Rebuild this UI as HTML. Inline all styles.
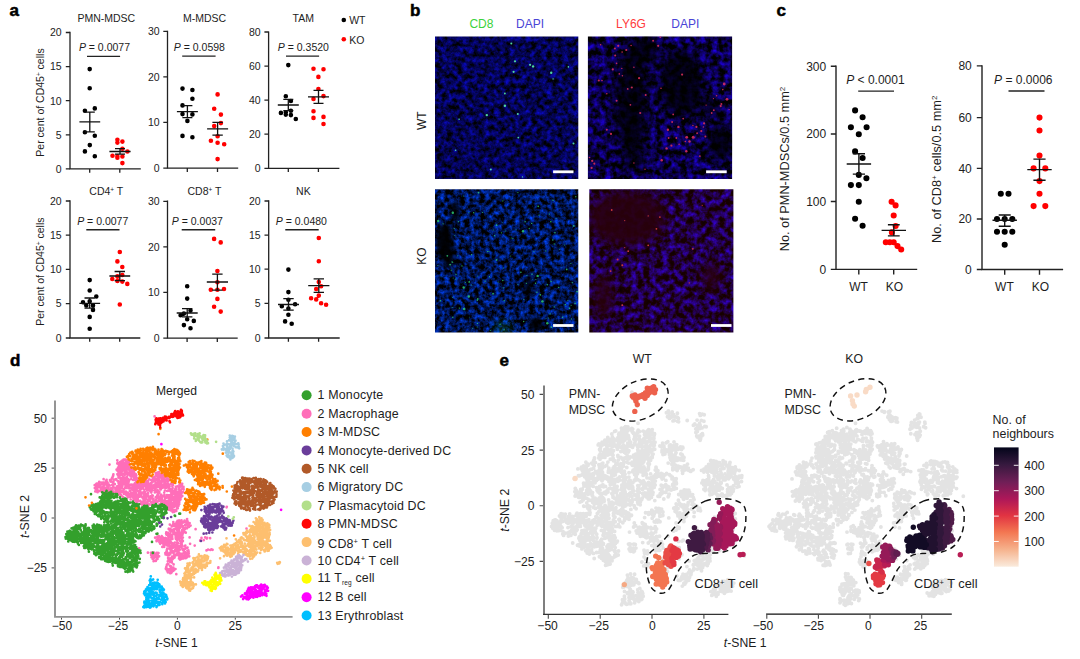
<!DOCTYPE html>
<html><head><meta charset="utf-8"><title>Figure</title>
<style>
html,body{margin:0;padding:0;background:#fff}
svg{display:block}
svg{fill:#1d1d1d}
svg text{font-family:"Liberation Sans",sans-serif}
</style></head><body>
<svg width="1080" height="659" viewBox="0 0 1080 659">
<rect width="1080" height="659" fill="#fff"/>
<text x="9.6" y="15.8" font-size="17" font-weight="bold" fill="#000" stroke="#000" stroke-width="0.5">a</text>
<path d="M70 31.8V168.9H140.8" stroke="#222" stroke-width="1.3" fill="none"/>
<path d="M65.8 168.9H70M65.8 134.8H70M65.8 100.7H70M65.8 66.6H70M65.8 32.5H70M89.7 168.9V172.7M119.8 168.9V172.7" stroke="#222" stroke-width="1.3" fill="none"/>
<text x="61.6" y="172.7" font-size="10.50" text-anchor="end">0</text>
<text x="61.6" y="138.6" font-size="10.50" text-anchor="end">5</text>
<text x="61.6" y="104.5" font-size="10.50" text-anchor="end">10</text>
<text x="61.6" y="70.4" font-size="10.50" text-anchor="end">15</text>
<text x="61.6" y="36.3" font-size="10.50" text-anchor="end">20</text>
<text x="106.3" y="21.7" font-size="10.50" text-anchor="middle">PMN-MDSC</text>
<text x="78.9" y="50.6" font-size="10.50"><tspan font-style="italic">P</tspan> = 0.0077</text>
<path d="M87 56.3L120.1 56.3" stroke="#222" stroke-width="1.35" fill="none"/>
<path d="M89.7 69.1h0M89.7 88.3h0M84.9 110.8h0M94.8 108.4h0M84.9 132.2h0M94.8 135.8h0M89.8 145.1h0M84.9 151.4h0M94.8 156.3h0" stroke="#000" stroke-width="4.6" stroke-linecap="round" fill="none"/>
<path d="M117.4 139.8h0M117.4 142.6h0M122.4 141.6h0M122.4 148.7h0M127.4 151.5h0M112.5 155.8h0M117.4 156.3h0M117.4 157.8h0M122.4 156.5h0M122.4 163.1h0" stroke="#ff0000" stroke-width="4.6" stroke-linecap="round" fill="none"/>
<path d="M79.4 121.8H100.2M89.8 112.2V131.9M84.8 112.2H94.8M84.8 131.9H94.8" stroke="#111" stroke-width="1.3" fill="none"/>
<path d="M109.4 151.5H130.6M120 148.7V154.1M115 148.7H125M115 154.1H125" stroke="#111" stroke-width="1.3" fill="none"/>
<path d="M167.5 30.7V168.1H238.2" stroke="#222" stroke-width="1.3" fill="none"/>
<path d="M163.3 168.1H167.5M163.3 122.4H167.5M163.3 76.9H167.5M163.3 31.3H167.5M187.3 168.1V171.9M217.5 168.1V171.9" stroke="#222" stroke-width="1.3" fill="none"/>
<text x="159.6" y="171.9" font-size="10.50" text-anchor="end">0</text>
<text x="159.6" y="126.2" font-size="10.50" text-anchor="end">10</text>
<text x="159.6" y="80.7" font-size="10.50" text-anchor="end">20</text>
<text x="159.6" y="35.1" font-size="10.50" text-anchor="end">30</text>
<text x="204.6" y="21.7" font-size="10.50" text-anchor="middle">M-MDSC</text>
<text x="173.8" y="50.6" font-size="10.50"><tspan font-style="italic">P</tspan> = 0.0598</text>
<path d="M182.2 56.1L215.6 56.1" stroke="#222" stroke-width="1.35" fill="none"/>
<path d="M182.5 88.6h0M192.4 90h0M192.4 98.7h0M182.5 105.4h0M182.5 114.1h0M192.4 114.4h0M187.4 120.9h0M182.5 135.9h0M192.4 137.3h0" stroke="#000" stroke-width="4.6" stroke-linecap="round" fill="none"/>
<path d="M217.6 94.4h0M214.2 108.8h0M220.9 114.6h0M220.9 123.1h0M214.2 126.1h0M217.6 136.2h0M210.9 140.8h0M217.6 142.7h0M224.2 144.2h0M217.6 159.1h0" stroke="#ff0000" stroke-width="4.6" stroke-linecap="round" fill="none"/>
<path d="M176.9 111.6H197.9M187.4 105.7V117.7M182.4 105.7H192.4M182.4 117.7H192.4" stroke="#111" stroke-width="1.3" fill="none"/>
<path d="M207.1 128.9H228.1M217.6 122.4V135.2M212.4 122.4H222.8M212.4 135.2H222.8" stroke="#111" stroke-width="1.3" fill="none"/>
<path d="M268.6 31.4V168.3H339.4" stroke="#222" stroke-width="1.3" fill="none"/>
<path d="M264.4 168.3H268.6M264.4 134.1H268.6M264.4 100.1H268.6M264.4 66.1H268.6M264.4 32H268.6M288.3 168.3V172.1M318.4 168.3V172.1" stroke="#222" stroke-width="1.3" fill="none"/>
<text x="260.7" y="172.1" font-size="10.50" text-anchor="end">0</text>
<text x="260.7" y="137.9" font-size="10.50" text-anchor="end">20</text>
<text x="260.7" y="103.9" font-size="10.50" text-anchor="end">40</text>
<text x="260.7" y="69.9" font-size="10.50" text-anchor="end">60</text>
<text x="260.7" y="35.8" font-size="10.50" text-anchor="end">80</text>
<text x="303.3" y="21.7" font-size="10.50" text-anchor="middle">TAM</text>
<text x="277.8" y="50.6" font-size="10.50"><tspan font-style="italic">P</tspan> = 0.3520</text>
<path d="M286 56.1L319.1 56.1" stroke="#222" stroke-width="1.35" fill="none"/>
<path d="M288.3 65.1h0M285.8 96.3h0M290.9 101h0M290.9 110.8h0M285.8 112.3h0M280.9 112.9h0M285.8 114.6h0M290.9 115.1h0M295.8 119h0" stroke="#000" stroke-width="4.6" stroke-linecap="round" fill="none"/>
<path d="M313.5 68.7h0M323.5 69.2h0M318.4 76.9h0M318.4 89h0M323.5 96.1h0M313.5 98.9h0M313.5 111.3h0M313.5 117.9h0M323.5 116.9h0M323.5 124h0" stroke="#ff0000" stroke-width="4.6" stroke-linecap="round" fill="none"/>
<path d="M277.8 105H298.8M288.3 99.4V110.6M283.3 99.4H293.3M283.3 110.6H293.3" stroke="#111" stroke-width="1.3" fill="none"/>
<path d="M308 96.8H329M318.5 90.4V103.3M313.5 90.4H323.5M313.5 103.3H323.5" stroke="#111" stroke-width="1.3" fill="none"/>
<path d="M70 200.3V338H140.3" stroke="#222" stroke-width="1.3" fill="none"/>
<path d="M65.8 338H70M65.8 303.6H70M65.8 269.4H70M65.8 235.2H70M65.8 201H70M89.7 338V341.8M119.7 338V341.8" stroke="#222" stroke-width="1.3" fill="none"/>
<text x="61.6" y="341.8" font-size="10.50" text-anchor="end">0</text>
<text x="61.6" y="307.4" font-size="10.50" text-anchor="end">5</text>
<text x="61.6" y="273.2" font-size="10.50" text-anchor="end">10</text>
<text x="61.6" y="239" font-size="10.50" text-anchor="end">15</text>
<text x="61.6" y="204.8" font-size="10.50" text-anchor="end">20</text>
<text x="106.3" y="195" font-size="10.50" text-anchor="middle">CD4<tspan dy="-3.2" font-size="6.5">+</tspan><tspan dy="3.2">&#8203;</tspan> T</text>
<text x="77.2" y="224.7" font-size="10.50"><tspan font-style="italic">P</tspan> = 0.0077</text>
<path d="M86.3 229.7L119.5 229.7" stroke="#222" stroke-width="1.35" fill="none"/>
<path d="M89.7 280.1h0M89.7 290.5h0M96.3 296.5h0M83 302.2h0M89.7 301.2h0M86.3 305.4h0M93 305.4h0M93 309.9h0M89.7 316.9h0M89.7 328.7h0" stroke="#000" stroke-width="4.6" stroke-linecap="round" fill="none"/>
<path d="M119.8 252h0M117.4 261.4h0M122.3 267h0M122.3 275h0M117.4 276.4h0M112.3 279h0M117.4 280.9h0M122.3 281.6h0M127.3 283.9h0M119.8 304.5h0" stroke="#ff0000" stroke-width="4.6" stroke-linecap="round" fill="none"/>
<path d="M79.3 303.3H100.1M89.7 298V308.1M84.5 298H94.9M84.5 308.1H94.9" stroke="#111" stroke-width="1.3" fill="none"/>
<path d="M109.4 276H130.2M119.8 271.5V280.6M114.6 271.5H125M114.6 280.6H125" stroke="#111" stroke-width="1.3" fill="none"/>
<path d="M167.5 200.5V338.1H237.7" stroke="#222" stroke-width="1.3" fill="none"/>
<path d="M163.3 338.1H167.5M163.3 292.4H167.5M163.3 246.9H167.5M163.3 201.3H167.5M187.1 338.1V341.9M217.3 338.1V341.9" stroke="#222" stroke-width="1.3" fill="none"/>
<text x="159.6" y="341.9" font-size="10.50" text-anchor="end">0</text>
<text x="159.6" y="296.2" font-size="10.50" text-anchor="end">10</text>
<text x="159.6" y="250.7" font-size="10.50" text-anchor="end">20</text>
<text x="159.6" y="205.1" font-size="10.50" text-anchor="end">30</text>
<text x="204.5" y="195" font-size="10.50" text-anchor="middle">CD8<tspan dy="-3.2" font-size="6.5">+</tspan><tspan dy="3.2">&#8203;</tspan> T</text>
<text x="171.8" y="224.7" font-size="10.50"><tspan font-style="italic">P</tspan> = 0.0037</text>
<path d="M181.7 229.7L215.2 229.7" stroke="#222" stroke-width="1.35" fill="none"/>
<path d="M187.2 286.3h0M187.2 298.6h0M190.5 310.6h0M183.9 313.6h0M180.6 315.3h0M187.2 319.3h0M193.8 320.9h0M183.9 325.1h0M190.5 328.2h0" stroke="#000" stroke-width="4.6" stroke-linecap="round" fill="none"/>
<path d="M214.1 238.9h0M220.7 242.4h0M217.4 271h0M217.4 282.3h0M210.8 289.8h0M217.4 289.8h0M224 289h0M217.4 298.9h0M214.1 306.7h0M220.7 311.6h0" stroke="#ff0000" stroke-width="4.6" stroke-linecap="round" fill="none"/>
<path d="M176.7 313H197.7M187.2 308.7V316.9M182 308.7H192.4M182 316.9H192.4" stroke="#111" stroke-width="1.3" fill="none"/>
<path d="M206.8 282H228M217.4 274.1V290.2M212.2 274.1H222.6M212.2 290.2H222.6" stroke="#111" stroke-width="1.3" fill="none"/>
<path d="M268.7 200.3V338H339.7" stroke="#222" stroke-width="1.3" fill="none"/>
<path d="M264.5 338H268.7M264.5 303.4H268.7M264.5 269.2H268.7M264.5 235.1H268.7M264.5 201H268.7M288.4 338V341.8M318.6 338V341.8" stroke="#222" stroke-width="1.3" fill="none"/>
<text x="260.7" y="341.8" font-size="10.50" text-anchor="end">0</text>
<text x="260.7" y="307.2" font-size="10.50" text-anchor="end">5</text>
<text x="260.7" y="273" font-size="10.50" text-anchor="end">10</text>
<text x="260.7" y="238.9" font-size="10.50" text-anchor="end">15</text>
<text x="260.7" y="204.8" font-size="10.50" text-anchor="end">20</text>
<text x="303.4" y="195" font-size="10.50" text-anchor="middle">NK</text>
<text x="275.8" y="224.7" font-size="10.50"><tspan font-style="italic">P</tspan> = 0.0480</text>
<path d="M285.3 229.7L318.7 229.7" stroke="#222" stroke-width="1.35" fill="none"/>
<path d="M288.4 269.6h0M288.4 292.1h0M288.4 299.8h0M281.8 306.2h0M295.1 304.3h0M288.4 308.5h0M288.4 314.8h0M285.1 321.4h0M291.7 323.8h0" stroke="#000" stroke-width="4.6" stroke-linecap="round" fill="none"/>
<path d="M318.8 238h0M318.8 261.2h0M318.8 282h0M321.1 286.3h0M316.2 289h0M318.8 295.6h0M311.1 298.2h0M316.2 299.4h0M321.1 303.3h0M326.1 304.7h0" stroke="#ff0000" stroke-width="4.6" stroke-linecap="round" fill="none"/>
<path d="M278 304.5H299M288.5 298.6V310.1M283.3 298.6H293.7M283.3 310.1H293.7" stroke="#111" stroke-width="1.3" fill="none"/>
<path d="M308.2 285.6H329.4M318.8 278.8V292.3M313.6 278.8H324M313.6 292.3H324" stroke="#111" stroke-width="1.3" fill="none"/>
<text font-size="10.50" text-anchor="middle" transform="translate(44 102.5) rotate(-90)">Per cent of CD45<tspan dy="-3.2" font-size="6.5">+</tspan><tspan dy="3.2">&#8203;</tspan> cells</text>
<text font-size="10.50" text-anchor="middle" transform="translate(44 271.6) rotate(-90)">Per cent of CD45<tspan dy="-3.2" font-size="6.5">+</tspan><tspan dy="3.2">&#8203;</tspan> cells</text>
<circle cx="343.8" cy="20" r="2.3" fill="#000"/><circle cx="343.8" cy="39.2" r="2.3" fill="#f00"/>
<text x="349.2" y="24.3" font-size="10.50">WT</text>
<text x="349.2" y="43.5" font-size="10.50">KO</text>
<text x="776.5" y="15.9" font-size="17" font-weight="bold" fill="#000" stroke="#000" stroke-width="0.5">c</text>
<path d="M836 65.5V269.4H917.2" stroke="#222" stroke-width="1.4" fill="none"/>
<path d="M830.8 269.4H836M830.8 201.5H836M830.8 134H836M830.8 66.2H836M858.8 269.4V274.6M893.7 269.4V274.6" stroke="#222" stroke-width="1.4" fill="none"/>
<text x="826.2" y="273.7" font-size="12" text-anchor="end">0</text>
<text x="826.2" y="205.8" font-size="12" text-anchor="end">100</text>
<text x="826.2" y="138.3" font-size="12" text-anchor="end">200</text>
<text x="826.2" y="70.5" font-size="12" text-anchor="end">300</text>
<text x="846.2" y="84.2" font-size="12"><tspan font-style="italic">P</tspan> &lt; 0.0001</text>
<path d="M858.2 91.1L894 91.1" stroke="#222" stroke-width="1.35" fill="none"/>
<path d="M855.1 110.4h0M862.6 117.2h0M850.9 127.3h0M866.6 127.3h0M858.8 134.3h0M855.1 151.4h0M862.6 158h0M858.8 174.9h0M866.4 178.3h0M850.9 185.1h0M858.8 185.1h0M858.8 201.8h0M855.1 218.7h0M862.6 225.8h0" stroke="#000" stroke-width="6.1" stroke-linecap="round" fill="none"/>
<path d="M891.6 201.7h0M895.6 205.4h0M893.7 215.5h0M895.6 226h0M891.9 232.4h0M885.8 242.2h0M889.8 242.2h0M893.7 242.2h0M897.5 246.1h0M901.2 249.5h0" stroke="#ff0000" stroke-width="6.1" stroke-linecap="round" fill="none"/>
<path d="M846.7 164H871.1M858.9 153.7V174.1M852.8 153.7H865M852.8 174.1H865" stroke="#111" stroke-width="1.4" fill="none"/>
<path d="M881.6 230.4H906M893.8 224.8V235.9M887.9 224.8H899.7M887.9 235.9H899.7" stroke="#111" stroke-width="1.4" fill="none"/>
<text x="858.5" y="290.9" font-size="12" text-anchor="middle">WT</text>
<text x="894.3" y="290.9" font-size="12" text-anchor="middle">KO</text>
<path d="M982 65.2V269.5H1063.1" stroke="#222" stroke-width="1.4" fill="none"/>
<path d="M976.8 269.5H982M976.8 219H982M976.8 168.4H982M976.8 117.6H982M976.8 65.9H982M1004.7 269.5V274.7M1039.5 269.5V274.7" stroke="#222" stroke-width="1.4" fill="none"/>
<text x="971.8" y="273.8" font-size="12" text-anchor="end">0</text>
<text x="971.8" y="223.3" font-size="12" text-anchor="end">20</text>
<text x="971.8" y="172.7" font-size="12" text-anchor="end">40</text>
<text x="971.8" y="121.9" font-size="12" text-anchor="end">60</text>
<text x="971.8" y="70.2" font-size="12" text-anchor="end">80</text>
<text x="994.1" y="84.2" font-size="12"><tspan font-style="italic">P</tspan> = 0.0006</text>
<path d="M1008.5 91L1044.5 91" stroke="#222" stroke-width="1.35" fill="none"/>
<path d="M1000.8 193.7h0M1008.5 193.7h0M997 219h0M1004.7 219h0M1012.3 219h0M997 231.7h0M1004.7 231.7h0M1012.3 231.7h0M1004.7 244.7h0" stroke="#000" stroke-width="6.1" stroke-linecap="round" fill="none"/>
<path d="M1039.5 117.6h0M1039.5 130.5h0M1039.5 155.6h0M1033.6 168.4h0M1045.3 168.4h0M1039.5 181.1h0M1039.5 193.8h0M1033.6 206.1h0M1045.3 206.1h0" stroke="#ff0000" stroke-width="6.1" stroke-linecap="round" fill="none"/>
<path d="M992.5 220.2H1016.9M1004.7 215V226.2M998.7 215H1010.7M998.7 226.2H1010.7" stroke="#111" stroke-width="1.4" fill="none"/>
<path d="M1027.3 169.6H1051.7M1039.5 159.1V180.2M1033.4 159.1H1045.6M1033.4 180.2H1045.6" stroke="#111" stroke-width="1.4" fill="none"/>
<text x="1004.4" y="290.9" font-size="12" text-anchor="middle">WT</text>
<text x="1040.4" y="290.9" font-size="12" text-anchor="middle">KO</text>
<text font-size="12.75" text-anchor="middle" transform="translate(788.6 169) rotate(-90)">No. of PMN-MDSCs/0.5 mm<tspan dy="-4" font-size="8">2</tspan><tspan dy="4">&#8203;</tspan></text>
<text font-size="12.75" text-anchor="middle" transform="translate(940.6 169.3) rotate(-90)">No. of CD8<tspan dy="-4" font-size="8">+</tspan><tspan dy="4">&#8203;</tspan> cells/0.5 mm<tspan dy="-4" font-size="8">2</tspan><tspan dy="4">&#8203;</tspan></text>
<text x="410" y="15.7" font-size="17" font-weight="bold" fill="#000" stroke="#000" stroke-width="0.5">b</text>
<text x="469.4" y="28" font-size="12" fill="#3bd23b">CD8</text>
<text x="516.1" y="28" font-size="12" fill="#4a45d6">DAPI</text>
<text x="616.1" y="28.4" font-size="12" fill="#ff3b3b">LY6G</text>
<text x="671.3" y="28.4" font-size="12" fill="#4a45d6">DAPI</text>
<text font-size="12" text-anchor="middle" transform="translate(426.2 120.7) rotate(-90)">WT</text>
<text font-size="12" text-anchor="middle" transform="translate(426.2 256) rotate(-90)">KO</text>
<defs>
<filter id="n1" x="0" y="0" width="1" height="1" color-interpolation-filters="sRGB">
<feTurbulence type="fractalNoise" baseFrequency="0.19" numOctaves="4" seed="7" result="t"/>
<feColorMatrix in="t" type="matrix" values="0.06 0 0 0 -0.015  0.06 0 0 0 -0.015  1.3 0 0 0 -0.335  0 0 0 0 1"/>
</filter>
<filter id="n2" x="0" y="0" width="1" height="1" color-interpolation-filters="sRGB">
<feTurbulence type="fractalNoise" baseFrequency="0.16" numOctaves="3" seed="23" result="t"/>
<feColorMatrix in="t" type="matrix" values="0.2 0 0 0 -0.06  0 0 0 0 0  1.6 0 0 0 -0.52  0 0 0 0 1"/>
</filter>
<filter id="n3" x="0" y="0" width="1" height="1" color-interpolation-filters="sRGB">
<feTurbulence type="fractalNoise" baseFrequency="0.2" numOctaves="4" seed="41" result="t"/>
<feColorMatrix in="t" type="matrix" values="0 0 0 0 0  0.5 0 0 0 -0.17  1.8 0 0 0 -0.58  0 0 0 0 1"/>
</filter>
<filter id="n4" x="0" y="0" width="1" height="1" color-interpolation-filters="sRGB">
<feTurbulence type="fractalNoise" baseFrequency="0.16" numOctaves="3" seed="59" result="t"/>
<feColorMatrix in="t" type="matrix" values="0.2 0 0 0 0.03  0 0 0 0 0  1.7 0 0 0 -0.6  0 0 0 0 1"/>
</filter>
<filter id="bl1"><feGaussianBlur stdDeviation="0.6"/></filter>
<filter id="bl8" x="-0.5" y="-0.5" width="2" height="2"><feGaussianBlur stdDeviation="6"/></filter>
<filter id="bl3" x="-0.5" y="-0.5" width="2" height="2"><feGaussianBlur stdDeviation="2.5"/></filter>
<clipPath id="c1"><rect x="435" y="36.4" width="143.3" height="142.7"/></clipPath>
<clipPath id="c2"><rect x="587.9" y="36.4" width="144.2" height="142.7"/></clipPath>
<clipPath id="c3"><rect x="435" y="189.3" width="143.3" height="143.2"/></clipPath>
<clipPath id="c4"><rect x="589.3" y="189.3" width="144.1" height="143.2"/></clipPath>
</defs>
<g clip-path="url(#c1)">
<rect x="435" y="36.4" width="143.3" height="142.7" filter="url(#n1)"/>
<g filter="url(#bl1)" fill="#50d8a0"><circle cx="511.3" cy="43.4" r="1"/><circle cx="515" cy="61.3" r="1.1"/><circle cx="530.1" cy="64.8" r="1.1"/><circle cx="533.1" cy="66.4" r="1.2"/><circle cx="513.6" cy="71.8" r="1.1"/><circle cx="551.2" cy="72.8" r="1.2"/><circle cx="553.1" cy="78.9" r="0.7"/><circle cx="504.9" cy="93.5" r="0.9"/><circle cx="504.9" cy="105.7" r="1.2"/><circle cx="517.8" cy="113.9" r="1"/><circle cx="486.8" cy="115.1" r="1.2"/><circle cx="459.1" cy="119.3" r="0.8"/><circle cx="518.3" cy="137.6" r="0.9"/><circle cx="455.6" cy="150.3" r="0.8"/><circle cx="573.5" cy="143.5" r="1"/><circle cx="490.8" cy="169.4" r="1"/><circle cx="522.5" cy="176.9" r="0.7"/><circle cx="568.4" cy="66.9" r="0.8"/></g>
</g>
<rect x="553.1" y="170.4" width="20.4" height="2.8" fill="#fff"/>
<g clip-path="url(#c2)">
<rect x="587.9" y="36.4" width="144.2" height="142.7" filter="url(#n2)"/>
<g filter="url(#bl8)" fill="#000" opacity="0.8"><ellipse cx="631.7" cy="100.5" rx="16.5" ry="58.8"/><ellipse cx="681.1" cy="84.1" rx="22.3" ry="35.3"/><ellipse cx="721" cy="142.8" rx="14.1" ry="18.8"/><ellipse cx="645.8" cy="48.8" rx="14.1" ry="14.1"/><ellipse cx="711.6" cy="107.6" rx="9.4" ry="9.4"/><ellipse cx="634.1" cy="161.6" rx="11.8" ry="9.4"/></g>
<g opacity="0.85"><g filter="url(#bl1)" fill="#e0305c"><circle cx="600.6" cy="44.8" r="0.8"/><circle cx="618.2" cy="45.8" r="1.1"/><circle cx="614.9" cy="48.6" r="1"/><circle cx="631.1" cy="45.5" r="0.8"/><circle cx="626.3" cy="50" r="1.1"/><circle cx="622.1" cy="52.1" r="0.8"/><circle cx="615.2" cy="55.5" r="1"/><circle cx="616.6" cy="63.4" r="0.8"/><circle cx="621.8" cy="68.4" r="0.7"/><circle cx="612.8" cy="69.4" r="1.1"/><circle cx="619.3" cy="73.9" r="0.8"/><circle cx="622.4" cy="75.7" r="0.8"/><circle cx="639.1" cy="78.2" r="1.1"/><circle cx="598.8" cy="80.5" r="1.1"/><circle cx="602" cy="80.5" r="0.8"/><circle cx="631.8" cy="87.5" r="1.1"/><circle cx="627.7" cy="88.9" r="0.9"/><circle cx="645.7" cy="95.1" r="1"/><circle cx="661" cy="88.2" r="0.8"/><circle cx="682.1" cy="74.6" r="1.1"/><circle cx="653.1" cy="40.7" r="1"/><circle cx="658.2" cy="45.8" r="1.1"/><circle cx="660.3" cy="36.8" r="1.1"/><circle cx="633.9" cy="67.3" r="0.8"/><circle cx="724.2" cy="84" r="0.9"/><circle cx="722.8" cy="89.6" r="0.8"/><circle cx="716.6" cy="95.8" r="0.8"/><circle cx="713.5" cy="98.6" r="0.7"/><circle cx="727" cy="99.3" r="0.8"/><circle cx="721.4" cy="104.1" r="1"/><circle cx="706.1" cy="105.1" r="0.7"/><circle cx="616.6" cy="100.7" r="1"/><circle cx="630.4" cy="104.8" r="0.9"/><circle cx="606.8" cy="93.7" r="0.8"/><circle cx="640.2" cy="113" r="1.1"/><circle cx="673.2" cy="114.4" r="0.9"/><circle cx="713.8" cy="110.2" r="0.9"/><circle cx="711.7" cy="113" r="0.9"/><circle cx="720.7" cy="106.1" r="1.1"/><circle cx="729.1" cy="109.6" r="0.7"/><circle cx="678.4" cy="126.9" r="1.2"/><circle cx="692.9" cy="125.5" r="0.7"/><circle cx="696.4" cy="126.9" r="1.1"/><circle cx="704.1" cy="123.4" r="1.1"/><circle cx="703.4" cy="126.9" r="0.7"/><circle cx="701.3" cy="131.1" r="1.1"/><circle cx="697.1" cy="133.2" r="0.9"/><circle cx="705.4" cy="136.6" r="1"/><circle cx="686.7" cy="137.3" r="0.7"/><circle cx="693.2" cy="137.3" r="0.7"/><circle cx="685.3" cy="141.5" r="0.8"/><circle cx="689.5" cy="141.5" r="1.2"/><circle cx="679.1" cy="144.3" r="0.8"/><circle cx="671.4" cy="145.7" r="1.1"/><circle cx="666.6" cy="148.4" r="1.2"/><circle cx="686.3" cy="151.2" r="1.2"/><circle cx="676.3" cy="138" r="0.9"/><circle cx="668.6" cy="138" r="0.9"/><circle cx="606.8" cy="129.7" r="1"/><circle cx="611" cy="133.9" r="1.1"/><circle cx="589.5" cy="157.5" r="0.8"/><circle cx="592.2" cy="160.9" r="1.1"/><circle cx="594.3" cy="163.7" r="1.1"/><circle cx="591.6" cy="167.9" r="1.1"/><circle cx="633.9" cy="163" r="0.7"/><circle cx="661.7" cy="160.2" r="1.2"/><circle cx="645" cy="169.3" r="0.7"/><circle cx="699.9" cy="156.1" r="0.9"/><circle cx="672.1" cy="122.1" r="1"/><circle cx="667.9" cy="129.7" r="1.2"/><circle cx="683.2" cy="118.6" r="0.9"/><circle cx="693.2" cy="137.3" r="1.5"/><circle cx="686.7" cy="137.3" r="1.4"/><circle cx="724.2" cy="84" r="1.4"/><circle cx="727" cy="99.3" r="1.4"/></g></g>
</g>
<rect x="706.1" y="170.4" width="20.6" height="2.8" fill="#fff"/>
<g clip-path="url(#c3)">
<rect x="435" y="189.3" width="143.3" height="143.2" filter="url(#n3)"/>
<g filter="url(#bl3)" fill="#000" opacity="0.95"><ellipse cx="444.3" cy="241.8" rx="8.5" ry="18.8"/><ellipse cx="448.5" cy="255.9" rx="6.1" ry="11.8"/><ellipse cx="454.4" cy="211.2" rx="4.2" ry="10.6"/><ellipse cx="528.4" cy="286.4" rx="3.8" ry="11.8"/><ellipse cx="535.5" cy="324" rx="7.1" ry="7.1"/></g>
<g opacity="0.8"><g filter="url(#bl1)" fill="#30d070"><circle cx="452.8" cy="212.7" r="0.9"/><circle cx="438.2" cy="221" r="0.7"/><circle cx="443.1" cy="223.8" r="0.6"/><circle cx="458.4" cy="221.7" r="0.6"/><circle cx="454.2" cy="228.7" r="0.6"/><circle cx="468.8" cy="212.7" r="0.5"/><circle cx="502.8" cy="200.9" r="0.6"/><circle cx="538.2" cy="206.4" r="0.8"/><circle cx="496.6" cy="225.2" r="0.9"/><circle cx="501.4" cy="232.8" r="0.6"/><circle cx="516" cy="229.8" r="0.5"/><circle cx="523" cy="231.2" r="0.9"/><circle cx="525.1" cy="221.7" r="0.7"/><circle cx="531.7" cy="223.4" r="0.7"/><circle cx="529.2" cy="228.4" r="0.6"/><circle cx="550.8" cy="221.7" r="0.8"/><circle cx="573.7" cy="225.9" r="0.9"/><circle cx="575.8" cy="196.7" r="0.7"/><circle cx="554.2" cy="243.9" r="0.7"/><circle cx="559.8" cy="249.5" r="0.5"/><circle cx="447.3" cy="255.8" r="0.9"/><circle cx="457.7" cy="255.8" r="0.5"/><circle cx="487.6" cy="251.6" r="0.7"/><circle cx="478.5" cy="192.6" r="0.9"/><circle cx="549.4" cy="214.1" r="0.6"/><circle cx="554.9" cy="232.8" r="0.8"/><circle cx="496.6" cy="259.9" r="0.9"/><circle cx="452.1" cy="262" r="0.8"/><circle cx="450.1" cy="264.6" r="0.9"/><circle cx="452.8" cy="262.5" r="0.5"/><circle cx="461.9" cy="265.9" r="0.7"/><circle cx="465.3" cy="282.3" r="0.6"/><circle cx="469.2" cy="281.9" r="0.9"/><circle cx="463.7" cy="287.5" r="0.6"/><circle cx="468.8" cy="296.5" r="0.7"/><circle cx="477.8" cy="299" r="0.9"/><circle cx="464.2" cy="309" r="0.9"/><circle cx="493.1" cy="293.7" r="0.9"/><circle cx="502.8" cy="280.5" r="0.7"/><circle cx="504.2" cy="300.7" r="0.7"/><circle cx="520.9" cy="272.2" r="0.8"/><circle cx="532" cy="274.3" r="0.7"/><circle cx="537.6" cy="275.9" r="0.6"/><circle cx="535.5" cy="283.3" r="0.7"/><circle cx="526.4" cy="283.3" r="0.6"/><circle cx="536.9" cy="292.3" r="0.7"/><circle cx="540.3" cy="294.8" r="0.9"/><circle cx="542.4" cy="301.4" r="0.9"/><circle cx="547.3" cy="284.7" r="0.8"/><circle cx="554.2" cy="306.9" r="0.7"/><circle cx="550.1" cy="313.9" r="0.7"/><circle cx="548.7" cy="318" r="0.5"/><circle cx="547.3" cy="323.2" r="0.6"/><circle cx="551.4" cy="327.1" r="0.9"/><circle cx="566.7" cy="269.4" r="0.9"/><circle cx="572.3" cy="282.6" r="0.7"/><circle cx="577.1" cy="291.6" r="0.9"/><circle cx="575.1" cy="303.4" r="0.8"/><circle cx="569.5" cy="308.3" r="0.8"/><circle cx="565.3" cy="304.8" r="0.8"/><circle cx="562.6" cy="317.3" r="0.8"/><circle cx="504.2" cy="329.8" r="0.7"/><circle cx="500.1" cy="324.3" r="0.8"/><circle cx="490.3" cy="330.5" r="0.6"/><circle cx="523.7" cy="321.5" r="0.7"/><circle cx="452.8" cy="317.3" r="0.8"/><circle cx="440.3" cy="300.7" r="0.8"/><circle cx="463.7" cy="287.5" r="1.2"/><circle cx="468.8" cy="296.5" r="1.2"/><circle cx="464.2" cy="309" r="1.2"/><circle cx="537.6" cy="275.9" r="1.2"/><circle cx="542.4" cy="301.4" r="1.2"/><circle cx="547.3" cy="323.2" r="1.2"/><circle cx="438.2" cy="221" r="1.2"/><circle cx="523" cy="231.2" r="1.2"/><circle cx="452.8" cy="212.7" r="1.2"/><circle cx="477.4" cy="323.4" r="0.6"/><circle cx="517.9" cy="192.6" r="0.6"/><circle cx="471.3" cy="285" r="0.5"/><circle cx="551.2" cy="281.6" r="0.6"/><circle cx="485.1" cy="281.2" r="0.6"/><circle cx="552.8" cy="240" r="0.7"/><circle cx="558.7" cy="287.4" r="0.7"/><circle cx="570.9" cy="263.5" r="0.6"/><circle cx="459.4" cy="308.1" r="0.7"/><circle cx="503.3" cy="287.8" r="0.6"/><circle cx="539" cy="215.1" r="0.6"/><circle cx="517.9" cy="284.2" r="0.5"/><circle cx="523.9" cy="299.5" r="0.6"/><circle cx="537.6" cy="194.9" r="0.4"/><circle cx="498.2" cy="282" r="0.5"/><circle cx="532.7" cy="279.3" r="0.4"/><circle cx="502.5" cy="222.7" r="0.4"/><circle cx="454.8" cy="235.4" r="0.5"/><circle cx="463.3" cy="196" r="0.5"/><circle cx="489.6" cy="276.7" r="0.6"/><circle cx="469.5" cy="317.4" r="0.4"/><circle cx="493.2" cy="230" r="0.5"/><circle cx="452.2" cy="307.4" r="0.5"/><circle cx="441.1" cy="276.9" r="0.4"/><circle cx="512.9" cy="238.5" r="0.6"/><circle cx="571.1" cy="305.6" r="0.5"/><circle cx="550.6" cy="280.9" r="0.5"/><circle cx="456" cy="274.4" r="0.6"/><circle cx="571" cy="326.5" r="0.6"/><circle cx="485.5" cy="316.1" r="0.4"/><circle cx="451.2" cy="270.2" r="0.6"/><circle cx="455.8" cy="279.1" r="0.7"/><circle cx="489" cy="251.4" r="0.5"/><circle cx="477.1" cy="327.1" r="0.5"/><circle cx="571.5" cy="318.9" r="0.6"/><circle cx="472.6" cy="328.3" r="0.5"/><circle cx="494.6" cy="235.7" r="0.7"/><circle cx="505.3" cy="231.1" r="0.5"/><circle cx="453.2" cy="278" r="0.5"/><circle cx="477.3" cy="300.4" r="0.6"/><circle cx="437.9" cy="265.6" r="0.5"/><circle cx="567.9" cy="300.5" r="0.5"/><circle cx="473.7" cy="212.7" r="0.7"/><circle cx="477.3" cy="276.1" r="0.5"/><circle cx="526.9" cy="275.5" r="0.6"/><circle cx="452.7" cy="297.5" r="0.5"/><circle cx="511.2" cy="238.1" r="0.5"/><circle cx="510.7" cy="256" r="0.5"/><circle cx="541" cy="273.7" r="0.4"/><circle cx="471.6" cy="254.8" r="0.7"/><circle cx="561.2" cy="267.4" r="0.4"/><circle cx="545.8" cy="250.9" r="0.6"/><circle cx="535.9" cy="279.5" r="0.5"/><circle cx="564.6" cy="245" r="0.5"/><circle cx="556.1" cy="218.5" r="0.5"/><circle cx="553" cy="200.2" r="0.7"/><circle cx="533.9" cy="251.6" r="0.5"/><circle cx="546.1" cy="318.5" r="0.4"/><circle cx="503.5" cy="267.9" r="0.5"/><circle cx="482.6" cy="212.5" r="0.6"/></g></g>
<g filter="url(#bl8)" opacity="0.5"><ellipse cx="502.8" cy="329.1" rx="7" ry="6" fill="#0a8a30"/></g>
</g>
<rect x="553.1" y="324.1" width="20.4" height="2.8" fill="#fff"/>
<g clip-path="url(#c4)">
<rect x="589.3" y="189.3" width="144.1" height="143.2" filter="url(#n4)"/>
<g filter="url(#bl8)" fill="#2a000c" opacity="0.9"><ellipse cx="627" cy="218.3" rx="40" ry="28.2"/><ellipse cx="603.5" cy="295.8" rx="9.4" ry="23.5"/><ellipse cx="711.6" cy="277" rx="9.4" ry="14.1"/></g>
<g filter="url(#bl1)" fill="#c83838"><circle cx="611.7" cy="210" r="0.9"/><circle cx="624.7" cy="220.6" r="0.6"/><circle cx="648.2" cy="215.9" r="0.7"/><circle cx="659.9" cy="217.1" r="0.9"/><circle cx="656.4" cy="228.8" r="0.9"/><circle cx="648.2" cy="245.3" r="0.9"/><circle cx="624.7" cy="247.6" r="0.6"/><circle cx="628.2" cy="251.2" r="0.9"/><circle cx="617.6" cy="259.4" r="1"/><circle cx="622.3" cy="265.3" r="1"/><circle cx="610.6" cy="271.1" r="0.9"/><circle cx="702.2" cy="205.3" r="0.6"/><circle cx="692.8" cy="248.8" r="0.9"/><circle cx="689.3" cy="282.9" r="0.7"/><circle cx="622.3" cy="305.2" r="0.9"/></g>
</g>
<rect x="711" y="324.1" width="20.5" height="2.8" fill="#fff"/>
<text x="10" y="365.9" font-size="17" font-weight="bold" fill="#000" stroke="#000" stroke-width="0.5">d</text>
<path d="M55 400.5V616.9H292.6" stroke="#909090" stroke-width="1.9" fill="none" stroke-linejoin="miter"/>
<path d="M51.6 418.2H54.1M51.6 468.1H54.1M51.6 518H54.1M51.6 567.9H54.1M61.5 617.8V619.6M119.5 617.8V619.6M177.4 617.8V619.6M235.3 617.8V619.6" stroke="#444" stroke-width="0.95" fill="none"/>
<text x="47" y="422.5" font-size="12" text-anchor="end">50</text>
<text x="47" y="472.4" font-size="12" text-anchor="end">25</text>
<text x="47" y="522.3" font-size="12" text-anchor="end">0</text>
<text x="47" y="572.2" font-size="12" text-anchor="end">−25</text>
<text x="61.9" y="630.4" font-size="12" text-anchor="middle">−50</text>
<text x="118" y="630.4" font-size="12" text-anchor="middle">−25</text>
<text x="177.4" y="630.4" font-size="12" text-anchor="middle">0</text>
<text x="235.3" y="630.4" font-size="12" text-anchor="middle">25</text>
<text x="176.5" y="646.7" font-size="12.10" text-anchor="middle"><tspan font-style="italic">t</tspan>-SNE 1</text>
<text font-size="12.30" text-anchor="middle" transform="translate(28.8 516.4) rotate(-90)"><tspan font-style="italic">t</tspan>-SNE 2</text>
<text x="176.5" y="394.7" font-size="12.10" text-anchor="middle">Merged</text>
<path d="M124.1 493.9h0M112.4 482h0M122.4 480h0M136.2 475.3h0M123 465.7h0M135.8 501h0M158.7 487h0M136.2 502.7h0M122.1 483.3h0M143 488.3h0M105 490.9h0M133.8 490.8h0M115.4 489.8h0M133.8 497.6h0M132.8 486.6h0M164.5 496.5h0M129.1 484.7h0M179.7 499h0M162.8 485.7h0M168.4 481h0M137.8 497.8h0M134.2 484.8h0M125.3 468.8h0M102.6 486.5h0M160.2 487.2h0M118.4 486.1h0M126.4 468h0M134.5 475.3h0M101.1 482.5h0M182.2 489h0M119.3 471.9h0M176.3 510.9h0M164.4 479.4h0M97.6 492.2h0M177.4 494.5h0M145.6 494h0M120.5 466.9h0M110.7 480.7h0M170.8 504.9h0M121.1 463.9h0M171.8 507.1h0M124.7 459.6h0M139.2 496h0M111.5 489.9h0M180.1 494.3h0M122.3 486.1h0M181.4 483.8h0M130.8 468.1h0M115.7 479.6h0M161.3 482.8h0M160.4 475.4h0M137.2 480.6h0M106.8 492.1h0M172.7 491.1h0M127.7 474.9h0M139.6 496.7h0M117.6 480.9h0M118.9 465.9h0M98.9 485h0M124.3 484.3h0M130 471.8h0M151 501.9h0M121.3 470.2h0M166.4 504.6h0M155.4 484.9h0M120.3 483.3h0M157.7 476.5h0M136.3 475.6h0M158.5 486h0M146.3 506h0M102.7 491.1h0M155.6 480.4h0M165.6 500.8h0M144.7 495.8h0M142.4 497.6h0M120.5 490.8h0M137.8 484.5h0M130.6 470h0M112.5 489.8h0M119.7 469.1h0M117.5 470.8h0M127.9 469.3h0M135.3 477.9h0M145.8 482.3h0M175.8 500.9h0M180 484.6h0M164.7 502.9h0M168.3 480.8h0M125.6 467.6h0M124 469.8h0M179.7 487h0M161.2 496h0M161.9 481.8h0M159.4 500.9h0M114.8 484.2h0M132.8 470.6h0M170.1 502.3h0M135.9 474.5h0M134.1 479.5h0M149.9 485.3h0M176.2 504.2h0M97.8 490.6h0M96.5 486.7h0M139.5 483.1h0M173 503.6h0M103.6 490.6h0M137.8 501.4h0M137.5 495.3h0M163 485.5h0M125.2 468.8h0M129.6 470.2h0M171.8 509h0M140.7 495.5h0M126 479.5h0M127.6 466.3h0M132.4 467.5h0M123.5 479.4h0M164.9 482.9h0M153 503.6h0M123.5 468.6h0M101.2 491h0M130.5 467.6h0M158.9 499.2h0M121.5 469.4h0M94.7 485.2h0M125.6 467.4h0M138.5 480.3h0M145.4 483.7h0M141.4 492.9h0M168.1 497.1h0M129.7 468.1h0M117.9 475.3h0M126.7 462.6h0M145.3 503.1h0M136.6 485.7h0M109.3 490.1h0M128 497.2h0M145 485.6h0M137.7 495.8h0M180.7 485.1h0M155.1 484.3h0M152.1 495.4h0M172.5 507.3h0M144.3 482.5h0M175.3 510.4h0M133.8 484.7h0M178.9 498.7h0M140.7 484.6h0M126.7 481.9h0M117.6 470.9h0M102.3 492.3h0M128.4 488.2h0M177.9 503.9h0M157.9 494h0M136.2 477.4h0M108.8 493.9h0M176.2 491.4h0M124.4 459.9h0M145.3 492.1h0M169.4 488h0M148.3 495.9h0M112 478.2h0M130.3 468.2h0M132.8 497.2h0M166.1 486.7h0M181.5 486.6h0M162.1 477.4h0M176.2 501.9h0M171.5 499.8h0M153.4 498.9h0M131.1 470.2h0M103.4 484.3h0M176.1 505.6h0M169.1 501.1h0M121.4 468.6h0M145.9 497.6h0M164.7 480.9h0M102.5 490.5h0M156.3 486.1h0M148 506.9h0M169 499.4h0M173.5 504.3h0M158 477h0M140.1 503.8h0M140.8 496.5h0M177.1 504.2h0M131.9 489.5h0M133.3 476.3h0M119.2 476.6h0M119.8 468.7h0M109.9 485.5h0M107.4 493.6h0M124.9 492.9h0M137.7 501.2h0M131.3 492.7h0M113.1 486.3h0M95.3 491.4h0M134.2 477.9h0M144.4 482.9h0M154.3 480.7h0M163.6 475.3h0M129.3 487.6h0M136.2 493h0M147.9 482.2h0M145.3 497.2h0M160.3 488.9h0M102.5 490.7h0M160.9 477h0M173.5 505.4h0M118.9 481.6h0M183.6 489.4h0M118 486.4h0M130.4 473.4h0M178 497.8h0M168.9 487.7h0M158.9 486.8h0M97.7 486.8h0M168 483.5h0M123.5 470.1h0M160.9 494.8h0M147.5 489.8h0M177.8 500.3h0M124.8 493h0M146.8 505.2h0M158.1 482.4h0M130.7 499.5h0M102.8 482.7h0M135.2 474.8h0M176.9 503.6h0M120.5 478.9h0M182.3 495.9h0M178.7 500.4h0M127.8 461.4h0M157.7 478.5h0M174.3 496.9h0M167 495.2h0M179.3 501.9h0M121.5 461.3h0M133.3 493.1h0M178.6 498.7h0M117.9 468.9h0M148.1 481h0M119.8 491h0M149.1 489.1h0M135.5 489.4h0M154.9 492.4h0M142.3 482.9h0M157 502.1h0M140.9 494.7h0M136.1 496.3h0M161.2 486h0M136.1 484.4h0M96.2 490.4h0M146.3 487.4h0M121.1 487.9h0M165.4 487.9h0M152.6 479.7h0M169.6 486.2h0M128.8 462.2h0M162.2 497.3h0M164.4 483.5h0M138.7 496.2h0M179.5 484.5h0M126.7 462.6h0M174.6 499.5h0M166.6 477.6h0M120.3 464.1h0M175 500.5h0M167.1 490.9h0M120.5 473.1h0M133.4 497.8h0M127.9 472.9h0M161.8 486.6h0M165.9 503.8h0M161 482.8h0M178 502h0M121.2 487.8h0M122.2 474.7h0M152.3 490.5h0M166.6 502.8h0M110.1 492.2h0M168.8 498h0M118.1 468.5h0M128.4 488.2h0M122.4 474.2h0M143.5 499.7h0M156.9 478.7h0M172.5 492.5h0M168.8 495.3h0M113.6 484.1h0M126 477.5h0M160.9 498.2h0M100.3 485.2h0M96.7 483.5h0M127.6 486h0M144.6 485.7h0M103.6 482.6h0M155.8 497h0M145.1 502.5h0M159.6 476.8h0M128.3 483.8h0M121.6 472.4h0M158.6 474.7h0M169.6 486h0M152.3 488.8h0M156 503.3h0M166.2 480h0M126.3 477.3h0M146.3 487.1h0M178.3 493.6h0M118.2 492.9h0M122.9 478.9h0M157.1 474h0M135.2 486.3h0M156.3 475.6h0M159.9 481.9h0M164.6 482.9h0M168 490.5h0M172 502.6h0M170.8 491.6h0M151.6 504.9h0M121.5 486.1h0M123.5 476.7h0M120.1 465.4h0M126.2 482.4h0M120 485.2h0M126 488.1h0M176.3 506.1h0M127.8 472.8h0M168.2 485.8h0M144.6 504.5h0M106.3 481.1h0M130.6 470.8h0M153.3 500.9h0M121.1 484.9h0M125.3 470.2h0M123.6 459.7h0M105 484.2h0M145.5 486h0M150.4 497.7h0M101.3 490.8h0M129.6 485.4h0M168.3 487.6h0M120.7 474.6h0M119.9 487.8h0M172.8 511h0M158 477.5h0M149.3 486.5h0M160.7 496.7h0M146.2 499.5h0M156 479.1h0M175.8 486.9h0M139.4 485.1h0M142.7 487h0M155.6 482.1h0M162 478h0M161.2 500.2h0M115.1 492.3h0M140.3 491.3h0M177.8 508.3h0M155.7 473h0M134 491.1h0M148.8 488.9h0M148.1 493.2h0M137.9 486.6h0M134.7 479.1h0M170.7 510.4h0M98.6 483.8h0M126 480.3h0M147.4 507.1h0M175.3 489.1h0M166.5 485.2h0M126.8 464.6h0M157.9 501.4h0M102.5 487.2h0M170.9 494.5h0M171.2 499.3h0M131.1 484.6h0M120.4 463.6h0M123.3 497.2h0M112.5 489.4h0M132.1 485.3h0M129.9 469.6h0M147 490.2h0M178.9 499.3h0M148.3 501.5h0M112.4 493.1h0M151.8 482.7h0M160.5 474.8h0M152.2 495.5h0M118.9 484.5h0M111.2 488.2h0M160.4 477.5h0M140 486.4h0M148.3 501h0M145.1 505h0M163.9 479.5h0M146.8 486.7h0M122.7 492.2h0M146.2 488.7h0M156.1 486.4h0M145.2 503.8h0M124.3 465.5h0M140.4 500.9h0M178.3 503.2h0M126.3 461.7h0M116.1 479h0M168.9 506.7h0M173.6 493.5h0M134.6 477.3h0M135.2 469.8h0M112.4 488.5h0M136.3 500.9h0M175.8 501.8h0M162.5 474.2h0M162.7 502.8h0M164.9 484.4h0M95.7 488.9h0M171.5 492h0M169.3 495.4h0M157.2 485h0M134.2 495.2h0M157.3 496h0M119.7 472.7h0M167 479.9h0M161 481.4h0M128.7 486.9h0M172.4 505h0M124.5 468h0M133 472.8h0M158.8 496.9h0M178.4 506h0M127.8 466h0M102.2 483.8h0M167.9 478.5h0M166.4 506.7h0M175.7 496.1h0M173 485.3h0M132.5 474h0M183.4 488.2h0M100.8 488.9h0M161.3 502.9h0M123.1 468.9h0M136.2 482.4h0M142.7 485.5h0M168.3 509.3h0M128 496.2h0M136.1 502.4h0M143.2 493.6h0M99.3 484h0M119.5 493.7h0M162.2 475.9h0M107 486.6h0M158.8 476.5h0M167.2 480.5h0M156.6 498.1h0M156.3 491.9h0M180 492.8h0M129.2 496.6h0M143.7 486.5h0M157.2 473.5h0M173.3 498.4h0M147.5 485.9h0M176.9 499.2h0M151.3 492.6h0M101 487.7h0M172.8 506.6h0M141.1 488.9h0M135.8 494.6h0M147 490.1h0M165.4 479.6h0M123.9 489.2h0M135.9 501.3h0M135.1 500.3h0M150.9 496.2h0M177.9 498.7h0M174.9 498.7h0M168 487.3h0M173.7 498h0M132.4 484.9h0M135.6 486.2h0M108.7 488.1h0M132.9 495h0M178.9 487.3h0M174.5 501.8h0M138.2 482h0M125.9 487.1h0M120.1 484h0M131.4 474.5h0M118.5 477.6h0M142.3 504.8h0M167.6 490.9h0M149.9 499h0M122.1 484.2h0M165.9 497.8h0M145 484.5h0M180.8 490.5h0M129.9 490.6h0M114.2 479.5h0M157.6 480h0M134.5 487.8h0M119.3 464.9h0M127.7 473.2h0M149.2 479.3h0M148.2 483.7h0M145 494.6h0M179.5 496.4h0M168.1 502.1h0M120 484.8h0M139.3 487.5h0M158.5 484.5h0M154.9 479.2h0M164.2 492.5h0M176.3 501h0M170.3 491.2h0M112.8 491.3h0M143.3 502.8h0M122.1 492.2h0M170.9 483.7h0M146.9 484.3h0M119.7 485.7h0M143.6 491.9h0M133.7 486.8h0M145 482.8h0M134.8 473.6h0M99.8 486.9h0M130.3 475.6h0M159.6 475.5h0M166.5 476.8h0M137.3 481.1h0M151.2 497h0M119.7 466.5h0M165.1 498.4h0M104 483.4h0M174.6 492.5h0M120.5 491.7h0M146.1 498.6h0M129.2 468.3h0M120.3 485.8h0M109.8 492.4h0M152.4 498.2h0M174.3 505.6h0M172.3 486.1h0M146.6 497.1h0M157.4 485.9h0M163.9 503.2h0M133.9 472.3h0M175.6 495.3h0M115.7 488.3h0M149.1 484h0M136.5 478.9h0M140.3 487.1h0M170.4 496.1h0M157.5 472.5h0M161.1 499h0M121.7 465.8h0M183.5 486.9h0M155.8 497.5h0M124.4 470.6h0M168.2 508.1h0M145.4 480.7h0M143.6 483.7h0M159.1 491.6h0M103.6 492h0M146.8 488.3h0M137 487.9h0M133.8 500.4h0M161.9 476.6h0M167.5 496h0M175.2 504.4h0M123.7 491.8h0M159 476.1h0M126.5 469.2h0M100.1 491.1h0M164.3 484h0M175.7 492.7h0M131.9 476.5h0M143.2 496.5h0M152.8 495.7h0M172 510h0M113.2 475.4h0M142.1 483.5h0M153 477.5h0M177.7 497.1h0M172.3 510.2h0M126.4 470.6h0M122.5 460.3h0M125 487.3h0M151.6 485.9h0M118.1 462.8h0M170.6 509.3h0M134.3 493.1h0M120.7 480.9h0M157.6 480h0M130.4 470.2h0M134.9 495h0M157.6 476.4h0M105.9 480.9h0M102 489.8h0M167.2 484.1h0M148 481.1h0M128.6 493.9h0M161.1 497.2h0M146.2 506.4h0M125 484.5h0M149.1 504.4h0M125.9 491.7h0M162 488h0M112.8 482.4h0M122.5 482.8h0M151.8 495.9h0M120.1 493.3h0M173.5 511.9h0M160.1 497.8h0M132.2 493.2h0M155.5 501.7h0M165.3 485.2h0M180.9 486.2h0M166.1 487.4h0M176.7 502.6h0M148.6 501.3h0M149.3 497.7h0M164.2 485.8h0M152.6 503.6h0M121.8 490.8h0M134.4 484.4h0M179.1 493.7h0M121.1 495.2h0M164.9 490.6h0M171.3 507.1h0M125.3 464.4h0M150 500.4h0M127.4 465.8h0M180.4 493h0M180.5 499.6h0M134.4 485.5h0M135.1 487.9h0M118.4 473.3h0M134.2 491.1h0M139.1 491.7h0M178.9 498.9h0M171.7 483.3h0M110.3 495h0M106.4 488.7h0M129.4 470h0M174.2 501.6h0M108.9 485.8h0M125.8 459.7h0M122.1 488.2h0M118.8 494.7h0M132.1 471.3h0M156.2 500.2h0M166 507.5h0M127.3 493.7h0M148.4 487.2h0M135 496.7h0M103.6 488.8h0M123.5 479.9h0M157.6 490.2h0M107.7 484.8h0M146.3 503.8h0M161.8 486.8h0M100.1 485.2h0M104.2 487.4h0M117.9 491.3h0M144.5 491.8h0M120.7 472.2h0M150.3 487.8h0M173.3 499.8h0M153.6 506.5h0M158.6 479.2h0M144.7 503h0M132.7 472.1h0M122.2 471.5h0M151.1 483.2h0M131 494.6h0M178.1 506.5h0M147.7 490.5h0M156.6 472.9h0M99.2 481.8h0M137 478.1h0M131.3 470.3h0M167 496.5h0M166.4 505.6h0M164.9 482.2h0M117.6 487h0M136.4 493.6h0M109.3 485.5h0M153 502.5h0M159 485.3h0M107.4 483.1h0M164.9 484.6h0M145.5 496.9h0M175.1 505.9h0M173 483.5h0M146.2 489.1h0M117.6 488.5h0M128.5 496.4h0M126.1 492.1h0M134.6 493.2h0M179 491.7h0M133.5 498.9h0M174.9 502.5h0M116.1 492.2h0M160.3 487.2h0M172.5 485.1h0M143.6 492.5h0M171.7 493.7h0M179.3 504h0M123.8 481.6h0M175.1 500.4h0M157.7 477h0M157.3 495.3h0M157 484h0M154.4 504.8h0M150.2 489.9h0M121.2 487.3h0M124.5 483.9h0M121.3 467.7h0M167.2 501.3h0M168.7 504.8h0M111.6 491.7h0M124.4 483h0M141.5 503.2h0M133.7 473h0M166.5 487.7h0M119.3 490.8h0M162.3 480.1h0M145.3 482.5h0M121.2 492h0M171.1 497.3h0M135.7 484h0M132.5 489.6h0M134.5 475.6h0M168.2 505.7h0M123.8 460.6h0M117.1 486.3h0M135.9 475.9h0M132.2 488h0M139.4 487.9h0M171.1 499.1h0M124.8 479.9h0M160.3 497.2h0M124.6 468.9h0M159.4 484.1h0M135.4 480.3h0M127.6 494.7h0M99 485.6h0M181.8 492.7h0M158.9 480.2h0M158.4 485.1h0M177 497.4h0M138 491h0M104.2 485h0M168.3 503.4h0M116.3 489.7h0M164.2 480h0M164.9 486.4h0M104.1 488.1h0M126.5 471.5h0M162.6 486.7h0M136.4 479.7h0M164.3 481.6h0M127.5 479.7h0M107.6 482.5h0M168.9 497.6h0M143.2 503.7h0M165.6 482.1h0M112.2 484.8h0M134.9 492.5h0M155.9 479.5h0M120.8 490.6h0M133.9 471.8h0M102.5 491.4h0M177.6 498.7h0M176.2 489h0M123 465.3h0M151.7 480.6h0M158.8 476h0M151 480h0M164 477.5h0M130.3 497h0M147.6 495.1h0M127.2 466.7h0M169.9 500.6h0M147.1 480.8h0M155.4 503.7h0M130.7 494h0M159.4 504.4h0M117.9 470.5h0M117.3 463.6h0M94.8 488h0M119.4 482.8h0M173.4 499.2h0M136.6 502.9h0M177.1 491.7h0M158.6 481.9h0M113.4 474.3h0M162.1 480.8h0M151.4 488.7h0M133.2 488.7h0M150.8 488.1h0M128.8 481.7h0M127 494.5h0M124.6 482.2h0M128.1 469.5h0M103.3 487.5h0M118 481.5h0M132.6 490.1h0M130.8 470.5h0M158.2 495.7h0M155.3 487.7h0M122.2 471.1h0M150 490.9h0M154.8 490.2h0M161.2 488.3h0M158.9 473.5h0M139.4 494.4h0M175.7 510.1h0M149.9 483.8h0M178.9 489.2h0M111.4 479.7h0M124.7 474.9h0M174 498.6h0M116.1 487.8h0M106.3 493.2h0M176.3 493.2h0M130.6 476.5h0M175.8 502.5h0M138.2 501.1h0M113.1 475.5h0M177.9 494.1h0M172.6 488.1h0M129.2 479.9h0M106.6 483.4h0M136.8 498.5h0M131.3 468.2h0M121.9 484.6h0M182.2 483.8h0M170 479.6h0M127 484.9h0M177.4 486.3h0M126.8 481.5h0M166.2 496.9h0M135.7 487.2h0M157.2 486.8h0M102.9 486.6h0M179.6 489.1h0M129.3 496.9h0M131.3 479.1h0M135.7 474.2h0M135.3 500.7h0M175.5 489.7h0M129 474.2h0M173.7 509.8h0M117.5 463.1h0M143.5 500.6h0M170.5 508.2h0M127.3 467h0M143.9 497.7h0M130.4 468h0M147.6 490.4h0M145.1 482.9h0M125.5 473.9h0M128.7 493.8h0M118.6 483.3h0M176.8 495h0M181 493.7h0M161.6 479.7h0M125.3 482.5h0M127.7 494.5h0M118.2 474.5h0M133.2 480h0M158.4 481.1h0M153.1 485.8h0M148.2 495.5h0M179.3 491.2h0M144.6 486h0M100 485.7h0M105 493.4h0M161.1 475.5h0M176 491h0M119.9 463.7h0M116.9 494.5h0M126.4 495.3h0M160.4 497h0M141.1 485h0M130 474h0M123.2 461.5h0M154.6 484.9h0M154.8 481.5h0M145.5 505.8h0M161.1 482.8h0M171.4 493.1h0M172.7 492.7h0M137.3 495.2h0M157.3 483.2h0M121.6 495.9h0M125.1 487.8h0M147.3 503.7h0M179 504.6h0M158.1 493.2h0M162.4 505.1h0M122.8 482.2h0M175.2 497.9h0M162.4 500.4h0M153.3 485.7h0M148.4 499.5h0M144.3 489.6h0M147.8 483.5h0M162.4 481.6h0M178.9 486.5h0M166.6 503.6h0M117.4 474.2h0M173.3 493.8h0M173.7 505.6h0M120.2 492.6h0M117.1 490.8h0M126.2 462.7h0M176.2 499.1h0M124.9 468.3h0M160.8 489.5h0M153 479.7h0M154.8 480h0M136.9 481h0M163.7 496.1h0M108.4 490.4h0M105.2 492.4h0M117.3 492.5h0M165.8 496.9h0M139.9 489.4h0M120.5 467.5h0M106.6 479.9h0M106.6 491.3h0M177 507.9h0M159.4 498.7h0M106.9 493.5h0M172.8 491.8h0M158.5 496.5h0M175.3 492.7h0M167.4 503.3h0M126.9 478h0M160.5 500.2h0M96.7 484.4h0M171.8 508.1h0M129.2 464.1h0M118.9 484.8h0M125.5 467.8h0M132.9 470.9h0M96.7 491.3h0M133.9 475.9h0M160.2 486.7h0M140.5 489.7h0M123 480.6h0M180.4 499.6h0M132.2 473.9h0M178.7 500.8h0M161.2 496.4h0M140 486.1h0M168.6 509.7h0M127 483.7h0M159.8 476.1h0M146.5 483.6h0M160.5 485.3h0M145.8 499.6h0M110 480h0M124.5 470.7h0M136.3 480h0M173.7 499.6h0M139.2 493.5h0M165.9 480h0M122.4 474.3h0M122.1 491h0M155.6 502.5h0M124.4 463h0M152.2 507.3h0M130.4 487.6h0M114.4 487.5h0M118 467.5h0M151.5 502.9h0M171.9 491h0M119.8 466.6h0M140.7 495.4h0M180 486.4h0M181.8 485.2h0M124.8 481h0M120.6 477.9h0M125.1 484.7h0M169.9 504.8h0M160.1 474.3h0M155 485.8h0M140.9 484.2h0M150.1 498.8h0M152.4 482.3h0M119.8 470.6h0M164.1 502.4h0M158.9 472.2h0M123.5 479h0M161.9 475.7h0M159.3 498.5h0M173.2 497.4h0M170.4 505.2h0M164.4 494.8h0M167.2 480.6h0M120.9 472.2h0M152.6 499h0M106.8 485h0M135 490.6h0M129.1 461.2h0M148.2 487.8h0M144.5 495.5h0M119.7 485.7h0M164 479.1h0M168.6 490.6h0M145.2 481.1h0M140.9 495.3h0M115.8 490.8h0M146.2 487.6h0M125.8 471.9h0M172.2 495.1h0M107.2 491.3h0M156.1 483.1h0M112.9 476.6h0M134.9 483.3h0M119.9 482.3h0M164.3 484.1h0M143 485h0M141 482.4h0M130 466.9h0M118.7 468.2h0M110.4 481.6h0M135.1 476.4h0M172 496.4h0M170.1 489h0M137.9 499.4h0M174.2 512h0M150.3 484.3h0M131.5 470.3h0M178.6 495.6h0M144.2 501.3h0M151.4 484.7h0M157.5 480h0M124.3 480.5h0M136.2 490.4h0M139.3 484.9h0M122.5 463.6h0M117.5 491.8h0M135.4 498.2h0M127.3 467.2h0M126.5 492.4h0M118.8 473.9h0M111.8 491.3h0M176.4 499.9h0M113.5 481.7h0M110.8 492.7h0M180.6 496.1h0M133.9 495.2h0M163.4 487.4h0M119.7 488.8h0M175 504h0M116.6 469.7h0M97.8 484h0M100.5 487.8h0M102.7 488h0M141.3 487.5h0M174.1 499.3h0M178.6 499.1h0M180.7 486.2h0M97 485.1h0M97.3 489h0M167 497.6h0M131.9 493.5h0M161.9 498.2h0M120.1 462h0M105.9 482.1h0M147.3 486.3h0M120.7 486.4h0M175.9 495.8h0M98.6 490.8h0M135.6 496.3h0M128.8 480.6h0M97.8 483.5h0M138.1 486.3h0M128.4 492.8h0M112.3 477.7h0M158.6 492.1h0M128 479.2h0M98.2 487.1h0M136.6 495.1h0M108.6 484.4h0M123.8 491.2h0M149.9 476.1h0M127.2 469h0M145.6 505.1h0M172.1 495.1h0M164.8 500.2h0M113.4 492.4h0M167.8 500.9h0M159.3 492.8h0M134.4 486.5h0M172.7 507.4h0M126.2 498.9h0M142.3 488.3h0M120.1 474.6h0M167.8 481.3h0M116 489.6h0M177.5 504.8h0M116.5 493.4h0M174.1 506.9h0M96.2 484.3h0M118.8 467.9h0M174.4 499.1h0M163 479.1h0M161.4 494.9h0M156.1 487.7h0M106.1 487.8h0M112.1 489.3h0M146.2 502.4h0M124.4 473.4h0M170.8 490.1h0M172 489.3h0M147.6 482.8h0M124.9 465.5h0M154.8 478.3h0M183.2 492h0M154.6 504h0M128.1 493.5h0M148.3 499.7h0M142.4 502.2h0M137.1 488.6h0M128.8 472.4h0M159.4 492.1h0M135.7 474.2h0M130.2 487.8h0M122.9 477.1h0M176.4 496.6h0M139.3 496.4h0M152.7 486.5h0M127.3 492.5h0M170.7 509.4h0M146.1 495h0M137.8 484.1h0M176.3 502.8h0M130.3 469.8h0M130.5 496h0M131.7 469.5h0M127.7 469h0M140.4 487.1h0M123.6 468.2h0M162 484.6h0M139.3 492.9h0M181.1 497.2h0M141.1 492.5h0M174.8 489.9h0M164.8 486.2h0M148.8 488.8h0M154.1 487.7h0M147.7 494h0M155.9 474.6h0M174.6 493.6h0M102.6 488.7h0M140 496.3h0M111.7 490.9h0M127.3 473.6h0M182.8 492.4h0M102.7 483h0M149.8 490.5h0M121.2 461.9h0M131.3 492.5h0M105.5 490.5h0M166.7 479.9h0M156.2 490.7h0M170.1 490.3h0M166.6 507.2h0M127.1 476.9h0M106 488.4h0M163.1 502.6h0M137.3 480.2h0M132.2 494.4h0M124.2 466h0M128.4 467.4h0M125 478.3h0M155 500.8h0M168.8 484.8h0M157.6 484.6h0M172.7 512.1h0M154.5 476.9h0M170.9 501.3h0M179.8 547.5h0M186.6 553.2h0M165.8 538.2h0M182.2 558.1h0M176.2 542.7h0M185 529.1h0M175 529.1h0M179.5 556.7h0M174.3 529.2h0M187.1 520.8h0M161.6 540.3h0M187.6 525.5h0M176.7 522.2h0M175.6 555.5h0M171.2 537.3h0M182.2 529.9h0M165.5 538h0M174.9 542.5h0M188.4 550.4h0M171.6 531.3h0M173.4 567.7h0M179.8 549.7h0M187.4 550.5h0M171.8 572.3h0M185.5 552.9h0M166.4 566.6h0M158.9 540.7h0M169.2 536.7h0M170.2 570.3h0M171.9 571.5h0M188.3 553.5h0M170.7 566.2h0M186.3 557.1h0M181.2 533.4h0M170.1 558.3h0M170.9 573.1h0M174.1 570.2h0M177.4 532.8h0M187.2 522.4h0M180.5 537.1h0M178.9 523.4h0M168.3 536.2h0M179.4 554.7h0M171.1 570.3h0M177.3 540.6h0M168.4 540.2h0M189.6 523.1h0M174.7 547h0M171.2 572.2h0M179.1 553.3h0M181.8 554h0M169.2 546h0M178.4 525.3h0M176.9 535.1h0M186.1 528.1h0M179 521.6h0M182.9 537.6h0M183.2 522.2h0M177 540h0M172.2 536.9h0M179 547.8h0M178.6 532.4h0M159.4 540.8h0M182 555.5h0M168.8 528.8h0M182.9 526.1h0M173.3 552h0M178 538.4h0M162.6 542h0M187.1 524.2h0M165.8 568.8h0M172.1 556.6h0M167.2 548.5h0M189.3 556.3h0M171.5 546.1h0M176.4 526.5h0M177.1 525.1h0M172.5 570.4h0M171.8 526.5h0M188.9 556.3h0M162.3 546.9h0M172.4 538.9h0M175.7 537.7h0M173.5 553.3h0M183.4 528.7h0M166 543.5h0M168.1 558.1h0M155.1 537.7h0M182 539.1h0M170.6 560.8h0M166.6 539.8h0M160.9 542h0M178.2 548.2h0M165.4 542.1h0M167.9 555.4h0M175.5 535.8h0M181.6 523.6h0M176.8 554.1h0M188.6 551.6h0M163.1 537.5h0M188.2 555.3h0M170.6 541.4h0M182.5 533h0M176.3 574.2h0M184.9 549.1h0M181.5 520.4h0M168.3 538.1h0M177.3 526.2h0M172.6 559.2h0M176.4 542.5h0M172.6 534.6h0M179.8 523.6h0M164.8 538.9h0M168.2 544.5h0M179.1 521.2h0M179 558.4h0M159.5 541.3h0M170.7 568.9h0M170.4 553.7h0M173.1 570.3h0M173.4 523.5h0M176.7 551.3h0M170.4 541.7h0M175.5 545.4h0M169.8 545.1h0M166 553.2h0M161.8 538.2h0M171.9 562.4h0M166.9 570.6h0M159.4 542.2h0M179 534.7h0M157.7 537.2h0M181.8 525.7h0M185.1 553.2h0M182.8 549.1h0M172.5 529.8h0M181.1 522.9h0M170 540.8h0M182.8 549.9h0M180 553.5h0M172 558.9h0M175 551.4h0M179.4 525.9h0M179.7 553.5h0M174.2 556h0M178.8 527.6h0M181.8 546.1h0M164 544.4h0M170 546.7h0M180 540.8h0M184 528.2h0M174.2 529.8h0M177.6 522.3h0M179 520.6h0M169.9 535h0M182.8 529.6h0M176.4 546.7h0M186.7 554.9h0M187 557.3h0M171.9 568h0M180.3 535.7h0M160.3 537.8h0M170.2 541.1h0M182 545.8h0M167.3 555h0M174.3 525.7h0M166.1 567.8h0M175.7 526h0M166.2 544.3h0M169 535.1h0M185.1 558h0M167 551.9h0M187.5 547.7h0M178.1 538.3h0M180.2 537.1h0M171.3 542.7h0M178 528.4h0M167.8 561.3h0M166.6 551.4h0M174.5 557.5h0M179.7 524.8h0M182.4 533.4h0M180.7 533h0M187.6 527.3h0M185 554.7h0M169.4 535h0M172.8 551.7h0M168.4 543.1h0M169.9 552.9h0M179.9 557.7h0M167.3 568.9h0M183.8 522.2h0M178.8 550.1h0M187 528.3h0M173.4 532.7h0M168.6 541.9h0M171.5 549.4h0M171.3 535.8h0M176.4 528.3h0M178 534h0M176.5 547.6h0M174.9 550.6h0M173.2 526h0M159.5 540.9h0M162.9 541.2h0M181.5 523.4h0M169.9 536h0M178.2 537.7h0M165.2 540.2h0M177.3 544.4h0M168.5 548.5h0M181.6 547h0M162.3 538.7h0M178.2 547.6h0M179.1 550.3h0M186.9 521.7h0M172.5 525.3h0M164.2 542.8h0M179.4 537.6h0M176.7 523.2h0M173.2 525.1h0M167.8 572.3h0M178.8 536.3h0M163.8 545.2h0M171.6 538.2h0M184.1 555.9h0M177.2 529.6h0M189.1 524h0M174.2 533.7h0M181.9 544.7h0M169.8 542.9h0M176.2 532.8h0M168.1 534h0M170.5 571.6h0M177.9 532.5h0M168 554.9h0M183.3 528.7h0M175.7 548.4h0M170 552.8h0M178.2 521.7h0M181.7 526.4h0M177.5 522.9h0M170.3 560h0M166.1 540.5h0M180.9 546.8h0M169.2 542.4h0M178.6 527.3h0M179.5 532.7h0M189 527h0M188.7 553.3h0M179 531.7h0M179.7 554.9h0M170.8 529.5h0M168.7 528.9h0M170.7 539.4h0M186.1 548h0M173 545.5h0M182.6 527h0M186.6 522.7h0M171.6 567.4h0M168.5 560.9h0M179.1 530.6h0M185.4 553.5h0M166.7 552.8h0M183.6 550.2h0M173.6 532h0M168.3 564.2h0M174.5 556.1h0M166.3 532.3h0M177.1 530.5h0M174.6 532.3h0M182.3 548.8h0M172.8 531h0M167.7 542.2h0M182.9 540.9h0M183.6 531.2h0M179.9 546h0M183.4 558.4h0M174.7 529h0M178.3 546.2h0M173.6 530.7h0M183.9 550.4h0M165.3 539.5h0M180.8 543.9h0M168.6 536.2h0M181.1 558.8h0M178.2 543.2h0M178.2 547.3h0M182.1 556.1h0M171.7 526.1h0M187.1 519.1h0M170.7 569h0M170.3 528.8h0M169.9 534.4h0M167.9 544.2h0M178.1 553.3h0M181.6 554.2h0M167.7 571h0M171.7 537.5h0M173.9 569.8h0M175.1 545.5h0M188.2 552.5h0M163.2 546.8h0M157.9 538.9h0M171.9 536.8h0M184.6 520.7h0M183.8 551.9h0M169.8 560.8h0M181.4 535.5h0M178.8 553.8h0M179.1 552.8h0M165.2 540.9h0M169.6 561.1h0M168 543.7h0M177.8 555.1h0M172.9 546.5h0M178.8 530.1h0M190.6 525.6h0M171.8 536.9h0M165.3 553.1h0M163.1 540.7h0M170.5 531.8h0M187.6 555.1h0M175.8 538.8h0M183.6 549.7h0M169.1 569.4h0M180.1 535.7h0M180.7 555.8h0M168.4 536.5h0M169.9 573.1h0M174.5 551.5h0M168 532.9h0M183.7 522.5h0M173.6 564.4h0M178.8 522.2h0M165.5 554.5h0M185.6 527.7h0M166.4 534.6h0M161.7 541.7h0M158.8 536.2h0M166.8 550h0M182.1 557.6h0M178.4 555h0M181.1 541.8h0M160.4 540.9h0M173.3 558.3h0M160.2 543.8h0M170.4 549.7h0M170.3 561.6h0M179.2 520.7h0M188.5 554.7h0M174.6 557.6h0M170.9 567.4h0M176.2 547.9h0M173 524.5h0M185.4 554.3h0M168.4 559.2h0M171.6 539.1h0M163.6 543.8h0M156.5 540.4h0M170.8 530h0M170 566.1h0M173.7 543.8h0M180.6 559.3h0M172 552.1h0M167.3 545.6h0M175.9 523.7h0M173.3 567.8h0M172.8 543.8h0M188 553h0M156.6 537.4h0M173.9 531.6h0M176.9 544.5h0M185.7 558.2h0M186.4 521.5h0M182.9 558.6h0M183.6 529.3h0M179.4 554.1h0M178.1 548.8h0M175.1 550h0M171.8 551.5h0M159.4 542.1h0M160.3 542.8h0M178.3 551.2h0M170.9 547h0M170.8 549.1h0M163.1 543.7h0M182.3 541.7h0M184 557.1h0M175.5 569h0M172.5 558.6h0M170.7 568.2h0M164.5 545.2h0M166.1 533.5h0M169.3 560.2h0M173.1 547.7h0M170.6 566.5h0M178.5 528.1h0M168.6 536.8h0M175.8 534.5h0M176.9 549.3h0M164.1 545.6h0M157.8 536.4h0M181.8 556.8h0M189 526.7h0M167.5 564.2h0M170.3 571.6h0M181.3 523.5h0M184.2 531.3h0M177.5 520.9h0M187.7 522.6h0M179.4 521.9h0M159.9 540.2h0M181.3 533.5h0M179.4 538.7h0M172 571.7h0M167.6 535.1h0M186.3 522.8h0M188.8 553.3h0M178 536.7h0M173.3 551.7h0M183.3 556.7h0M164.3 546.8h0M168.6 541.1h0M168.7 561h0M181.8 540.9h0M185.2 524.9h0M177.2 544h0M167 539.8h0M172.3 546h0M187.5 553.2h0M166.9 541.7h0M182.4 554.1h0M174 555.9h0M162.9 541.4h0M189.6 523.2h0M188.6 552.9h0M170.2 536.7h0M159 537.5h0M172.2 543.9h0M184.9 552.1h0M182.5 534.7h0M171 534.6h0M179.9 528h0M172.7 543.4h0M161.2 539.2h0M168.1 553.4h0M188 553.2h0M181.7 543.9h0M183.1 533h0M178.8 554.8h0M167.1 543h0M171.7 561.5h0M176 539.1h0M161.1 542.7h0M173.3 522.1h0M168.5 538.5h0M172.9 570.9h0M185.5 528.1h0M181.8 522.9h0M168.4 539.4h0M160.9 541.3h0M174.8 554.6h0M175.4 524.3h0M179.9 556h0M166.9 564.8h0M170.2 561.9h0M180 559.6h0M166.4 568h0M163.3 539.1h0M188.2 523.9h0M180.9 533.4h0M182 557.7h0M161.7 536.2h0M169.8 524.6h0M156.6 541.2h0M171.5 551.4h0M182.1 531.3h0M177 526.6h0M169.8 530.5h0M161.4 541.7h0M163.1 540.1h0M184.1 552.8h0M180.6 558.8h0M180.3 536.1h0M185.8 532.7h0M170.8 570.6h0M180.2 536.4h0M185.6 556.8h0M168 534.6h0M187.6 521.3h0M164.9 542.1h0M169.3 555.2h0M185.3 545.7h0M182.7 548.8h0M161.5 540.9h0M184.5 546.4h0M157 558.6h0M152.7 558.9h0M157.5 557h0M156 556.5h0M153.4 559.2h0M147.9 552.7h0M153.6 561.2h0M154.4 556.2h0M153.7 556.5h0M157.3 557.7h0M152.2 552.5h0M158 553.1h0M151.9 553.3h0M153.3 555.4h0M157.5 558.9h0M154.8 557.1h0M154.5 554.9h0M157.4 555.9h0M157.6 557.5h0M157.7 554.8h0M154.4 556h0M150.9 552.8h0M153 556.8h0M151.1 554.9h0M159.1 556.3h0M154 552.7h0M156.4 559.6h0M155.8 561h0M156.7 552.9h0M152.6 555.7h0M156.3 555h0M151.5 557.2h0M156.2 554.2h0M158.5 553.1h0M157.2 557.6h0M153.6 558.8h0M206.5 550.4h0M212.6 549.8h0M208.1 549.6h0M211.6 549.3h0M210.3 550h0M200.2 540.7h0M201.5 537.9h0M200.5 540.1h0M207.1 537.8h0M205.2 537.4h0M210.1 538.2h0M206.8 538.6h0M203.7 540.2h0M195.6 529.2h0M189.6 537.4h0M190.1 543.8h0M194.7 545.6h0M139.1 548.3h0M226.6 507.3h0M192.9 497.3h0M218.4 567.4h0M109.5 464.6h0M117.3 460.4h0M103.6 479.2h0M154.6 416.4h0M226.8 506.8h0M246.5 528.6h0M218.3 568h0" stroke="#ff6eb9" stroke-width="2.7" stroke-linecap="round" fill="none"/>
<path d="M113.2 533.4h0M129.5 555.7h0M127.8 504.4h0M109.6 558.6h0M135.6 528.5h0M98.6 510.8h0M107.6 559.3h0M143.8 515.3h0M83.8 537.9h0M78 543.7h0M147.5 517h0M144.5 518.4h0M124.1 512h0M124.9 562.7h0M148.7 510h0M108.8 500h0M136.7 512.1h0M122 561.9h0M93 528.3h0M125.4 501h0M132.5 547.4h0M114.8 550.4h0M120.9 549.7h0M128.8 522.3h0M130.4 570.7h0M140.5 538.1h0M126.4 529.5h0M128.7 565.7h0M135.5 507.4h0M97.3 545.8h0M105.1 539.3h0M93.3 506h0M106.9 543.4h0M137.7 537.4h0M79.3 527.8h0M128.7 526.4h0M86.4 530h0M137.5 507.2h0M117.3 542h0M159.3 521.1h0M121.4 554.4h0M87.6 532.9h0M118.3 560.2h0M122.7 507.9h0M73.6 534.5h0M91.3 530.4h0M97.9 507h0M135.2 517.4h0M116.5 511.8h0M118.5 503.8h0M119.7 559.6h0M158 516.9h0M139.9 511.9h0M106.7 547.9h0M116.9 547h0M68.5 535.9h0M111.5 553.3h0M108.7 538.5h0M106.4 507.5h0M136.3 561.5h0M147.4 511.2h0M149.4 523.5h0M106.1 550.5h0M131.6 541.5h0M127.9 551.2h0M129.3 556h0M80.4 529.7h0M107.7 534.6h0M132 536.1h0M142.3 522.9h0M77 542.1h0M118.7 501.1h0M92.1 537.6h0M141.4 510.1h0M128.7 519.7h0M108.3 541.7h0M120.9 542.5h0M100.6 551.7h0M143.7 510.4h0M99.2 535.4h0M103.2 499.8h0M96 555.2h0M102.7 550.9h0M124.1 565h0M145.8 517.4h0M156.2 512.3h0M104.3 522.4h0M121 560.1h0M154.3 514.3h0M130.4 555.9h0M131.6 510.6h0M144.6 523.2h0M115.2 533.2h0M108 556.9h0M118 549.2h0M93.5 506.6h0M150.1 529.1h0M115.9 509.1h0M104.1 536.5h0M131.7 511h0M126.9 505h0M129.9 571.4h0M91.8 549.4h0M87.3 536.7h0M112.8 548.8h0M137.7 510.9h0M85.6 541.9h0M105.7 546.5h0M122.9 549.6h0M133.2 549.5h0M126 499.4h0M105.9 498.1h0M130.8 553.8h0M106.6 490.9h0M104.3 531.7h0M100.7 529.7h0M129.3 508.8h0M102.5 528.9h0M124.6 535.4h0M84.6 535.9h0M132.4 515.7h0M126 557.1h0M123.3 506.8h0M98.9 542.9h0M133.1 552.8h0M107.8 526.1h0M142.4 516.5h0M112 532.5h0M118.5 511.4h0M123.2 563.9h0M148.4 523.6h0M97.5 531.7h0M103.3 527.9h0M86 542.4h0M96.8 549.3h0M132.3 553.8h0M126.6 509.7h0M94.3 543.1h0M118.7 534h0M142 511.4h0M141.4 522.7h0M121.3 542.4h0M80.7 541.1h0M88.4 530.6h0M123.8 561.9h0M115.8 528.1h0M97.2 542.7h0M69.9 531.1h0M111.8 553.2h0M98.2 526.4h0M122.3 510.9h0M105.7 545h0M105.4 558.9h0M100.9 507h0M84.7 530.2h0M134.4 561.2h0M136.4 521h0M102.1 553.1h0M99.1 553.9h0M80.2 540.4h0M120.7 504h0M133.1 504.9h0M101.5 509.3h0M88.8 546.6h0M88.4 542.9h0M99.1 532.4h0M113.8 505.6h0M99 525.1h0M121.1 548.5h0M70 531.7h0M84.9 529.3h0M123.3 566.6h0M108 523.7h0M117.5 516.5h0M134 510.4h0M88.5 531.1h0M128.3 531.7h0M141.8 535.4h0M83.6 533.1h0M76.2 528.1h0M116.9 555.1h0M138.5 516.5h0M108.9 547.3h0M134.7 510.5h0M110.2 541.5h0M67.3 535.8h0M105.1 547.1h0M161.2 512.5h0M66.6 536.8h0M88.4 530.8h0M105 495.5h0M110.6 558.8h0M142.8 516.7h0M141 522.7h0M66.9 538.6h0M131.9 556.3h0M99.3 550.3h0M135.2 506.6h0M108.6 493h0M98.8 552.2h0M163.5 509h0M98.5 506.5h0M130.3 523.2h0M130.6 533.3h0M107.2 522.1h0M127.8 526.6h0M141.5 516.9h0M137 512.2h0M153.5 507.3h0M122 556.4h0M121.8 565.1h0M86 545.5h0M96.4 541.6h0M137.5 530.5h0M128.8 520.5h0M140.1 521h0M107.7 528.2h0M136.8 512.3h0M110.8 497.8h0M162.5 514.8h0M107.2 503.3h0M99.2 557.1h0M129.2 529.6h0M104.7 555.6h0M71.6 528.4h0M166.9 509.3h0M140.9 510.8h0M78.6 527.9h0M102.1 535.7h0M95.6 532.3h0M74.2 532.3h0M106.5 496.5h0M112.4 559.7h0M109.1 499.3h0M100.2 529.8h0M108.2 530.4h0M71 534.5h0M97.3 529.7h0M125.2 568.4h0M95.6 541.5h0M118.5 552.6h0M108.4 562h0M150.8 516.9h0M128.9 536h0M142.3 525.2h0M109.4 552.4h0M133.8 536.3h0M158 508.4h0M112.6 495.2h0M136.7 523.8h0M81.9 539.2h0M100.1 539.9h0M149.1 520.8h0M98.6 549h0M124.3 511.8h0M136.4 525.7h0M120 539.7h0M138.6 514.6h0M120.1 512.6h0M114.6 514.6h0M145.2 512.4h0M144.8 511.5h0M123.4 519.7h0M76.2 537.1h0M134.9 560.4h0M118.5 507.4h0M106.8 530.9h0M101.4 547.8h0M114.4 538.5h0M118.3 538.3h0M108.2 518.9h0M91.3 539.8h0M90.7 530.8h0M132 514.4h0M90.9 509.3h0M144.7 519.4h0M125.9 551.2h0M116.6 522.1h0M161.2 505.8h0M111.3 523.6h0M95.5 506.3h0M116.1 504.4h0M143.4 524.4h0M140.8 510.2h0M116.3 544.3h0M90.7 541.6h0M106.9 536.7h0M94.7 506.6h0M133.6 519.7h0M117.1 522.2h0M124.7 543h0M94 526.8h0M113.7 515.1h0M97.1 511.6h0M97 504.4h0M130.4 502.5h0M115.9 522.7h0M146.7 509h0M118.3 518.2h0M136.9 566.6h0M128.2 569.6h0M119.2 530.2h0M113.9 552.5h0M130.7 526h0M108.3 546.4h0M119.5 507.2h0M138.7 516.4h0M109.9 526.8h0M135.3 527.4h0M140.8 523.2h0M112.9 493.8h0M117.7 524.4h0M110.3 521.4h0M129.1 523.9h0M112.4 563.6h0M105.8 546.9h0M133.8 528.1h0M98.9 549.6h0M89.6 542.5h0M150.5 521.9h0M141.2 537.3h0M98.2 551.1h0M118 530.3h0M132.6 515.2h0M128.2 528.7h0M96.2 546.6h0M102.8 546h0M160.9 512.1h0M93.6 531.3h0M152.9 508.1h0M154.7 510.2h0M127.7 572.1h0M100.9 525.6h0M134.3 505.1h0M88.4 549.2h0M123.4 501.3h0M126.7 561.1h0M135.8 504.9h0M97.4 529h0M101.9 511.9h0M98 540.3h0M114.1 532h0M128 544.7h0M104.1 532.1h0M95 506.1h0M135.1 552.1h0M115.4 516.4h0M103.2 542.4h0M109.3 552.7h0M133.4 509h0M124.5 543.6h0M142.7 518.5h0M140.6 552.9h0M84.2 542.7h0M122.7 523.8h0M129.1 522.6h0M115.6 522.7h0M99.3 503.5h0M122.9 510.7h0M104.7 497.9h0M86.1 544h0M102.7 503.8h0M125.7 523.1h0M103.9 546.9h0M94.5 550.3h0M106.5 536.8h0M129.1 513.9h0M136.4 508h0M138.1 508.9h0M96.9 550.9h0M86.7 541.5h0M122 561.2h0M70.5 533.6h0M129.3 529.5h0M127.1 532.8h0M144.8 515.1h0M112.7 526.2h0M111 515.2h0M115.6 501.6h0M88.8 528.2h0M99.6 503.5h0M145.3 507.9h0M88.2 542.5h0M129.5 516.7h0M67.4 531.7h0M153.4 512.2h0M136.7 550.4h0M115.6 543.9h0M106.1 544.2h0M132.2 518.9h0M133.9 559h0M130.4 564.7h0M101 530.6h0M92.7 549.2h0M99.7 507.9h0M112.3 540h0M75 537h0M124.3 562.6h0M80 534.2h0M96.2 526.8h0M144.8 518.4h0M133.6 525.8h0M91.8 546.4h0M121.2 538.4h0M104.5 504.5h0M161.3 509.1h0M113.7 503.2h0M137.9 554.3h0M102.8 527.6h0M122.6 504h0M125.7 559.4h0M97.1 554.3h0M101.3 531.1h0M110.8 560.8h0M93.8 524.6h0M140.2 519.2h0M106.7 535.4h0M99.4 531.5h0M102.3 527.5h0M114.2 519.4h0M110.9 534.4h0M125.6 564.8h0M163 506.1h0M115.2 550.7h0M138.6 550.1h0M77.6 527.2h0M110.7 545.4h0M159.1 512.5h0M142.5 532.5h0M98.8 543h0M103.8 542.4h0M146.1 529.3h0M120.7 500.9h0M107.6 547.4h0M101.2 518.8h0M111.1 491.8h0M128.3 520h0M156.6 524.3h0M92.9 548h0M78.1 539.1h0M165.2 507.7h0M94.8 532h0M80.9 537h0M104.5 498h0M95.2 539h0M75.9 539.6h0M115.8 527.4h0M119.9 566.9h0M136.2 517.9h0M119.5 513.5h0M146.1 521.3h0M95.5 510.7h0M116.3 525.3h0M127.3 561.4h0M135.5 559.1h0M154.9 520.6h0M110.3 541.8h0M147.8 513.7h0M115.5 515.1h0M109.2 495.2h0M161.8 508.8h0M97.8 503.7h0M136.2 555.9h0M96.1 526.1h0M92 539.5h0M117.7 503.9h0M153.8 529h0M123.2 524.6h0M107.4 501.8h0M122.3 503.8h0M131.5 543.4h0M124.8 512.4h0M160.6 508.4h0M125.2 510.9h0M93.8 539.9h0M124.6 512.8h0M143.7 513.1h0M126.3 566.5h0M102.9 536.3h0M138.3 510.5h0M117.7 539.5h0M120.1 511.4h0M161.1 515.3h0M94.5 508.6h0M82.1 542.7h0M127.6 515h0M120.7 554h0M103.4 498.1h0M128.1 553.5h0M129.7 535.7h0M135.1 548.1h0M83 534.3h0M129.8 529.4h0M120.6 528.6h0M126.6 513.4h0M131.7 531.4h0M93.2 540.2h0M120.8 517.9h0M119.9 535.4h0M149.3 514.8h0M114.7 507.3h0M125.6 500.1h0M112.7 533.3h0M73.6 536.7h0M111.9 503.6h0M116.6 508.5h0M111.1 553.7h0M96.5 534.8h0M117.5 504.5h0M90.1 539h0M75.3 533.2h0M114 550.8h0M144 509.6h0M119.2 507.6h0M123.4 542.8h0M136.7 536.8h0M89.8 540.4h0M136.1 563.6h0M109.2 541.1h0M110.4 529h0M107.8 536.6h0M94.7 531.3h0M82.7 532.9h0M70.9 537.6h0M123 562.8h0M128.3 569h0M90.6 530.4h0M119.8 550.3h0M135.5 506.8h0M104.3 519.4h0M102.9 548.7h0M115.5 560.3h0M90 541.1h0M98.4 548.7h0M119.9 553.3h0M114.3 515.6h0M104.1 558.6h0M112.9 506.1h0M113.5 514.7h0M119.3 546.9h0M106.7 543.7h0M105 552.5h0M120.9 550.5h0M115.5 533.3h0M145.3 532.2h0M84 533.1h0M131.5 528.5h0M127.9 543.9h0M107.5 560.5h0M154.1 518.9h0M138.8 552h0M102.1 551h0M112.5 515.8h0M110.4 495.2h0M119.9 497.4h0M114.3 520.7h0M86.3 538.6h0M145.9 520.3h0M132.1 522h0M101.2 518.6h0M145.2 528.6h0M159.3 519.1h0M123.8 506h0M158.9 509.1h0M100.2 503.9h0M129.6 507.7h0M116.5 534.6h0M150.9 528.9h0M121.3 544.2h0M136.5 561h0M96.1 539.2h0M125 498.7h0M102.1 516.8h0M112.5 529.7h0M116.3 554.7h0M101.5 551.9h0M125.9 563.5h0M133.4 535.7h0M84.3 530.9h0M128.1 523.7h0M73.8 540.6h0M160.7 509.2h0M126.9 564.6h0M94.7 541.8h0M139.7 514.9h0M124.5 518.4h0M103.7 534.9h0M100.5 531.4h0M131 569h0M85.8 539h0M97.4 525.4h0M131.5 568.1h0M127.2 520.5h0M78.6 526.7h0M136.9 520.1h0M92.8 532.3h0M76.8 541.5h0M92.9 526.4h0M101.4 509.6h0M109.4 556.8h0M106.4 550.1h0M85.4 538.7h0M135.6 563.6h0M117.2 558.6h0M110.1 493.5h0M76.7 529.7h0M140.3 550.6h0M129.3 509.8h0M121.7 530.2h0M105.1 560.8h0M148.7 531.6h0M108.1 538.9h0M121.2 505.5h0M123.7 521.6h0M125.1 548.6h0M129.2 563.1h0M107.4 530.6h0M119.5 518.2h0M134.7 540.9h0M100 550.1h0M97.4 536.8h0M120.6 562.3h0M131.3 542.7h0M87.5 541.2h0M147.1 505.9h0M124.9 547.1h0M89.1 548.1h0M133.4 551.3h0M100.8 530.1h0M131.9 568.6h0M137.9 525.3h0M142.6 509.8h0M97.1 515h0M131.4 565.6h0M118.2 551h0M138.3 556.2h0M132.9 541.5h0M120.9 565.5h0M162.1 517.8h0M102.5 553.7h0M108.2 527.9h0M118.4 558.6h0M103.8 551.3h0M130.7 547.7h0M109.2 547.1h0M117.3 502.4h0M119.2 504.3h0M106.6 530.5h0M69.3 531.1h0M96.5 536.9h0M120.6 563.8h0M116 515.7h0M107 546.1h0M74.6 532.3h0M94.1 511.4h0M130.1 544.2h0M127.5 519h0M120.3 531.6h0M137.1 557.9h0M73.7 530.2h0M95.2 531.1h0M90.6 543h0M72.6 534.2h0M102.3 495.7h0M103.7 516.4h0M118.1 537.2h0M108.2 524.4h0M120.7 540.9h0M121 550.2h0M112.9 544.9h0M114.7 561.3h0M68.3 531.9h0M132.5 514.8h0M165.6 512.8h0M126.6 538.9h0M141.1 520.7h0M130 548.1h0M99.1 515.4h0M117.8 523.9h0M143.1 534.7h0M118 527.8h0M115.3 557.6h0M122.1 534.9h0M110.5 513.1h0M157.1 517.1h0M139.4 516.3h0M91.4 543.3h0M68.8 533.5h0M91.8 543.9h0M88.9 551.7h0M106.1 505.2h0M102.9 559.2h0M110.1 502.6h0M114 531.1h0M105.7 535.2h0M145.6 515.4h0M101.7 511.7h0M98.7 534.1h0M98.8 551.5h0M112.8 550.5h0M117.2 554.3h0M112.8 558.2h0M102.2 548.3h0M128.1 510.1h0M112 539.6h0M96.2 506.4h0M107.9 517.1h0M84.2 545.6h0M97.2 553.8h0M98.9 508.4h0M94.9 528.1h0M165.5 511.1h0M121.2 565.2h0M161.5 516.9h0M120.9 523h0M138.9 538.3h0M102.2 528.9h0M128.5 568.5h0M134.4 521.7h0M118.3 507.2h0M138.1 562.8h0M102.3 531.1h0M122.2 516.1h0M147.4 506.7h0M104 536.4h0M133.9 504.7h0M107.8 501.7h0M117.3 495.1h0M131.7 516.3h0M123 502h0M134.7 506.6h0M101.6 542.4h0M119.9 537.8h0M98.1 508.6h0M123 526.9h0M111.9 552.2h0M139.3 512.9h0M123.5 544.5h0M92.8 505.8h0M115.6 547.5h0M116.6 505.1h0M74.1 534h0M136.2 547h0M122.9 547.3h0M117.7 500.9h0M163.9 505h0M121.5 499.9h0M109.8 516.3h0M97.5 547.5h0M146.9 514h0M132.6 567.7h0M131 569.4h0M111.1 509.3h0M84.3 547.9h0M97.8 553.4h0M101.3 547.3h0M105.9 535.8h0M103.4 507.3h0M149.5 520.9h0M123.2 527h0M112.1 530h0M93.8 535.9h0M110.1 528.1h0M94.3 529.8h0M94.8 514h0M85 542.2h0M139.2 531.9h0M96.4 533.4h0M136.8 534.7h0M104 534.1h0M105.5 520.3h0M129.6 533.7h0M136.4 552.1h0M149.3 508.6h0M107 544.4h0M102.6 505.5h0M120.3 510.2h0M93.4 509.9h0M96.5 525.6h0M146.8 529.4h0M116.2 535.7h0M112.7 508h0M97.9 539.2h0M122 565.2h0M85.6 543.6h0M103.6 494h0M108.2 497.6h0M121.5 538.4h0M137.5 504.7h0M120 556.1h0M125.7 529.5h0M137.9 511.7h0M117 497.2h0M154.5 521.1h0M123.9 503h0M166.3 509.1h0M89 529.1h0M99.7 506.6h0M110.5 501.3h0M132.7 570.4h0M120.4 511h0M86.7 536h0M158.2 507.2h0M115.8 531.6h0M90.7 548.1h0M123.9 548.2h0M133.2 515.4h0M156.4 505h0M107.1 524.9h0M99.6 510.3h0M106.3 491.6h0M98.7 540.6h0M132.5 569.8h0M75.7 530.7h0M144.3 515.5h0M126.2 526.4h0M159.7 506h0M98.9 540.8h0M135 564.1h0M77.5 532.2h0M135.5 520h0M131 534.1h0M107.8 535.9h0M112.1 541.9h0M68.3 541.4h0M80.9 530.3h0M121.8 513.3h0M91.2 505.6h0M113.2 540.2h0M147.1 520.5h0M142.6 514.5h0M83.9 534.2h0M81.8 535.5h0M99.4 528.1h0M143.2 507.3h0M146.8 509.4h0M128.4 561.9h0M142.3 507.4h0M149.4 518.1h0M112.4 531.6h0M138.6 509.4h0M104.6 528.8h0M150.7 511.3h0M99.2 549.4h0M155 512.8h0M163.7 518.1h0M122.5 527.5h0M109.8 501.1h0M151.9 524.1h0M95.3 527.1h0M164.6 508.6h0M120.4 530.2h0M133.7 564h0M101.5 500.7h0M116.7 516.4h0M93.4 544.9h0M71.8 535.4h0M109.7 556.2h0M72.2 537.1h0M122.3 505h0M86.7 545.1h0M143.2 524.8h0M102.1 529.2h0M106.9 513.2h0M136 552h0M112.2 559.5h0M104.6 547.2h0M166.6 507.4h0M106.2 536h0M163.7 513.9h0M106.4 544.3h0M122.8 553h0M143.8 516.9h0M113.8 537.7h0M78.5 533.2h0M111.4 553.7h0M116.5 519.2h0M141.2 520.9h0M101.6 514.3h0M93.5 507h0M111.7 507.9h0M121.1 540h0M145.4 520.4h0M137.8 551.6h0M88.9 539.6h0M132.7 535.1h0M137 548.9h0M114.4 505.9h0M99.5 503.2h0M114.3 502.6h0M108.1 524.6h0M126.6 515.3h0M108.9 540.1h0M120.9 528h0M86.9 535.6h0M109.4 498.3h0M152.1 508.6h0M98.5 527.5h0M138.5 551.9h0M146.6 511.7h0M128.4 502.4h0M128.6 530.8h0M81.7 532.1h0M134.1 550.9h0M92.6 525.8h0M111.2 520.6h0M100.1 501.5h0M117.7 508.9h0M92.3 506.3h0M153.2 518.4h0M129 567.8h0M125.3 537.6h0M113.6 545.1h0M105 507.4h0M128.4 569.1h0M90.4 546h0M102.9 503.5h0M122.1 552.7h0M144.5 532.1h0M147.7 513.1h0M141.3 512.6h0M133.3 545.8h0M96.6 550.7h0M126.1 565.5h0M77.4 530.1h0M85.2 528.2h0M76.2 532.7h0M153.7 517.8h0M101.3 501.6h0M148.4 528.2h0M126 519.7h0M82.4 533.5h0M125.7 507.7h0M113 531.8h0M104.3 557h0M87.4 531.8h0M130.7 553.5h0M108 521.3h0M76.4 533.9h0M141.4 528.1h0M100.8 530.6h0M80 539.7h0M88 536.4h0M143.9 517.5h0M142.6 526.3h0M143.2 526.5h0M119.3 561.7h0M108.4 518.5h0M144.3 525.6h0M142.6 513.9h0M124.9 502.3h0M142.6 508.1h0M112.5 527.4h0M118.4 553.7h0M89 533.1h0M102 540.1h0M160.8 522.2h0M138.6 522.8h0M71.6 531.9h0M153.7 526.4h0M112.6 512.3h0M93.5 509.2h0M85.3 548h0M111.3 531.5h0M121.1 561.4h0M95.6 510.6h0M116.3 554.4h0M160.5 509.4h0M154.1 521.6h0M107.8 533.3h0M138.2 526h0M139.4 562.5h0M102 514.4h0M144.1 512.2h0M68.9 539.8h0M111.8 529.4h0M146 511.5h0M126.2 505.8h0M134.4 561.3h0M126 519.4h0M123.6 510.7h0M145.1 508.3h0M126.9 548.5h0M109.4 492.6h0M110.5 548h0M124.7 547.5h0M127.6 515.6h0M137.2 563.4h0M123.6 543.8h0M71.1 534.6h0M128.2 506h0M104.6 512.4h0M98.1 548.3h0M120.2 538.5h0M94.8 509.1h0M102.6 511.2h0M148.3 510.8h0M102.5 534.6h0M79.8 528.4h0M98.7 505.4h0M122.9 510.5h0M77.1 538h0M154.4 506.7h0M148.6 527.8h0M99.8 511.9h0M141.1 524.1h0M128.9 561.8h0M157.2 511.4h0M144.4 509.5h0M80.8 525.8h0M98.7 510h0M113.8 559.5h0M76.1 531.6h0M99.2 528.3h0M150.8 516.5h0M144.4 521.2h0M143 516.2h0M110.2 498.2h0M152.7 517.7h0M118.7 516.3h0M127.4 504.2h0M111.7 494.7h0M104.8 555.5h0M68.8 540.2h0M76.3 527.7h0M78.8 525.7h0M120.7 529.7h0M89.8 507.3h0M131.6 521.5h0M108.1 530.3h0M101.1 498.1h0M99.2 540.6h0M117.5 532h0M110.5 560.4h0M115.5 550.8h0M120.8 560.2h0M90.3 540.1h0M101.6 527.1h0M92.9 543.8h0M129.9 502.8h0M94.1 537.3h0M136.5 511.3h0M118.8 507.7h0M115.7 541h0M130.8 565.1h0M155 514.8h0M108.6 499.8h0M82.3 525.4h0M102.9 543.2h0M164.2 514.6h0M115.1 518.9h0M135.5 522.7h0M80.7 535.6h0M104.6 547.6h0M88.3 544.9h0M122.3 532.8h0M115.2 502.7h0M150 517.1h0M102.3 544h0M118.6 509.7h0M131.5 532.8h0M117.3 533.2h0M157.8 519.8h0M114.6 509.2h0M151.5 530.4h0M127 550h0M103.7 545.5h0M67.6 534.4h0M153.5 527.3h0M111 493.2h0M106.1 495.2h0M86.8 540.2h0M153.6 516.6h0M151.2 525.6h0M149.3 527.6h0M120.2 547h0M162.9 515.2h0M123.1 522.5h0M114.3 533h0M66.3 534h0M147.7 531.2h0M159.1 519.5h0M105.2 546.1h0M90.7 545.8h0M130.1 547.4h0M123.2 502.8h0M116.1 506.4h0M95.5 529.9h0M97.1 541.9h0M106.1 501.3h0M134.5 518.8h0M98.3 528h0M128.6 520.7h0M124.7 523.1h0M96.3 527.7h0M136.4 563.6h0M136.9 560h0M122.7 544.9h0M127.4 571.3h0M114.4 504.7h0M102 503.9h0M104.5 506.2h0M102.2 509.1h0M108.6 549.8h0M96.6 510.8h0M126.6 535h0M121.7 563.2h0M117.5 563.5h0M129 502.5h0M123.2 511.4h0M97 535.3h0M133.1 513.3h0M159.5 512.5h0M106.1 502.3h0M136.7 504.2h0M96.9 554.5h0M96.3 505.8h0M125.5 571.7h0M148.1 529h0M123 567.2h0M96.2 505.5h0M127.5 510.9h0M97.9 534.5h0M144.3 521.6h0M112.7 528.6h0M105.9 554.7h0M84.5 529.6h0M110.8 526.7h0M120.1 520.1h0M151 528.8h0M75.6 533h0M150.5 526.1h0M103.1 536.5h0M108.6 512.5h0M157 506.4h0M96.2 506.6h0M124.5 506.1h0M101.1 501h0M124.4 524.2h0M75.1 538h0M133.5 524h0M74 528.5h0M105.8 519h0M89.2 534.8h0M109.3 500.5h0M110.2 503.5h0M124.3 536.3h0M124.1 503.3h0M156.7 523.5h0M148.6 511.8h0M147.5 510.7h0M97.2 535.3h0M107.5 513.3h0M87.7 528.1h0M161.5 516.7h0M141.5 517.5h0M152.5 509.5h0M121.3 515.6h0M101.5 500.5h0M79.3 527.2h0M122.7 564h0M151.1 511.7h0M142.1 523.2h0M96.6 511.6h0M106.1 538.6h0M102 504.6h0M130.7 539.8h0M89.5 530.3h0M129.1 569.9h0M93.5 511.3h0M106.7 559.3h0M124.5 537.4h0M111.2 558.9h0M97.6 530.8h0M90.3 544h0M107.7 540.1h0M94.9 534.9h0M99.9 516.5h0M152.4 506.3h0M102.9 553.4h0M153.2 515.8h0M66.6 535.8h0M86.2 541.1h0M114.5 502.9h0M123.2 523.1h0M150.8 528.1h0M138.5 506.6h0M93.5 531.6h0M127 534.1h0M118.3 523.4h0M114 544.9h0M125.6 557.4h0M68.8 534.1h0M112.8 528.4h0M89 533.1h0M144.6 522h0M104.9 494.7h0M98.2 539.7h0M93.8 509.3h0M130.1 507.7h0M77.6 536.4h0M85 536.3h0M107.5 504.9h0M127.7 564.2h0M74.3 527.4h0M103.4 558.6h0M143.5 513.3h0M121.5 515.7h0M143.3 526.2h0M84.7 532.6h0M115.8 538h0M128.4 537.9h0M118.4 530.1h0M111.7 553.7h0M128.8 568.6h0M122.4 532.1h0M124.9 569h0M129.7 562.1h0M84.7 534.3h0M154.9 513.5h0M105.4 497.8h0M139.1 504.3h0M99.2 525.8h0M68.8 533.5h0M165.2 512.5h0M140.8 530.4h0M104.4 530.8h0M136.6 567.5h0M125.9 524.7h0M102.1 551.2h0M144.6 526.1h0M122 566.5h0M154.4 528.2h0M131.4 510.2h0M133.8 503.3h0M106.9 500.9h0M72.9 531.8h0M160.4 505.3h0M77.1 532h0M123 540.7h0M116.9 510.6h0M104.9 545.3h0M130 555.8h0M119.8 517.8h0M118.3 541.5h0M122.8 535.8h0M111.2 527.4h0M144.8 519.7h0M142.1 534.7h0M124.5 535.3h0M90.1 545h0M134.9 524.1h0M113.5 554.5h0M138.6 518.1h0M130.2 552.8h0M99 535.5h0M100.3 548.2h0M76 534.8h0M107.6 517h0M118 548.5h0M109 504.4h0M139.3 518h0M131.5 517.8h0M132.9 538.6h0M149.7 529.5h0M65.7 538.6h0M132.1 556.6h0M117.2 534.5h0M119.6 537.9h0M134.9 557.5h0M96.5 541.6h0M108.9 552.2h0M82.2 533.2h0M129.5 522.7h0M111.9 555.2h0M124.9 522.7h0M127.7 556.4h0M106.5 508h0M126.7 500.5h0M134 558.9h0M74.4 534.9h0M122.6 547.3h0M85 547.3h0M153.7 509.5h0M110.3 540h0M134 548.7h0M91.7 509.7h0M128.7 509.5h0M129.6 535.2h0M153.1 517.5h0M132.6 510.9h0M161 511h0M108.6 549.5h0M116.9 494.2h0M104 556.9h0M121.8 551.7h0M104.8 527.1h0M119.7 540.3h0M131.8 540.4h0M155.5 516.2h0M89 546.2h0M127 546.8h0M126 566.5h0M107.6 553.3h0M157.2 518.3h0M102.9 548.4h0M122.1 500.5h0M117.7 545.2h0M142 516.1h0M106.7 518.4h0M101.9 499.4h0M144 533.1h0M130.9 528.4h0M129.3 538.8h0M105 501.6h0M103.7 534.5h0M88.8 529.5h0M112.1 546.5h0M126.6 538.8h0M132.4 507.2h0M146 530.6h0M145.3 506h0M94.1 551.6h0M110.6 505.6h0M111.3 554.9h0M123.2 543.7h0M132 551.4h0M129.6 558.2h0M106.1 512.4h0M125.5 530.7h0M166.5 513h0M147.5 512.1h0M75.2 540.3h0M158.8 506.2h0M116.8 532.3h0M144.2 523.8h0M107 495h0M132.4 547.9h0M125.9 519.6h0M107.1 522h0M136.3 524.6h0M128.7 529.6h0M110.4 535.9h0M123.5 564.7h0M131.8 536.3h0M139.1 519h0M131 524.5h0M67.7 535.7h0M129.7 542.6h0M106.4 561.3h0M113.5 525.1h0M127.2 552.3h0M75.5 532.6h0M139.8 510h0M128.3 503.6h0M149 528.7h0M114.5 497.6h0M100.4 547.3h0M148.8 529.7h0M144.8 509.9h0M124.4 519.6h0M80.2 527.6h0M146.2 529.7h0M123.6 534.6h0M112.7 543.5h0M144.8 513h0M130.8 556.3h0M124.7 562.6h0M94.3 553.8h0M118.6 564.1h0M129.5 522.3h0M150.3 529.2h0M73.4 527.6h0M114.6 515.9h0M76.1 532h0M142.3 507.7h0M110.6 545.5h0M83.6 525.9h0M102.8 504.1h0M117.8 551.2h0M108.7 515.3h0M101.5 557.8h0M107.3 527.7h0M125.8 563.5h0M87 533.1h0M107.8 554.7h0M118.5 501.9h0M165.3 513h0M99.3 533h0M69.8 538.7h0M130.7 529.8h0M125.5 524.2h0M68.1 538.8h0M92.2 531.1h0M133.7 542.6h0M100.4 514.2h0M102.7 542.7h0M105.1 549.1h0M124.6 520h0M132.8 518.6h0M132 505.5h0M111.4 527.5h0M82.5 539.8h0M154 512.2h0M137.3 512.2h0M133 555.9h0M140.1 520.1h0M126.8 531.2h0M104.8 536.5h0M74.4 533.8h0M84.2 539.9h0M131.5 556.3h0M161.8 510.4h0M124.9 519h0M133.3 516.8h0M136.3 512.2h0M147.7 514.5h0M89.9 541.9h0M148.5 508.6h0M104.8 543.9h0M137.7 523.1h0M149 518h0M125.8 503.9h0M134.8 534.6h0M118.8 532.1h0M112.9 560.5h0M116.2 529.5h0M86.1 534.3h0M80.8 540.6h0M117.1 520.9h0M156.8 525.7h0M85.4 537.5h0M71.7 538.6h0M119.8 561.7h0M110.2 548.6h0M116.5 514.6h0M68.2 534.8h0M93.2 534.9h0M108.7 505.1h0M100.3 512.7h0M105.2 493.6h0M112.7 515.4h0M125 565.4h0M121.9 557.1h0M86.5 547.4h0M118.9 519.7h0M98.3 505.9h0M130.4 528h0M105.3 514.1h0M121.9 504.9h0M130.5 546h0M109.3 507.9h0M138.7 524.1h0M151.8 509h0M88.4 540.6h0M111.8 514.6h0M102.2 492.3h0M130.7 510.3h0M142.5 525h0M98.2 508.7h0M100.7 550.1h0M86.8 533.3h0M107.9 500.5h0M104.1 505.9h0M134 503.2h0M141.4 523.7h0M119.7 520.1h0M132.9 501.6h0M133.4 565.2h0M137.7 523.1h0M129.3 570.9h0M135.7 511.7h0M90.2 538.1h0M148 520.9h0M87.2 546.6h0M115.7 511.3h0M128 506.6h0M111.9 518.8h0M129.9 549.1h0M144.5 533.6h0M107.4 497.9h0M140.5 518h0M125.1 566.8h0M107.5 496.3h0M148.6 529.7h0M145.5 533.1h0M73.9 539h0M154.9 506.7h0M90.2 543.2h0M88.9 538.8h0M132.4 533.6h0M119.8 512.6h0M103.9 525.4h0M115.4 504.3h0M130.7 555.5h0M123.6 519.5h0M115.4 554.7h0M108 494.2h0M115.9 562.1h0M101 551.6h0M165.1 506.2h0M118.4 535.3h0M116.3 558.7h0M105.4 553.5h0M120.3 527h0M108.6 530.4h0M82.3 542.1h0M99.4 530h0M139.3 516.3h0M132.1 549.4h0M120.4 508.8h0M92.8 504.4h0M125.3 525h0M101.2 557.2h0M135.8 549.6h0M87 541.7h0M128.8 513.9h0M165.3 507.2h0M119.8 559.5h0M139.5 523.3h0M76.9 539.4h0M87.4 547.5h0M117.7 512.3h0M106.2 557.5h0M119 513.1h0M100.8 546.7h0M114.3 538.9h0M104.1 493.7h0M106.1 508h0M100.2 542h0M96.2 553h0M114.3 531.7h0M102 511.1h0M93.6 545.8h0M132.8 523.4h0M137.6 505.2h0M132 566.2h0M147.7 523.6h0M114 512.9h0M118.2 548.6h0M74.7 534.5h0M149.4 513h0M135 552.5h0M121.1 534.8h0M148.1 510.6h0M112.2 537.6h0M166 511.6h0M125.4 511.9h0M106.9 516.3h0M130 528h0M126.9 506.5h0M128.6 531.7h0M94.7 530.9h0M126.2 525.6h0M137.8 511.7h0M93.2 537.7h0M116.2 519.7h0M102.8 498.8h0M156.3 519.8h0M107.8 549.3h0M154.3 516.6h0M139.5 525.1h0M127.2 503.2h0M119 560h0M97.3 546.4h0M162.8 509.5h0M113.3 561.9h0M104.2 543.4h0M68.1 536.6h0M138.9 510.5h0M141.9 513.8h0M100.5 527.4h0M106.7 559.8h0M150.3 529.7h0M101.8 497.1h0M119.3 535.9h0M112.6 496.9h0M105.2 526.6h0M93.8 508h0M108.4 503.2h0M97.2 528h0M143.2 514.2h0M158.1 520.3h0M111.6 542.1h0M114.9 496.7h0M144.4 507.1h0M139.9 552.5h0M114.4 533.5h0M133.3 532.8h0M110.3 493.9h0M133.9 545.4h0M148.1 528h0M134.2 531.1h0M101.7 501.7h0M109.5 556.6h0M122.7 552.4h0M126.4 525.1h0M136.8 553.2h0M107.1 521.6h0M102.3 545.4h0M97 553.7h0M118.1 506.1h0M135.2 545.1h0M113.1 503.3h0M93.8 524.6h0M74.7 541.8h0M128.7 543.1h0M109 524.6h0M116.9 519.9h0M107.6 504.3h0M90.2 531.3h0M93.9 535.5h0M121.4 537.6h0M107.8 550.7h0M123.4 517.9h0M102.6 498.4h0M135.2 554.6h0M96.7 535.8h0M165.8 509.1h0M165.6 512.2h0M146.9 529.7h0M123 519.1h0M109 536.5h0M140.4 522.9h0M89.3 529.5h0M84.2 530.3h0M132.1 537.6h0M110.9 506.5h0M127.3 522.6h0M139.7 530.5h0M109.9 498.4h0M147.3 506.9h0M129.4 564.7h0M114.5 502h0M102 547.2h0M129.2 522.5h0M116.3 541.7h0M135.5 504.5h0M107.5 561.6h0M126.9 565.3h0M144.2 505.8h0M129 541.6h0M89.1 531.9h0M129 539.9h0M126.4 535.1h0M162 512.3h0M123.3 512h0M139.1 510.6h0M132.6 514.7h0M111.2 558.1h0M130.3 538.2h0M129.5 565.9h0M95.3 539.4h0M129.9 534.5h0M82.9 535.2h0M115.4 495.7h0M133.2 571.6h0M131 557.7h0M123.6 508.3h0M104.8 514.7h0M102.7 506.3h0M75.1 534.3h0M114.4 541.1h0M139.5 510.8h0M116.9 561h0M111.8 505.9h0M76.1 525.3h0M111.5 500.9h0M139 512.1h0M123.2 567.6h0M129.7 569.5h0M132.1 562.2h0M101 554.7h0M115.2 546.5h0M165.3 506h0M100.9 510.5h0M137.1 515.5h0M81.2 537.7h0M141.6 512.5h0M94.5 534.7h0M136.1 534.4h0M78.3 532.2h0M95.9 526.9h0M99.7 552.4h0M127.7 519.8h0M111.9 549.4h0M100.6 513.1h0M88 542.6h0M98.8 527.6h0M114.7 528.2h0M140.4 517.2h0M109.8 507.7h0M84.4 530.1h0M150.4 513h0M135.2 549.7h0M110.8 509.6h0M87.9 537.1h0M132.9 521.6h0M110.9 549.9h0M119.9 549.6h0M147.2 518.7h0M119.2 530.3h0M137.5 557.8h0M127 560.6h0M124.5 517.1h0M101.1 508.3h0M133.7 511.2h0M147.2 512.9h0M92.9 540.7h0M104.9 500.5h0M79.3 536.5h0M114.6 541.9h0M114.2 520.4h0M126.1 558.3h0M130.6 557.1h0M107.7 523.2h0M107 505.8h0M115.4 494.1h0M131.9 547.3h0M107.6 506.7h0M119.2 560.3h0M104.6 515.9h0M119.6 558h0M134 525.2h0M131.8 529h0M107.5 505.5h0M103.3 496.7h0M102.4 527.9h0M107.1 538.6h0M115.3 514.3h0M146.1 528.7h0M136.6 561.3h0M120.5 525.8h0M126.9 550h0M88 539.9h0M144.4 508h0M100.1 532.1h0M164.2 507.5h0M116 528.4h0M121.3 563.1h0M92.3 537.5h0M145.7 517.4h0M115.7 527.4h0M139.5 513h0M91 535.5h0M133.2 560.4h0M113.7 517.9h0M125.9 515.6h0M137 564.2h0M125 548.2h0M135.7 563h0M112.9 557.5h0M78.6 534.9h0M103 540.8h0M97.5 528.4h0M77.5 526.3h0M120.7 522h0M131.8 536h0M111.8 520.7h0M152.9 509.7h0M96 530.7h0M149.1 517.2h0M162 504.4h0M126.3 505.6h0M110.9 494.2h0M100.4 530.5h0M101 528.1h0M113.2 505.6h0M98.4 543.6h0M133.3 547.8h0M97 508.2h0M118.3 566.4h0M122.8 507.6h0M139.7 521h0M98.1 530.9h0M125.5 527.1h0M141.7 512.8h0M146.7 514.2h0M71.4 540.8h0M118.7 561h0M75.3 534h0M94.7 504.8h0M124.7 536.6h0M122.4 507.7h0M132 557.5h0M82.3 539.1h0M141.3 509.4h0M70.5 538.2h0M125.2 541.3h0M75.4 526.6h0M135.5 509.7h0M100.1 531.9h0M78.2 525.8h0M139 517.3h0M97 543.5h0M150.3 509.2h0M131.7 535.9h0M102 558.1h0M123 562.5h0M127.4 521h0M109.1 527.2h0M133.4 512h0M122.2 547.2h0M106.8 525.8h0M121.7 567h0M106.9 518.8h0M107.3 504.1h0M146.7 511.3h0M103.2 547.6h0M120.2 522.8h0M159.6 522.1h0M72.9 536.4h0M99 514.4h0M112.6 503.8h0M102.3 543.3h0M135 515.2h0M107.1 534.5h0M76.5 526.8h0M139.7 535.3h0M71.6 537.2h0M121.9 545.2h0M75.9 531.8h0M114.1 542.3h0M144.7 524.4h0M69.2 536.2h0M86.1 532.5h0M113.5 530.9h0M131.3 565h0M120.9 535h0M136.7 537.6h0M111.8 544.2h0M97.1 524.6h0M136.8 505.3h0M111.5 503.7h0M78.7 528h0M147.3 530.6h0M98 554.2h0M103.6 540.9h0M101.2 509.5h0M154.3 519.6h0M146.5 524.6h0M88.3 541.1h0M131.7 556.7h0M141.6 511.5h0M71.2 531.8h0M142.6 525.5h0M134.3 525.2h0M108.3 530.3h0M138.4 515.6h0M125.3 567.6h0M106 518h0M145.6 513.3h0M152.6 505.3h0M101.5 509.9h0M132.2 510.7h0M106.1 502.3h0M145.3 512.7h0M94.1 541h0M94 527.6h0M81.1 536.5h0M105.9 535.6h0M129.7 540.6h0M107.3 501.5h0M134.8 518.1h0M113.7 497.7h0M93.3 532.3h0M84.8 537.1h0M87.3 530h0M146.1 516.8h0M138.1 550.9h0M110.8 545.5h0M119.3 557.2h0M85.6 524.3h0M152.8 529.3h0M90.3 548.6h0M112.9 522.1h0M153.9 512.3h0M131.4 525.6h0M103 506.2h0M117.3 551.5h0M140.1 515.8h0M133.3 551.7h0M114.5 548.4h0M87.3 529.5h0M128.5 535.6h0M120 524.3h0M149.1 524.6h0M105.9 517.1h0M102.8 511.1h0M129.7 554.2h0M83 534.4h0M104.7 551.4h0M127.7 568.8h0M128.5 502.4h0M130 568.1h0M110.1 561.7h0M130.7 548.8h0M109.9 557.7h0M124.8 499.6h0M123.4 560.9h0M79.9 535.5h0M127.9 506.8h0M133.5 558.6h0M100.1 551.5h0M123.2 501.2h0M116.8 506.1h0M89.5 546.3h0M100.9 512.3h0M147.1 516.4h0M127.7 541.5h0M138.4 552.2h0M92.3 509h0M113.9 537.2h0M122.5 542h0M97.8 552.4h0M136.3 523.4h0M102.5 507.6h0M101.3 508.8h0M111.3 534.3h0M119.8 565.6h0M130 528.4h0M107.1 512.4h0M112.7 494.6h0M113.3 541.9h0M158.8 508.9h0M91.7 537h0M88.3 534.5h0M162.5 515.6h0M128.9 508.3h0M143.6 528.9h0M98.6 533.6h0M120.2 533.4h0M91.8 532.9h0M101.5 518.5h0M107.7 560.1h0M106.2 528.6h0M107.7 559.6h0M117.9 565.8h0M135.3 552.6h0M102.5 541.4h0M165.5 508.1h0M120.8 500.2h0M121.4 521.6h0M114.8 546.6h0M93.2 547.5h0M151.2 516h0M148.6 523.8h0M125.8 505h0M152.2 513.8h0M110.1 556h0M136.4 552.2h0M122.6 499.7h0M120.2 546.8h0M86.8 544.9h0M96.9 526.3h0M129.8 509.2h0M127.9 547.5h0M147.1 511.7h0M115.4 502h0M127.1 554.9h0M93.5 537.9h0M94.3 536.3h0M133.8 510.9h0M131.8 547.9h0M101 555.9h0M146.2 531.5h0M84.8 544.1h0M110.3 552.8h0M138.4 511.6h0M157.2 511h0M123.7 512.7h0M139.5 514.7h0M113.5 506.9h0M148.2 523h0M76.6 535.9h0M121.5 522.3h0M101.3 555.7h0M129.3 565.1h0M109.8 541.8h0M84.2 532h0M116 556.4h0M107.1 555.8h0M142.9 527.1h0M152.3 529h0M115.4 538.2h0M113.6 527.6h0M131.9 521h0M80.2 537.3h0M108.8 499.7h0M118.5 563.9h0M65.5 537h0M124.5 529h0M108.7 537.9h0M104.1 511.5h0M137.5 553.3h0M75.6 526.3h0M93.7 524.9h0M113 555.1h0M75.3 537.8h0M124.5 540.1h0M94.6 533.8h0M140.5 509.8h0M119.5 549.3h0M113.7 540.2h0M116 517.2h0M124.9 518.1h0M125.3 506h0M86.2 533.3h0M111.8 559.8h0M129.9 567.9h0M109.2 556.2h0M109.1 547.2h0M153.9 506.1h0M155.9 513.4h0M163.9 507.2h0M138.4 524.1h0M98.2 508.9h0M107.5 499.3h0M83.1 542.1h0M115.1 527.5h0M105.8 530.8h0M70.3 531.9h0M143.9 532.3h0M110.4 501.8h0M131.7 545.5h0M149.9 520.8h0M87.8 530h0M102.3 507.8h0M89 528h0M104.2 557.1h0M113.7 519.9h0M96.9 505.7h0M94.9 534.6h0M128.8 513.1h0M144 510h0M100.6 535.2h0M69.7 531.1h0M105 518.9h0M114.7 538.3h0M106.2 525.5h0M112.4 519.3h0M127.3 562h0M115.3 515.1h0M102.1 543.5h0M127.7 513.4h0M77.1 538.2h0M137.5 520.7h0M132.5 527.9h0M102.3 533.6h0M84.1 538.4h0M134.8 546.7h0M107.4 559.3h0M111.3 536.4h0M129.6 515.4h0M137.9 552.9h0M130.7 522.4h0M94.1 538.5h0M136.4 525.1h0M111.7 526.1h0M117.4 553.7h0M96 504.1h0M126.4 548.7h0M120.1 524.6h0M139 512.8h0M143.5 532.7h0M129 524h0M127.2 552.5h0M123.6 502.3h0M106.3 494.2h0M139.1 528.9h0M101.8 511.8h0M139.8 558.9h0M83.8 537.6h0M128.1 506h0M89.1 543.8h0M126.7 545.6h0M87.7 532.8h0M140.8 531.9h0M107.9 535.2h0M120.8 540.4h0M115.1 562.3h0M112.9 535.2h0M142.5 530.9h0M126.5 506.4h0M93.4 532.7h0M81 524.6h0M128.6 510.1h0M145.2 510.8h0M136.2 532.8h0M128.4 542.4h0M113.6 521.4h0M93.7 545.5h0M131.7 508.8h0M126.2 499.1h0M136.2 536.9h0M124.6 519.5h0M162.7 513.6h0M150 517.2h0M162 513.4h0M145 514.7h0M144.4 516.5h0M116.2 516.3h0M128.4 536.5h0M148.3 513.3h0M87.5 546.1h0M155.2 505.3h0M137.7 515.7h0M129.6 507.1h0M131 518.1h0M101.1 559.2h0M123.3 507.1h0M83.6 542.9h0M79.7 535.3h0M130 563.5h0M135.5 557.1h0M92.3 508.4h0M107.7 551.8h0M101.4 503.6h0M124 537.9h0M149.1 514.2h0M110 533.4h0M121.9 507.3h0M127 509.2h0M144.4 527.4h0M98.7 551.3h0M135.9 528.4h0M98 537.4h0M123.3 541h0M81.1 542.9h0M153 517.3h0M142.5 535.7h0M101.5 535.9h0M112.8 517h0M146.2 524.2h0M160.7 505h0M93.8 537.3h0M74.7 527.9h0M131.3 510.4h0M83.6 535.6h0M157.4 510.3h0M109.5 507.7h0M141.1 517.5h0M139.1 507.6h0M95.8 547.5h0M133.8 517.3h0M99.3 546.6h0M102.6 544.9h0M114.2 508.5h0M112.3 519.9h0M151.1 523.8h0M125.5 508.7h0M145.7 526.1h0M103.3 533.1h0M144.9 522.4h0M121.7 565.7h0M85.6 525.7h0M143.8 535.4h0M113.6 538.4h0M144.5 533.6h0M110.3 534.2h0M111.1 552.8h0M90.7 538h0M113.6 553.2h0M96.9 545.8h0M98.3 516.2h0M112.5 511.8h0M110.1 541.3h0M108.9 555.8h0M101.5 530.9h0M153.8 517.1h0M140.5 514.3h0M117.8 529.8h0M148.1 525.5h0M110.1 553.9h0M133.9 519.1h0M108.4 557.5h0M154.5 513.2h0M77.1 536.1h0M116.3 532.6h0M150.8 512.4h0M109.1 541.7h0M117.2 505.9h0M71.8 535.8h0M120.6 542.6h0M72.8 541.7h0M151.2 523.8h0M135.7 558.5h0M111.9 541.9h0M109 495.3h0M102.4 551h0M126.2 500.4h0M93 527.9h0M157.9 517.8h0M114.6 525.4h0M135 558h0M123.5 528.5h0M107.4 498.4h0M139.3 516.3h0M142 512.7h0M132.6 539.5h0M113.3 541.1h0M143.1 515.7h0M75.8 539.6h0M123.1 518.1h0M125.8 543.3h0M106.9 494.3h0M134.1 521.2h0M95.3 541.9h0M131.4 525.7h0M87.1 541h0M103.9 528h0M151 525.1h0M150 529.4h0M111.1 496.1h0M119.8 515.6h0M111.8 514.5h0M127.1 526.1h0M73.7 541h0M133.4 560.4h0M83.9 528.1h0M128 535.3h0M133.1 538.9h0M117.3 559.2h0M121.4 524.5h0M102.7 554.9h0M99.7 497.4h0M84.7 531.7h0M163.6 513.6h0M86.5 541.4h0M152 513.5h0M142.2 526.7h0M122.9 538.2h0M123.5 532.9h0M95.7 535.3h0M87.1 542.3h0M73.8 538.3h0M134.9 530.7h0M104.1 541h0M94.2 535.6h0M111.1 551.8h0M123.4 559.2h0M85.9 534.9h0M113.9 511.6h0M84.3 541.9h0M104.6 504.7h0M127.3 571.1h0M81.5 538.2h0M95 542.9h0M83.8 546.2h0M160.9 510.1h0M102.1 509.4h0M163.8 513.1h0M130.8 524.1h0M154.2 526.9h0M82.3 532.9h0M116.4 554.6h0M135 516.1h0M89.4 546.8h0M132.9 528.9h0M98.2 507.4h0M122.8 551h0M120.1 498h0M116.8 514.1h0M112.4 519.7h0M147 528.3h0M84.8 528.8h0M144.1 509.1h0M138.6 536.7h0M104 501.6h0M110.9 551.4h0M122.3 527.3h0M123.8 547.1h0M100.7 536.6h0M152.3 507h0M128.9 522.3h0M78.2 536.3h0M123.5 526.5h0M121.6 507.3h0M105.3 494.2h0M132.8 502.9h0M107.6 550h0M143.9 518.6h0M69.7 539.6h0M141 524.1h0M129.4 533.5h0M145.4 517.9h0M144.7 507.5h0M155.6 512.9h0M111 544.4h0M99.6 509.4h0M133.1 552.6h0M147.2 522.6h0M97.2 509.4h0M114.3 513.2h0M107.7 521h0M133.6 521.9h0M141.5 532.3h0M98 507.1h0M115.2 562.1h0M77.6 527.9h0M103 506.5h0M134.6 504.9h0M119.2 508.2h0M94.5 529.9h0M137.2 512.6h0M76.1 530.7h0M78.1 528.7h0M143.3 529.2h0M133.7 534.6h0M142.5 507.7h0M111.1 510.9h0M94.2 546.3h0M112.8 504.6h0M118.6 538.8h0M103 540.2h0M102.4 512.9h0M107.8 548.1h0M76 532h0M112.2 516.3h0M125.4 528.1h0M108.1 554.6h0M130.4 547.3h0M116 547h0M137.3 565.3h0M134.4 549.1h0M99.8 531.8h0M118.9 517.2h0M131.9 542.2h0M110.2 557.1h0M110.5 538.6h0M116.3 560.8h0M111.7 517h0M83.5 526h0M122.5 510.4h0M117.5 519.9h0M115.7 527.6h0M135 564.4h0M119.5 521.1h0M139.4 525.9h0M107.4 505h0M113.1 530.7h0M105.6 546.1h0M134.5 546.3h0M135.1 566.5h0M110.7 511.9h0M126.2 535.9h0M86.9 532.8h0M126.8 506.1h0M83.8 542.8h0M119.1 543.7h0M101.9 502.6h0M76.2 529.6h0M132.9 523.3h0M99.1 547.2h0M165.1 513.6h0M104.6 548.9h0M88.9 534.3h0M127.7 560.1h0M151.4 525.8h0M131.4 562.7h0M130.9 526h0M139.2 517.9h0M76.3 530.1h0M113.3 559.4h0M108.6 504.7h0M122.6 515.6h0M113 503.9h0M140.7 530.4h0M103.5 541.9h0M108.2 559.9h0M106.1 512.6h0M133 537.1h0M78.9 545h0M120.5 536h0M125 537.6h0M134.4 504.4h0M139.1 516.3h0M107.6 494.2h0M115.3 562.9h0M139.3 558.6h0M97.4 531.1h0M135.5 528.8h0M96.1 513.2h0M112.4 547.9h0M101.2 530.1h0M101.4 499.3h0M158.2 508.7h0M121.5 536.9h0M132.6 554.8h0M112.5 520.8h0M127.6 518.1h0M104.3 532.9h0M112.1 561h0M86.7 545.9h0M132 557h0M135.5 541.3h0M102.5 535h0M124.5 566.3h0M128.4 541.5h0M148.8 522.6h0M78.5 533.7h0M122.8 543.1h0M115.7 522.7h0M147.9 519.4h0M128.7 509.9h0M99.3 509.4h0M120.9 529.5h0M102 553.3h0M102.6 532.1h0M111.1 507.2h0M150.6 528.8h0M94.6 507h0M134 546.7h0M156.3 519.7h0M67.1 535.4h0M78.1 532.1h0M96.4 554.3h0M109.7 546.7h0M72.8 539.6h0M101.2 535.3h0M131.8 560.2h0M74.1 534.6h0M132.5 550h0M155.9 504.2h0M125.4 515.1h0M82.8 538.1h0M106.8 504.4h0M123.1 506.4h0M98.9 508.9h0M151.9 521.8h0M108.7 553.9h0M108.4 521.8h0M128.5 513.1h0M135.3 524.8h0M107.7 545.4h0M153.6 521.6h0M142.2 509.2h0M87.5 538.7h0M114.6 524.1h0M161.1 504.7h0M142.7 510.5h0M99.3 533.4h0M109.7 506.1h0M129.6 507h0M143.8 525.6h0M88.8 543.9h0M137.5 514.5h0M84.8 542.1h0M149.3 516.4h0M104 493.1h0M107.1 532.2h0M84.3 530.6h0M137.6 506.3h0M163.6 513.9h0M122.2 524.3h0M133.1 541.1h0M115.6 515.1h0M99.2 557.7h0M86.6 539.4h0M105.1 525.4h0M98.6 553.2h0M118.8 529.5h0M162.5 515.2h0M120.6 519.5h0M129.5 557.1h0M95.1 553.4h0M123 499.1h0M92.8 527h0M123.9 553.4h0M160.6 515.8h0M126.8 551.4h0M102.3 506.2h0M98.6 506.5h0M130.6 540.9h0M137.4 530.6h0M97.2 532.7h0M134.2 527.3h0M125.2 515.6h0M98.8 552.8h0M143.4 521.5h0M78.3 541.6h0M110.6 497.3h0M118.6 511.6h0M68.1 534.9h0M94.6 532.5h0M123.7 564.6h0M152.9 521.7h0M77.7 538.5h0M125.3 559.1h0M100.1 542.8h0M100.8 529.2h0M103.4 517.7h0M101.9 536.7h0M99.5 505.2h0M143.2 532.8h0M108.9 544.1h0M120.9 536.4h0M144.1 524.7h0M106.2 505.4h0M142.6 526.5h0M150.5 508.4h0M90.3 531.2h0M138.1 538.2h0M147.5 509.1h0M138 524.8h0M101.4 508.8h0M157.4 524.3h0M127.2 549.4h0M74.6 530.1h0M121.6 536.8h0M123 552.4h0M134 527h0M119.5 522.3h0M146 523.8h0M125.3 559.1h0M137.2 514.6h0M129.9 520.6h0M140.3 530.7h0M123.9 514.3h0M73.7 530.4h0M100.5 527h0M89.9 541.9h0M115 533.2h0M123.2 555.3h0M136 561.6h0M132.2 553.6h0M110.9 531.9h0M119.6 519h0M147.3 516.2h0M98 545.6h0M123.8 507.7h0M117.4 546.9h0M139.2 507.8h0M166.8 507.8h0M108.8 493.8h0M120.4 560.3h0M91 494.2h0M179.3 513.7h0M175.1 515.9h0M156.5 533.8h0M152 541.9h0M152.9 552.9h0M112.8 565.6h0M180.1 513.7h0M174.7 515.5h0M157.4 533.7h0M152.8 552.9h0" stroke="#33a02c" stroke-width="2.7" stroke-linecap="round" fill="none"/>
<path d="M180.3 461.2h0M170.5 464.4h0M176 477.5h0M134.7 461.9h0M147.5 447.5h0M176.5 453.7h0M161 452.8h0M142.4 469.6h0M144.5 456.3h0M161.5 456.8h0M148 457.2h0M174.6 464.5h0M147.5 459.7h0M147.2 449.1h0M173.8 472.6h0M150.2 463.5h0M166 474.8h0M149.6 458.7h0M136.2 451.1h0M144 455.8h0M140.5 453.3h0M141.2 455.3h0M155.9 451.6h0M174.6 470.6h0M159.6 468h0M157.7 463.1h0M178.4 464.1h0M130.3 455.8h0M163.2 461h0M179.8 482.3h0M179.2 455.5h0M160.1 464h0M177.5 461.2h0M179.2 482.2h0M173.6 470.2h0M150.3 463.4h0M172 472.1h0M178.9 469.3h0M133.8 468h0M170.7 468h0M176.9 451.9h0M134.9 463.2h0M142.7 461h0M175.4 480.2h0M128.7 456h0M146.4 476.3h0M165.5 471.4h0M137.3 468.5h0M172.8 476.4h0M149.1 459.9h0M174.2 465.6h0M161.2 468.1h0M165.6 459.5h0M179 458.1h0M171.9 471h0M174.6 451h0M163.6 459.1h0M177.2 450h0M172.8 465.6h0M133 456.6h0M161.9 470.7h0M159.2 454.3h0M133.7 465h0M163.8 453.4h0M138.4 450.1h0M151.5 457.2h0M177.7 462.2h0M171.7 472.8h0M173.5 460.9h0M149 454.8h0M168.7 457.7h0M152.6 466.7h0M149.2 474h0M134.3 464.4h0M149.2 454.2h0M127.9 456.2h0M177.2 471.7h0M149.5 473.5h0M163.5 463.5h0M155.2 452.2h0M157 459.1h0M144 476.4h0M162.6 472.4h0M139.8 454.3h0M177.3 461.4h0M141.5 468.4h0M153.8 471.4h0M152.2 471.9h0M152.7 470.7h0M167.3 460.7h0M171.7 475.8h0M148.1 466.6h0M142.6 457.3h0M155 456.6h0M150.4 455.7h0M170.1 477.3h0M167 474.5h0M154.7 452.4h0M154.1 464.5h0M161.3 459.1h0M154.4 462.9h0M176.1 466.3h0M178.8 461.1h0M151.3 457.3h0M143.3 465.9h0M159.5 461.2h0M153.5 466.6h0M148.5 451.2h0M151.2 458.7h0M159.8 453.7h0M163.7 451.2h0M149.6 450.2h0M153.2 448.8h0M144.1 476.2h0M179.5 464h0M146.4 470.2h0M176.3 464.6h0M150.2 463.4h0M142.7 455.6h0M147.8 471.1h0M167.7 458.8h0M144 465.4h0M147.1 451.9h0M179 459.5h0M142.5 479h0M149.4 451h0M157.9 455.6h0M147 459.4h0M173.6 475.3h0M146 478.4h0M174.2 469.8h0M159.1 457.8h0M135.7 451h0M139 463.9h0M147 450.8h0M148.2 459h0M141.6 454.1h0M139.5 450.4h0M176.8 452.1h0M142.3 480.7h0M146.8 457.4h0M146.4 473.9h0M135.7 450.5h0M161.8 461h0M149.6 460.9h0M128.9 459.4h0M165.5 473.1h0M174.9 467.2h0M133.1 464.6h0M173.4 450h0M178.5 452.4h0M173.9 457.8h0M138.2 465h0M158.5 454h0M158.2 452.9h0M140.8 478h0M171.1 471.1h0M176.6 470.3h0M149.5 459.7h0M140.1 468.3h0M145.6 456.5h0M150 472.6h0M179.1 464h0M161.1 465.4h0M169 469.8h0M143.3 452.3h0M166 461.7h0M142.3 474.9h0M137.3 453.5h0M143.3 476.3h0M170.3 469.2h0M177.2 470.1h0M153.3 461.4h0M170 468h0M146.8 452.8h0M157.2 463.7h0M151.6 459.2h0M150.9 453.7h0M146.6 469h0M150.4 461.6h0M178.6 469.2h0M142.8 476.7h0M143.2 457.2h0M140.7 475h0M168.5 459.2h0M149.4 451.4h0M145.3 477h0M161.7 468.8h0M156.5 453.6h0M147 475.4h0M169.6 476.3h0M132.6 458.4h0M141.1 464.4h0M169.6 452.3h0M149 458.1h0M161.3 457.5h0M166.6 459h0M178.9 467.3h0M167.1 470.9h0M174.8 460.2h0M156.3 465.7h0M171.2 473.2h0M147.5 453.3h0M172 469.6h0M141.9 454h0M148.7 458.4h0M143.3 455.6h0M140.3 461.1h0M150.2 472.2h0M151.4 469h0M137 463.7h0M163.8 469.7h0M143.3 455h0M169.3 474.4h0M159.1 451.9h0M146.2 468.2h0M170.3 466.6h0M159.4 453.8h0M176.7 474.5h0M164.9 474.7h0M149.3 463.5h0M144.6 472.2h0M143.9 453.9h0M136.8 460.2h0M171.9 464h0M174.3 458.8h0M139.4 459.9h0M147.7 463.2h0M156.1 451.3h0M148.7 468.7h0M157.6 457.9h0M178.2 471.9h0M175.9 474.8h0M171.7 460.3h0M149.4 472.3h0M139.5 452.9h0M169.1 465.2h0M139.6 477.4h0M141.3 455.6h0M139.7 473.8h0M144.7 465.9h0M147.2 475.4h0M141.2 463.3h0M138.7 452.8h0M129.9 456.1h0M139.9 462.8h0M146.3 475.9h0M175.2 483h0M144.3 480.2h0M167.7 470.7h0M163.7 471.5h0M174.9 453.5h0M159.6 455.1h0M147.8 458.1h0M178.1 457.9h0M172 451.2h0M144.4 460.9h0M178.9 467.1h0M140.7 459.7h0M144 479.6h0M161 455.6h0M142.2 471.3h0M174.2 452.4h0M152 465.4h0M135.4 457h0M157.1 458.6h0M150.3 463.5h0M179.6 453.1h0M171.3 469h0M172.9 461.8h0M167.5 470.8h0M137.8 464h0M177.2 474.2h0M137.2 455.7h0M164.7 455.2h0M160 455.2h0M168.8 476.2h0M165.6 451.2h0M136.5 454.1h0M167.3 451.3h0M172 474.4h0M143 460.4h0M155.4 449.6h0M144.8 468.7h0M158 461.6h0M166.2 462.1h0M133.6 454.6h0M171.5 465.1h0M174.4 449h0M148.4 450.9h0M159.7 460.3h0M158.4 456.8h0M161.5 469.8h0M138.3 460h0M172 461.1h0M163.1 455.8h0M173.2 473.3h0M174.9 451.5h0M150.1 462.1h0M172.5 480.5h0M167.5 459.6h0M169.4 472.8h0M176.1 449.9h0M134.7 458.8h0M151.4 462.7h0M145.8 450.7h0M159 454.3h0M156.2 454.3h0M155.5 466h0M142.4 457.2h0M154.4 456.6h0M143.6 465.4h0M126.9 456.8h0M169.7 457.6h0M165.9 460.9h0M171.2 475.2h0M174.5 458.3h0M129.2 454.1h0M163 458.3h0M174.1 454.3h0M148.8 458.3h0M142.7 480.9h0M136 458.6h0M172 481.8h0M162.4 459.5h0M177.8 454.5h0M149.2 474.3h0M140.2 480.3h0M141.6 453.5h0M140.9 482.1h0M143.1 448.8h0M138.3 456.6h0M167.5 460.1h0M179.1 457.6h0M177.3 468.5h0M154.6 448.9h0M139.1 452.7h0M139.1 473.1h0M164.3 465.8h0M160.9 450.9h0M132.5 453.3h0M151.6 449h0M148.3 472.4h0M153 454.9h0M161.4 468.6h0M149.3 474.7h0M137 456.5h0M161.3 463.7h0M144.1 457.3h0M179 452.1h0M138.6 468.9h0M153.2 456.5h0M178.2 450.9h0M150.1 455.6h0M139.2 474.2h0M139.1 457.2h0M152 460.6h0M145.9 463.8h0M173.8 455.5h0M145.6 457.9h0M153 469.5h0M172.1 473.5h0M172.2 461.1h0M174.6 482.7h0M172 472.9h0M140.8 450.6h0M180 453.6h0M154.6 458.8h0M135.5 467.3h0M134 464h0M172.8 472.2h0M147.3 457.3h0M167.5 461.8h0M175.2 473.5h0M165.3 458.1h0M159 455.8h0M174 472.3h0M167.4 472.9h0M137.8 449.7h0M175.2 460.7h0M174.2 466.6h0M148.8 471.2h0M147.6 458.4h0M135 463.2h0M172.8 462.3h0M158.5 449.5h0M174.9 469h0M162.4 460.8h0M160.8 452h0M132 460.9h0M161.9 455.7h0M150.8 459.9h0M144 457.8h0M150.7 449.2h0M144.4 463.7h0M147.2 477.5h0M155.7 450.3h0M136.7 451.1h0M131.6 458.7h0M155.5 465.8h0M142.2 465.1h0M160.7 470.3h0M168.6 469.9h0M156.6 461h0M175.4 453.5h0M176.1 470.1h0M137.6 458.1h0M150.2 469h0M173.3 469.2h0M156.3 463h0M161.8 463.1h0M166.2 467.9h0M161.8 460.5h0M141.5 473.7h0M173.6 478h0M138.3 464.1h0M146.4 467.4h0M145.9 451.1h0M160.3 458.5h0M145.4 449.3h0M158.9 453.8h0M152.8 450.1h0M139.2 453.3h0M167.4 475.4h0M145.2 463.3h0M165.7 450.8h0M178.8 469.7h0M129.9 464.5h0M158.7 464.2h0M137.5 482.2h0M179.1 464.8h0M144.1 459.5h0M172.9 459.7h0M152.3 467.4h0M176.8 478.2h0M173.4 453.7h0M135.4 456.1h0M153.2 462.7h0M151.1 469.1h0M173.3 457.1h0M157 454.8h0M164.8 460.7h0M177.2 475h0M174.1 477h0M134.6 463.5h0M148.6 465.2h0M152.3 455.8h0M154.1 471h0M174.1 476.1h0M142.4 465.3h0M179.1 478.6h0M173.2 457.6h0M166.6 459.4h0M175.2 473.5h0M140.2 455.6h0M174.6 456.9h0M172.2 473.4h0M165.7 473.4h0M158.8 453.8h0M158.6 456.3h0M147.8 472.4h0M135.5 451.6h0M179.5 459.5h0M174.7 454.5h0M159 454.1h0M138.6 467.7h0M177.6 463.4h0M147.6 475.5h0M172.9 469.3h0M139.2 478.5h0M154.2 457h0M147.1 462.5h0M145.9 452.2h0M169.9 473.1h0M168.6 472.4h0M147.5 450.3h0M180.3 480.5h0M131.4 467.6h0M158.6 453.9h0M172.6 469.1h0M178.8 468.1h0M162.5 449.9h0M134 465.2h0M151.9 448.1h0M168.7 451.9h0M177.2 452.5h0M133.3 464h0M170.7 480.1h0M150.8 455.6h0M136.1 456.1h0M177.2 454h0M161.1 451.1h0M159.4 452.4h0M177.6 472h0M153.9 454.8h0M142.9 481.7h0M170.6 452h0M168.3 457.6h0M142.9 479.5h0M145.6 463.9h0M148.3 459.5h0M150.7 470.2h0M139.9 470h0M134.9 458.3h0M172.4 477.8h0M158.4 460.3h0M164.6 451.3h0M174.1 477.3h0M154.2 464h0M146.8 453.9h0M141.7 452.8h0M147.7 451.8h0M146.7 470.5h0M166.5 452.2h0M163.2 462.2h0M143.3 453.1h0M173.1 458.6h0M175.3 463h0M177.2 474.1h0M145.3 475.9h0M134.3 469h0M165.5 476.2h0M138.1 481.4h0M130.5 452.5h0M149 455.8h0M161.6 454.2h0M143.8 469.7h0M145.9 468.6h0M127.9 457.1h0M169.5 474.4h0M169.7 458.7h0M175.4 477.5h0M160.1 460.4h0M172.9 468.2h0M149.2 451h0M154.8 467.4h0M151.6 464.2h0M161.8 451.3h0M135.7 469.6h0M144.4 454.6h0M151.5 476.1h0M173.2 457h0M160.1 463.4h0M133 457.3h0M145.5 460.2h0M170.2 460.1h0M147.1 449.8h0M171.6 473.2h0M179.7 453.7h0M132.3 453.8h0M145.2 457.3h0M152.2 462.7h0M128.4 459.2h0M159.1 452.5h0M164.1 468.7h0M134.9 454.9h0M177.9 459.2h0M141.6 480.4h0M172.5 453.5h0M146.6 448h0M132.5 460.7h0M131.6 461.1h0M143.8 471h0M170.2 464.4h0M163 461.2h0M176.5 462.8h0M156.6 453.3h0M160.2 462.5h0M133.4 454.9h0M146.9 461.6h0M170 460.9h0M174.6 449.5h0M173.6 466.6h0M139.9 450.3h0M132.2 451.8h0M153 454.3h0M175.6 481.3h0M180 467.6h0M148.2 449.5h0M137.5 452.9h0M130.1 455.9h0M143.9 457.7h0M150.5 461.6h0M161.2 459h0M150.2 447.7h0M175.5 451h0M178.4 474.9h0M175.8 471h0M153.3 465.1h0M175.1 474h0M149.6 462.7h0M142.7 453.5h0M151.4 448.9h0M149.4 457.3h0M137.8 456.5h0M138.5 463.9h0M173 470.6h0M169.5 467.1h0M172 469.1h0M179.8 454.1h0M179.1 458h0M166.2 469.3h0M173.6 451.7h0M179.7 480.7h0M163.9 460.7h0M173.4 454.2h0M172.6 474.2h0M156.2 457.5h0M165.5 454.1h0M170.5 451.8h0M142.9 463.7h0M138.1 451.6h0M156.3 452.8h0M140 454.3h0M149.2 466.2h0M143 459.2h0M130.8 460.7h0M173.8 475.8h0M162.4 455.6h0M139.4 464.5h0M148.3 468.4h0M153.5 462.6h0M153.9 459.8h0M152.9 446.8h0M163.5 464.9h0M132.9 459h0M142.5 465.4h0M143.4 469.4h0M137.2 462.2h0M140.6 448.8h0M165.9 475.5h0M164.9 473.2h0M149.3 448h0M151.3 452.5h0M145.1 475.9h0M150.2 462h0M161.6 449.2h0M131 464h0M145.3 473.7h0M175.6 477.3h0M138.2 467.8h0M164.4 463.8h0M173.3 481.7h0M143.5 478.5h0M159.8 469h0M168 472.6h0M145.8 478.8h0M165.8 465.2h0M139.5 458.7h0M141.4 462.1h0M164.9 462.8h0M132.3 464h0M148.8 460.5h0M162.7 463.7h0M152 454.2h0M168.9 460.9h0M172.5 455.2h0M156 464h0M133.3 457h0M155.9 467.5h0M161.7 472.8h0M133.6 465.2h0M150.2 447.7h0M131.9 460.3h0M170.4 476.2h0M140.3 457h0M164.6 459h0M156.2 451.5h0M145.5 459.1h0M145.5 455.8h0M170.5 463.1h0M157.8 456.1h0M178.4 473.5h0M155.1 451.4h0M163.3 451.8h0M157.1 452h0M165.8 461.5h0M136.8 455.5h0M141.6 465.6h0M151.1 449.5h0M162.7 451.5h0M138.6 472.2h0M143.6 469.5h0M143.8 481.6h0M174.3 476.6h0M149.2 469.5h0M161.7 450.5h0M155.3 469.9h0M156.9 451.3h0M165.5 459.7h0M176.4 469.6h0M161.7 460.9h0M149 467.5h0M132.7 452.8h0M139.8 478.2h0M177.4 466h0M158.2 460.2h0M147.4 455.2h0M143.3 451.1h0M173.5 454.7h0M176.2 453.2h0M148.2 466.2h0M140.2 475.1h0M142.6 476.9h0M144 474.7h0M148.5 469.2h0M132.2 464.2h0M174.1 480.8h0M146.1 464.5h0M168.1 469.4h0M172 455.6h0M169.1 460.5h0M158 459.3h0M145.3 466.4h0M168.7 454.3h0M138.8 461.7h0M135.9 459.2h0M171.6 470.4h0M155.5 449.5h0M171.6 475.9h0M152.8 474.5h0M137.8 465.6h0M145.8 449.8h0M166 474.6h0M202.7 481.8h0M194.5 461h0M204.8 477.6h0M205.7 483.2h0M196.5 480.5h0M215.6 480.9h0M198.5 477.6h0M193.2 465.4h0M193.5 468.9h0M206.1 467.5h0M211.5 483.9h0M195.6 473h0M209.9 482.3h0M198.4 474.7h0M203.2 465.4h0M191.9 470.1h0M204.5 472.4h0M204.4 465.9h0M214.6 483.3h0M196.4 463.3h0M195.3 469.2h0M200.8 475.4h0M199.3 470h0M202.9 479.1h0M187 467.2h0M189 472.7h0M207.8 471.3h0M199.2 481.3h0M203.2 464.9h0M209 471.8h0M202.3 478.9h0M210 472.2h0M204.8 486.8h0M194 475.2h0M205 471h0M190.8 467.4h0M188.2 469.9h0M188.2 465.6h0M186.4 465.6h0M196.6 478.9h0M206 476.1h0M222.6 486h0M196.8 465.9h0M197.8 470.2h0M210.2 481h0M190.6 463.4h0M193.2 474.9h0M210.8 472.2h0M202.9 464.4h0M201 483h0M198.2 470.5h0M206.3 471.1h0M196.2 471.2h0M197.3 469h0M201 464.5h0M202.6 480.9h0M219.4 486.9h0M204.2 469.7h0M200.6 476.3h0M209.7 467.8h0M214.5 490.1h0M216.2 481.9h0M211.6 469h0M191.8 471.1h0M194.9 480h0M190.3 466.3h0M212 486.8h0M198.8 483.4h0M201.9 480.5h0M191.9 468.1h0M200.1 486h0M196.2 463.8h0M192.8 461.8h0M191.3 472h0M210.5 486.6h0M196.4 466.5h0M198.3 475.6h0M203.9 483.6h0M222.7 487.7h0M206.9 475.9h0M194.4 464.6h0M195.3 469.6h0M211.4 485.7h0M190.8 470.1h0M210.1 478.8h0M199.1 468.6h0M204.7 471.1h0M203.3 485.1h0M188.7 462h0M195.9 469.2h0M206.3 470.5h0M211.8 476h0M209.7 473.6h0M189.2 472.4h0M211.7 487.2h0M190.8 470h0M203.6 470.7h0M210.5 480.8h0M209.7 475.4h0M199.9 473.2h0M215.3 479.2h0M213.1 481.9h0M200.8 477.3h0M205.9 478.4h0M201.2 480h0M213 480.1h0M200 484.4h0M217.6 487.9h0M201 465.7h0M198.6 471.9h0M187.4 465.4h0M196 470.2h0M188.2 468.7h0M197.7 468.6h0M195.4 464.8h0M191.6 471.1h0M188.2 464.7h0M190.2 471.7h0M188.5 469h0M210.8 487.6h0M186.4 464.8h0M190 465h0M204.9 462.7h0M219.9 487.5h0M198.5 469.2h0M217 487.2h0M196.7 468.8h0M215 483.8h0M205.6 476h0M187.1 465.6h0M190.9 469.8h0M198.1 470.8h0M201.4 476.2h0M202.2 483.6h0M219.6 489.3h0M195.2 468h0M211.2 466.4h0M206.6 484.4h0M197.6 476.7h0M208.2 477.1h0M201.2 476h0M202.8 469.1h0M201.2 463.9h0M203.2 476.8h0M210.6 484.7h0M211.5 489.8h0M193.8 471.6h0M217.9 486.6h0M202.9 468.3h0M192.6 460.7h0M193.1 463.1h0M210.4 477.3h0M199.4 473.8h0M209.9 487h0M216.1 489.4h0M206.7 481.5h0M198.8 479.6h0M202.3 466.3h0M193.3 466.4h0M199.2 475.7h0M203.3 473.5h0M198.4 463.8h0M196.9 463.9h0M208 468.2h0M198.2 471.7h0M193.7 476.3h0M189.9 465.5h0M204.6 482h0M190 461.1h0M214.8 483.8h0M196.8 469.2h0M196.3 462.5h0M205 470.7h0M217.6 480.9h0M194.7 466.8h0M187.8 465.7h0M202.8 468.7h0M203.9 465h0M213.9 482.7h0M199.1 480.9h0M211.9 476.3h0M198.1 484.2h0M201.2 479.1h0M206.1 462.9h0M196.9 466.1h0M207.5 479.9h0M212.2 477.5h0M194.1 467.1h0M211 489.2h0M205.7 466.5h0M206.7 470h0M183.9 465.6h0M214.8 482.4h0M199.1 475.1h0M201.6 473.4h0M193.4 463.2h0M200.3 471.3h0M210.9 471.7h0M198 476.1h0M203.1 478h0M195.7 468.8h0M201.7 472.2h0M199.9 465.3h0M195 464.3h0M204.8 463.4h0M208.4 478.7h0M204.3 467.1h0M217.3 484.5h0M201.5 470.7h0M199.2 477.1h0M209.4 475.3h0M215.9 485.8h0M198.7 479.4h0M211 465.7h0M215.3 484.8h0M201.4 462.9h0M202.1 485.2h0M191.7 472.4h0M197.5 471h0M209.8 472.8h0M192.2 463.6h0M197.5 463.8h0M203.4 465.6h0M196.4 472.5h0M197.5 476.6h0M219.3 486.9h0M211.2 474.1h0M195 472.5h0M197 475h0M201.8 477.8h0M196.4 470.4h0M191.5 468.8h0M201.9 466.3h0M208.7 483.5h0M201.4 461.1h0M200.4 478.5h0M214.2 485.4h0M193.7 469.1h0M209.2 483.8h0M210.1 488.3h0M197.1 480h0M196.8 480.7h0M202.9 477.2h0M204.4 483.9h0M198.7 478h0M193.1 472.6h0M199.2 472.1h0M196.5 470.7h0M219.4 486.9h0M193.5 473.3h0M211.5 487.8h0M201.8 472.3h0M200.7 473.5h0M210.5 477.7h0M215.9 488.5h0M214.6 483.8h0M193.6 466.5h0M199.4 462.2h0M200.8 467.7h0M190.2 470h0M209.9 470.1h0M190.2 464.7h0M203 471.9h0M209.9 479.5h0M212.5 474.9h0M212.7 482.6h0M206 482.8h0M216.5 487h0M210.6 481.8h0M205.6 467.7h0M196.5 469.8h0M206.4 464.3h0M214.2 486h0M195.2 473.6h0M207.2 467h0M198 471.1h0M197 462.5h0M204.4 463.5h0M207.6 481.9h0M208.7 465.4h0M202.5 476.3h0M192.2 463.7h0M192 473.9h0M198.3 482.4h0M198.4 469.6h0M212.3 486.5h0M188.7 467.6h0M203.9 475.1h0M189.8 462.2h0M197.8 472.4h0M202.6 469.3h0M196.3 464.8h0M213.4 479.2h0M185.8 464.7h0M205.7 464.6h0M218.1 487.5h0M204.6 469.1h0M206.3 475.6h0M191.2 469.9h0M194.4 466.1h0M212.1 488.6h0M203.6 482.3h0M216.4 480.9h0M188.1 470.2h0M205.5 474.1h0M208.6 465.5h0M205.1 468.6h0M187.7 471.6h0M200.3 467.4h0M210.6 472.8h0M213.1 481.7h0M198 474.8h0M201 474h0M212.4 467.7h0M208.5 484.7h0M207 484.5h0M205.5 485h0M200.4 474.5h0M190.4 471.8h0M195.8 501.4h0M195.6 497.4h0M202.2 495.8h0M188.9 490.1h0M190 512.3h0M191.1 498.7h0M197.6 502.5h0M204 497.9h0M190.2 496.8h0M199.8 493.8h0M202.5 501.9h0M188.2 507h0M202.9 495.9h0M191.4 489.6h0M184.9 508h0M186.5 491.9h0M184.4 505.6h0M197.5 502.9h0M200 500.2h0M194.5 508.2h0M196.2 503.7h0M189.3 493.7h0M188.7 505.9h0M196.3 506.1h0M195.4 496.4h0M191.3 501.8h0M186.2 502.3h0M199 494.3h0M189.7 496.5h0M196.1 490.9h0M188.9 495.5h0M197.9 491.3h0M194.1 506.5h0M193.6 489.8h0M198.3 504.1h0M194.4 501h0M190.6 502h0M186.9 509.1h0M186 509.1h0M193.2 489.4h0M191.5 492.9h0M193.3 508.5h0M193.2 506.4h0M187.8 490.8h0M204.6 497.8h0M186.4 506.9h0M186.4 493h0M185.2 498.9h0M200 502.2h0M185.2 493h0M189.5 506.2h0M187.2 499.9h0M187 490.5h0M188.3 494.3h0M200 497.5h0M201.4 501.1h0M195 491.7h0M187.5 503.1h0M187.2 507.2h0M198.8 493.9h0M196.9 498.7h0M188.4 500.3h0M196.8 497.5h0M187.8 504.4h0M204.1 498.6h0M192.4 495.6h0M190 501.3h0M195 499.1h0M200.3 503h0M197 506.2h0M195.8 500.5h0M204.7 499.9h0M197.3 494.2h0M185.1 509.8h0M190.1 491.4h0M189.2 497.1h0M191.4 496.2h0M192.3 506.3h0M200.6 503.9h0M193.1 489.7h0M185.4 503.3h0M185.9 503.7h0M189.5 495.3h0M203.6 497.2h0M195 493.4h0M186.1 500h0M186.5 509.8h0M199.2 491.9h0M198.7 498.9h0M199.9 499.3h0M186 507.5h0M198 495.7h0M192.9 500h0M204.2 494.2h0M203.8 494h0M196.1 507.8h0M188.8 489.8h0M202.8 495.3h0M196.3 506.1h0M185.5 509.9h0M194.9 501.9h0M191.5 499.3h0M201.4 494.4h0M204 502.7h0M189.3 505.3h0M186.4 507.8h0M202.1 498.8h0M192.1 499.4h0M205.1 499.7h0M201.5 497.1h0M194.7 504.1h0M195 500h0M187.7 506.6h0M195.5 509.4h0M191.7 501.8h0M192.2 501.4h0M192.7 493h0M190.2 509.3h0M187.1 489.3h0M189.2 495.7h0M201.9 502.9h0M196.3 490.5h0M188.3 509.7h0M196.7 502.8h0M200.1 503.4h0M195 509.4h0M193.6 494.5h0M192.9 502.8h0M193.7 502.3h0M194.9 510.3h0M198.1 499.6h0M195.5 501h0M191.9 496.6h0M189.7 506.1h0M187.2 492.6h0M199 496.2h0M188.4 502.4h0M202 494.4h0M191.5 507.9h0M198 491.5h0M203.3 497.2h0M193.6 504.1h0M189.4 500.8h0M192.9 501.1h0M189.4 492.1h0M189.7 502.1h0M199.8 496.7h0M195.2 500.8h0M202.2 496.3h0M202.9 501.1h0M191.5 490.5h0M189.1 492.9h0M193.3 510.1h0M196.9 502.4h0M202.6 495.6h0M191.9 501.9h0M203.4 496.3h0M189 494.9h0M206.5 499.4h0M195.7 505.8h0M196.7 504.9h0M194.3 495.7h0M186.2 510.2h0M188.3 493.2h0M199.1 494.2h0M202.2 495.7h0M198.6 492.1h0M196.9 500.9h0M192.5 487.9h0M201.8 503.3h0M183.6 509.8h0M194.1 497.4h0M186.7 508.3h0M189.8 499.2h0M202.7 502h0M190 491.6h0M190.8 497.8h0M194 501.3h0M194.8 492.2h0M199.6 492.7h0M190.1 500.1h0M192.1 501.1h0M160.3 428.8h0M158.6 434.2h0M218.3 473.7h0M231.9 486.6h0M226.8 491.5h0M207.3 439.6h0M222.8 453.7h0M89.1 505.5h0M91.9 502.8h0M136.5 508.3h0M85.5 497.3h0M234.1 535.5h0" stroke="#ff7f00" stroke-width="2.7" stroke-linecap="round" fill="none"/>
<path d="M250.3 535.3h0M249.6 525.9h0M264.1 525.2h0M252.2 545.4h0M236.7 546.5h0M252.9 540.9h0M261 532.3h0M265.4 525.5h0M231.5 552.2h0M266 533.1h0M259.1 536h0M263.8 533.3h0M254.9 532.1h0M262.2 524.6h0M245.8 552.6h0M232.7 551.6h0M248.7 539.5h0M262.6 527.4h0M260.8 527.9h0M267.8 534.3h0M232.7 553.9h0M225.8 545.1h0M223.7 547.3h0M244.3 540.2h0M249.5 537.9h0M246.6 537h0M250 529.9h0M265.8 536.3h0M267.5 526.2h0M256.6 524.5h0M265.7 548.7h0M270 548.5h0M237.2 541.7h0M241.6 537.3h0M268.2 540.3h0M241.8 538.5h0M265.2 545.9h0M238.8 547.7h0M269.2 545.4h0M266 527.7h0M250.5 553.4h0M269.7 534.6h0M262.4 521.7h0M260.5 518.3h0M246.4 531.8h0M261.7 538.4h0M262 537.3h0M259 548.2h0M264.4 544.7h0M244.9 533.9h0M251.9 528.1h0M247.5 554.9h0M252.5 538.5h0M250.1 554.9h0M256.7 519h0M268.1 546h0M244.8 543.6h0M234.8 545.5h0M266.7 538.7h0M256.3 544.3h0M264.3 523.5h0M256.7 522.1h0M224.7 551.6h0M249 545.8h0M254.6 541.8h0M228.5 554.4h0M253 540.8h0M222.2 548.2h0M225.1 552.7h0M261.5 518.4h0M259.9 541.2h0M233.1 548.4h0M257.2 552.6h0M268.2 528h0M265.8 529.2h0M261.4 533.6h0M262.3 535.7h0M258.9 523h0M269.4 540.5h0M256.9 520.2h0M227.7 547.7h0M237.6 550.9h0M248.4 551.2h0M234.6 550.6h0M243.6 553.2h0M231.8 547.2h0M249.7 535.2h0M256.4 549.6h0M262 522.6h0M258.9 521.2h0M263.9 528.5h0M269 534.2h0M224 556.2h0M270.1 529.9h0M259.8 545.3h0M256.6 533.7h0M266.5 526.1h0M253.5 553.4h0M245.7 535.7h0M232 553.2h0M263.6 525.1h0M250.4 543.9h0M264.8 537.2h0M268.3 545.6h0M261.3 547h0M241 537.9h0M257.6 542.4h0M252.8 555.3h0M246.3 549h0M250.2 558.8h0M253.2 547.5h0M246.9 540.5h0M238.9 540h0M269.9 540.8h0M265 544.9h0M264.9 531.2h0M249.3 537.2h0M256.6 526.7h0M263.5 523.5h0M227.4 544.2h0M266.3 544.4h0M242.1 545.3h0M255.9 541.8h0M251 529.8h0M221.2 547.2h0M234.9 552.4h0M258.2 522.4h0M265.8 547.9h0M254.1 551h0M261.2 524.2h0M246 548.8h0M256.6 530h0M260.5 528.5h0M257.8 536.9h0M231.1 551.9h0M263.3 532.1h0M250.7 532.2h0M250.5 532.4h0M230.4 545.5h0M249.7 556.5h0M258.5 534h0M233.7 545.6h0M269.3 525.2h0M225.9 549.3h0M269.9 545h0M257.8 536.6h0M238.3 541.9h0M238.2 547.5h0M256 534.6h0M245.5 548.9h0M231.7 556.2h0M223.2 547.2h0M223.7 550.3h0M266.9 543.4h0M238.1 546.7h0M251.6 542.4h0M268.9 524.7h0M259.3 522.9h0M253.6 522.1h0M249.8 543.4h0M257.1 531.1h0M250.8 536.2h0M252 538.1h0M263.2 540.9h0M268 545h0M227.5 554.8h0M252.2 526.1h0M226.8 550.7h0M266.7 526.2h0M256.6 546.1h0M262.2 535.7h0M266 543.3h0M221.8 546.5h0M240.9 550.4h0M238.1 551.4h0M260.5 535.1h0M260.3 532h0M234.5 543.8h0M268 529.7h0M253.2 554.2h0M266 541.9h0M259.5 518h0M228.6 550.1h0M259.7 535.3h0M270.8 546.7h0M261.8 539.6h0M240.1 540h0M226.3 553.1h0M267.7 543.9h0M248.9 546.6h0M255.6 543.5h0M250.1 535.7h0M250.6 542.9h0M258.1 544.3h0M231.7 553.8h0M234.2 550.3h0M252.5 549.7h0M266.5 547.3h0M265 551.3h0M253 530.9h0M255.5 552.7h0M226.2 553.7h0M226.1 554.5h0M253.4 554.1h0M251.2 528.9h0M248.9 531.7h0M250.2 551.7h0M231.5 546.6h0M242.7 547.7h0M254.5 552.5h0M267.4 548.8h0M224.8 552.2h0M240.1 542.4h0M261.1 532.3h0M262.2 546.5h0M266.3 546.2h0M227.1 555.7h0M253.9 530.1h0M267.4 531.3h0M227.3 554.1h0M256.6 525.7h0M254.5 530.2h0M260.4 527.5h0M230.5 552.2h0M265 532.8h0M262.1 545.1h0M251 547.7h0M251.9 545.4h0M252.4 543h0M261.6 540.6h0M267.1 539.2h0M231.8 548.4h0M246.9 554.2h0M242.2 546.6h0M236.5 542.8h0M248.7 541.1h0M243.9 553.9h0M260.5 530.5h0M270.4 546.2h0M265.9 532h0M241.7 551.3h0M260.1 527.9h0M253.6 543.9h0M258.9 521.9h0M264.8 524.9h0M259.3 529.4h0M250.2 539.1h0M255 554h0M260.7 520.6h0M236.9 545.7h0M266.3 528.3h0M230.4 556.8h0M268.7 540.8h0M257.9 528.3h0M253.4 533.7h0M247 530.6h0M247.9 536.6h0M269.6 532.9h0M254.8 540.7h0M251.5 527.9h0M259.2 529.2h0M266 548.9h0M263 531h0M249.1 544.3h0M257.5 521.6h0M242.9 548.7h0M236.6 549.7h0M267.6 550.8h0M271.6 547.8h0M262.8 545.8h0M265 531.1h0M254.4 537.8h0M263.3 537h0M238.3 544.8h0M257.8 529.7h0M262.8 528.5h0M258.9 529.7h0M231.2 550.6h0M266.6 541.6h0M256.3 524.1h0M269.5 530.1h0M233 547.3h0M251.2 547.4h0M264.1 525.1h0M261.1 544.5h0M266.3 542h0M257.5 523.1h0M233.5 554.2h0M241.6 541.7h0M250.3 551.4h0M239 548.6h0M230.8 548h0M246.3 533h0M260.2 529.1h0M223.9 546.2h0M255.6 543.5h0M246.8 554.1h0M264 543.1h0M230.9 549.5h0M262.4 546.3h0M259.9 525.9h0M240.7 551.6h0M254.5 537h0M222.5 547.5h0M256 552.5h0M253 528.6h0M267.5 550.1h0M266.9 546.9h0M265.5 523.9h0M251.3 531.9h0M257.5 546.1h0M248.2 544h0M255.4 530h0M253.8 546.2h0M263.5 525.9h0M266.9 532.8h0M257.6 520.4h0M266.6 527.2h0M242.4 551.5h0M267.8 529.7h0M266.4 544.1h0M248.7 553.9h0M257 535.5h0M264.8 533.8h0M267.4 544.5h0M258.8 523.7h0M223 550.8h0M243.4 533h0M269.3 527.4h0M250.2 555.1h0M268.7 550.7h0M267.3 525.9h0M259.5 534.2h0M263.8 524h0M257.5 535.7h0M234.6 548.7h0M258.9 531.3h0M264 550.1h0M252.2 531.8h0M267.1 535.4h0M229.9 556.1h0M254.2 539.8h0M261.6 538.4h0M244.8 550.1h0M231.6 546.8h0M255.9 518.3h0M247.6 556h0M260.3 530h0M246.3 545.8h0M251.2 550.4h0M260.7 538.6h0M253 555h0M255 546.3h0M266.7 542.9h0M260.6 527h0M236.3 548.4h0M239.9 542.8h0M266.2 546.9h0M261.3 519.6h0M224.1 544.9h0M254.2 547.2h0M264.5 522.9h0M247 550h0M262.3 526.8h0M243.7 554.1h0M262.3 535.8h0M258.6 526.3h0M224.5 550.8h0M261.6 528h0M229.8 552.8h0M261.1 546h0M254.7 549.3h0M238.7 541.5h0M263.9 537.5h0M265.8 528.9h0M228.9 549.6h0M248.6 539h0M268.7 537.8h0M264.5 523h0M253 541.3h0M253.1 534.9h0M259.7 520h0M253.6 535.4h0M268.8 536.8h0M261.1 523.8h0M225.9 554.4h0M232.6 545.1h0M227.4 550.7h0M250.6 536.8h0M240.5 542h0M249.7 541.1h0M268.7 548h0M260.2 552.9h0M266.5 530.8h0M247.1 540.8h0M251.3 547.6h0M258.5 534.8h0M257.1 528.3h0M261.1 527.6h0M232 551.8h0M268.9 530.1h0M252.1 539.4h0M255.8 554.4h0M257.7 537.7h0M262.9 538.5h0M261.1 550h0M260.9 534.7h0M245.8 554.6h0M241.9 543h0M243.7 546.1h0M257.2 536.1h0M248.7 545.6h0M259.5 548.2h0M243.6 534.4h0M236.1 543.2h0M250.9 555.1h0M219.8 548h0M243.4 538.5h0M265.1 537.5h0M257.6 539.4h0M254.4 533.5h0M236.3 546.7h0M252.4 546.3h0M262.1 539.9h0M261.1 531h0M259 540.2h0M238.8 541.6h0M261.6 549.4h0M267 547.9h0M239.3 551.7h0M261.6 524.2h0M250.8 546h0M250.9 548.7h0M220.7 549.2h0M225.4 547.2h0M260.7 534.1h0M223.6 551.4h0M244.8 551.1h0M255.3 522.8h0M265.6 541.5h0M255.3 524h0M267.9 536.4h0M245 547.4h0M267 539.6h0M262.6 547.2h0M247.4 539.1h0M235.8 539.3h0M251.4 539.4h0M250.4 540.6h0M257.3 532.9h0M268.8 545.6h0M252.9 557.4h0M246.8 540.2h0M260.6 548.4h0M268.8 549h0M222.5 548.6h0M227.2 549h0M252.4 541.9h0M265.8 533.7h0M254.7 553.3h0M257.5 524.1h0M259.6 539.4h0M256.4 520.9h0M239.1 547.8h0M254.8 554.3h0M250.9 539.6h0M258.6 538.5h0M245 553.1h0M269.3 549.1h0M252.6 550h0M256 526.8h0M227.5 551.1h0M251.4 555.3h0M246.7 533.2h0M254 556.3h0M250.2 549.9h0M226.8 543.8h0M260.2 532.3h0M267.4 523.4h0M230.7 549.1h0M236.5 546.6h0M269 536h0M262 548.9h0M262 523h0M251 553.9h0M262.6 519.9h0M252.8 550.7h0M268.7 549.7h0M254.3 543.1h0M254.5 529.4h0M268.4 550.1h0M252.8 542.1h0M248.8 541.9h0M232.6 549.5h0M253.9 553.3h0M249.4 543.6h0M240.6 546.7h0M268.8 533.5h0M240.7 538.2h0M243.7 534.4h0M258.7 530h0M261.9 521.7h0M225 546.2h0M248 545.5h0M258.4 523.2h0M247.8 555.9h0M267.4 541.5h0M266.7 533.8h0M244.5 547.3h0M260 542.7h0M255.2 547.7h0M238.2 553.8h0M257 522.8h0M239.5 550.8h0M267.3 529.2h0M267.3 535.3h0M257.3 525.4h0M230.4 554h0M266.7 540.8h0M253 534.1h0M253.6 526.9h0M258 537.2h0M254.1 556.3h0M226.1 548.7h0M260.1 537.3h0M259.2 517.1h0M254.2 528.6h0M267.1 533.3h0M264.6 528.5h0M260.2 534.1h0M256.8 523.2h0M261.3 527.4h0M246.1 540.2h0M243.3 546.2h0M229.3 553.3h0M261.1 547.9h0M268.2 529.1h0M259.9 520.2h0M260.4 523.4h0M256.6 528.2h0M241.1 545.1h0M249.5 546.6h0M227.9 552.2h0M243 551.9h0M249.7 532.4h0M264.6 551.5h0M266.8 534.8h0M251.4 526.5h0M259.9 542.4h0M268.2 524.4h0M252.8 530.5h0M261.8 542.6h0M263.3 544.1h0M268.6 546h0M264.4 530.9h0M229.9 549.1h0M221.1 550.5h0M251.6 551.4h0M260 523.8h0M251.5 527.7h0M259 548.5h0M244.7 533.1h0M264.7 535.9h0M265.9 529.2h0M263.1 533.7h0M247.9 544.1h0M261.2 530.6h0M249.4 544.4h0M246.3 551.3h0M252.2 558.6h0M237.7 541.8h0M261.5 520.6h0M228 554.3h0M188.7 574h0M184.1 582.5h0M199.2 561.9h0M195.6 568.8h0M193.7 566.5h0M189 590.3h0M186.6 586.4h0M197.8 560.9h0M202.4 564.5h0M190.1 590.7h0M187.4 575.3h0M194.9 560.4h0M185.8 576h0M198.9 568h0M185.4 577.3h0M198.2 559.8h0M210.4 561.1h0M190.8 577.2h0M187.6 571.7h0M195.7 570.6h0M188.5 582.9h0M188.3 583.3h0M187.3 584h0M186 574.6h0M186.2 577.3h0M189.6 572.4h0M207.2 557h0M205.9 559.9h0M190 582h0M198 564.6h0M188.9 587.1h0M190.1 589.8h0M188.2 572.7h0M195.9 563.9h0M189.6 564.9h0M200.9 561.6h0M193.1 562h0M188.5 571.2h0M187.9 588.4h0M205.2 564.6h0M185.9 575h0M185.2 573h0M196.6 563.4h0M210.2 562.3h0M192.8 566.7h0M200.5 564.6h0M192.6 584.5h0M187.7 578.3h0M198.4 565.8h0M185.3 585.8h0M197.1 571.4h0M190.5 570.7h0M193.1 587.8h0M188.9 571.3h0M204.7 560.4h0M183.7 584.2h0M209.5 562.8h0M193.4 564.5h0M183.6 584.1h0M181.5 583.1h0M189 571.9h0M202.4 561.3h0M196.5 562h0M188.3 586.6h0M195.1 565.4h0M185.5 579.7h0M191.9 568h0M184.2 581.3h0M190.9 569.6h0M206.9 566h0M180.9 585.1h0M182 584.2h0M195.9 584.4h0M184.4 573.6h0M194 573.9h0M189.3 587h0M191.2 581.5h0M186.6 580h0M202.5 557.8h0M198 566.2h0M197.6 565.4h0M206.1 557h0M186.9 577.1h0M186.6 583.6h0M194.5 569.4h0M188 587.3h0M192.6 569.4h0M200 566h0M184.4 583.9h0M185.2 581.7h0M186.7 576.1h0M186.8 576.9h0M190.2 584.7h0M193.5 584.1h0M184.2 578.8h0M187.7 570.3h0M185.6 572.6h0M187.7 583.7h0M204.3 561.2h0M205 557.4h0M194.1 563.6h0M188.6 588.3h0M201.7 568.4h0M188 585h0M199.8 561.8h0M188.3 568.4h0M185.1 576.8h0M183.9 581.2h0M208.1 556.8h0M206.5 558h0M187.2 585.2h0M182.9 579.5h0M200.2 566.3h0M189.8 582.1h0M195.5 572.7h0M194.1 577.4h0M200.2 556.3h0M187.8 582h0M196.9 565.3h0M192.5 574.9h0M187.3 566h0M199.3 561.5h0M185.3 576.5h0M197.6 556.8h0M191.5 585.3h0M192 570.3h0M203.6 561.5h0M198.5 558.4h0M183.2 578.2h0M187 584.3h0M186.2 570.3h0M207.4 559.6h0M180.2 581.7h0M186 587.6h0M182.4 586.2h0M188.1 586.2h0M192.8 582.8h0M183.5 583.9h0M188.8 578.1h0M185.7 572.2h0M182.7 584.2h0M182.4 582.1h0M190 582.9h0M189.8 576.4h0M194.9 558.4h0M191.1 588.9h0M187.1 568.8h0M198.5 566.8h0M187.8 576.1h0M191.5 584h0M187.7 566.7h0M200.8 564.3h0M204.7 559.7h0M185.2 583.2h0M189.9 585.7h0M206.8 564h0M191.8 575.2h0M187.1 588.4h0M193.7 572h0M192.4 588.4h0M197.1 563.4h0M193.4 558.2h0M202.8 557.6h0M193.6 586.1h0M208.8 563.1h0M206.8 562.6h0M198.2 564.4h0M186.7 567.9h0M204.8 558.1h0M187.5 563.7h0M185.5 584.2h0M182.8 586.9h0M204.7 555.8h0M189.3 585.9h0M193.2 567h0M206.8 555.8h0M202.5 565.4h0M192.5 562.5h0M210.2 562.7h0M202 569.9h0M182.6 585.6h0M197.8 571.6h0M180.6 583h0M183.7 580.5h0M198.3 564.3h0M199 567h0M199.7 559.8h0M191.5 577.6h0M201.8 565.5h0M198.9 554.4h0M184.8 585.6h0M198.3 570.4h0M187.2 571.2h0M204.6 555.7h0M199.4 567.1h0M203.6 560.3h0M201.6 556.1h0M189.8 574.1h0M196.7 561.7h0M205.2 567.7h0M189.7 563.2h0M207.1 556h0M191.5 567.9h0M208 563.2h0M192.5 563h0M205.9 557h0M201.6 558.9h0M195.1 563.7h0M193.2 573.9h0M184.7 576h0M194.7 559.8h0M194 560.1h0M204.7 555.3h0M188.2 575.9h0M188.7 571.6h0M200.2 565.3h0M189.4 584.8h0M198 559.3h0M190.7 579.4h0M186.2 581.8h0M190 576.1h0M197.6 570.3h0M190.5 574.2h0M202.7 567.4h0M200.5 563.2h0M204.3 556h0M185 568.4h0M192.4 573.8h0M195.4 558h0M200.4 567.9h0M190 576h0M203.7 564.8h0M187 569.9h0M203.2 566.5h0M188.2 586.3h0M205.3 566.3h0M197.2 560.5h0M186.9 584.1h0M188.1 569.3h0M207.8 558.3h0M186.2 581.6h0M188.8 565.6h0M187.8 568.7h0M201.2 562.1h0M198.9 566.7h0M189.7 582.8h0M205.9 557.9h0M277.7 563.8h0M279.9 562.3h0M279.4 563.3h0M277.2 562.8h0M279.5 562h0M226.5 538.3h0M220.1 558.3h0" stroke="#fdbf6f" stroke-width="2.7" stroke-linecap="round" fill="none"/>
<path d="M225.5 565.9h0M227.8 569.8h0M233.9 574.8h0M231.5 565.9h0M236.1 564.3h0M240.7 562.8h0M239.6 566.8h0M228.4 575.4h0M230.7 570.3h0M241.9 557h0M235.2 566.1h0M240 558.1h0M239.9 556.2h0M236.8 573.5h0M243.5 555.1h0M231.3 562.7h0M228.4 563.4h0M224.3 571.2h0M234.9 573.3h0M223.5 574.5h0M238.3 557.8h0M226.6 571.9h0M237.6 571.7h0M233.2 570.1h0M237 560.2h0M237 568h0M241 560.3h0M240.7 563.6h0M238.7 558.4h0M234.9 563.2h0M238.8 562.1h0M238 572.9h0M234 562.8h0M234.8 565.3h0M228.9 564.7h0M226 565.8h0M238.7 572.9h0M237.7 561.1h0M235.2 571.5h0M231.4 573.7h0M229.3 571.3h0M232.9 571.5h0M224.9 576.5h0M223.7 575.3h0M237.8 557.1h0M235.2 573.9h0M232.7 563.3h0M230 574.3h0M224.5 567.4h0M229.6 572.2h0M228.1 570.1h0M232.7 563.1h0M231 567.3h0M241 570.1h0M231.6 570.3h0M238.3 572h0M238.9 555h0M222.2 574h0M223.2 575.8h0M233.6 564.4h0M225.9 571h0M234.2 566.7h0M228 571.9h0M235.7 562.9h0M238.1 564.6h0M239.2 571h0M240.9 557.9h0M235.7 558.8h0M238.4 568.7h0M240.7 558h0M241.1 565.4h0M239.3 562.1h0M238 572.3h0M229.8 568h0M235.5 574.7h0M231.5 560.6h0M236.3 568.1h0M224.5 570.7h0M240.5 556.5h0M237.7 569.6h0M233.6 571.6h0M237.2 572.4h0M245.2 559.6h0M240.8 561.2h0M238 563.2h0M234.1 570.9h0M235.4 564.3h0M231.3 572.9h0M229.7 562.8h0M238 573h0M231.9 576.6h0M233.1 573.8h0M222.1 571.4h0M221.5 574.9h0M236.7 563.7h0M224.6 571.1h0M228.3 574.2h0M241.7 559.2h0M238.9 558.3h0M227.1 566.4h0M220.1 573h0M234.5 571.6h0M241.5 562.3h0M239.6 564.5h0M236.2 570.4h0M232.8 573.2h0M234.4 563.5h0M239.1 571.8h0M234.5 563.5h0M230.2 562.6h0M246.3 559.2h0M243.1 561.2h0M234.3 570.9h0M240 567.5h0M228.5 571.7h0M244.8 560.1h0M238.8 555.4h0M223.9 567.7h0M236.6 558.4h0M225.2 573.6h0M231.2 573.1h0M221.7 572.5h0M232.6 561.4h0M236.7 571h0M222.9 571.5h0M231.5 565.3h0M240.8 566.3h0M230.9 572.9h0M239.5 566.1h0M239.3 555.7h0M226.7 569.7h0M223.1 571.1h0M238.6 556.5h0M245.1 559.2h0M242.3 565.3h0M226.5 566.7h0M229.7 575.1h0M228 570h0M233.4 561.8h0M240.6 567.7h0M228 565.1h0M236.7 558h0M228.7 571.3h0M239.9 566.4h0M236.1 556.9h0M232.8 572.7h0M230.8 568.6h0M233.6 563.6h0M225.4 576.4h0M241.3 567.8h0M229 564.9h0M228.2 575.6h0M239.4 570h0M234 559.5h0M237.4 570.1h0M234.7 559.7h0M231.1 568.9h0M242.3 561.2h0M227.1 575.1h0M235.9 562.7h0M236 570.3h0M240.4 565.8h0M225.8 564.7h0M237 565.9h0M247.9 561.6h0M230.9 562.3h0M229.6 570h0M238.5 571.8h0M235.1 567.8h0M229.4 567.7h0M236.9 559.6h0M226.6 570.6h0M233.4 567h0M228.1 571.4h0M240 556.9h0M227.8 565.9h0M237.8 555.7h0M242.2 559.9h0M228.4 564.8h0M226.6 568.4h0M240.5 562h0" stroke="#cab2d6" stroke-width="2.7" stroke-linecap="round" fill="none"/>
<path d="M213.5 529.7h0M205.3 519.1h0M204.8 516.8h0M206.5 511.7h0M215.1 525.5h0M219.7 513.7h0M213 520.1h0M217.8 510.5h0M207.7 506.2h0M223 511.1h0M223 518h0M213.2 525.5h0M214.6 523.8h0M225.3 518.5h0M221.4 505.8h0M216 510.7h0M204.2 526.7h0M212.8 517.6h0M207.9 520.1h0M218.8 507.8h0M204.9 523.2h0M212.2 528.2h0M207.4 523.3h0M231.1 523.8h0M215.2 527.6h0M206.5 511.3h0M230.2 525.7h0M214 527.7h0M223.7 517.3h0M214.2 526.9h0M217.8 522.7h0M212.2 525h0M215.8 519.7h0M204.4 517.6h0M229.8 525.2h0M212.7 527h0M205.3 510.4h0M206 512.2h0M205.5 524.9h0M223.4 520.8h0M210.9 523.7h0M224.6 521.5h0M222.9 527.2h0M214.6 518.6h0M232.6 523.1h0M218.6 521.4h0M216.7 517.6h0M205.8 520.9h0M206.5 513.1h0M204.5 517.2h0M217.2 506.2h0M222.2 521.9h0M213.6 526.1h0M217.5 519.6h0M212.9 520.9h0M225.8 529.5h0M216 511.7h0M204.7 524.5h0M214.6 517.3h0M212.4 529.4h0M208.2 529.7h0M211.1 507.1h0M212.2 512.5h0M221.7 510.7h0M208.6 512h0M229.9 520.6h0M206.8 519.7h0M219.8 521h0M218.6 519.7h0M222.6 524.3h0M208.7 515.8h0M225.8 522.3h0M216.7 521.6h0M205.3 524.3h0M215.1 510.8h0M216.3 521.9h0M226.2 527.9h0M210.9 523h0M212.7 504.1h0M209.8 529.6h0M209.4 514h0M214.3 511h0M208.4 511.3h0M228 519.8h0M209.2 513.6h0M204 516.2h0M213 524.6h0M223.2 511.4h0M211.8 523.1h0M210.3 517.9h0M226.4 523.1h0M219.9 521.8h0M229.4 521.3h0M229.5 522.8h0M215.3 521.4h0M203.5 523.3h0M218.2 507.2h0M212.4 532.5h0M214.9 519.5h0M222.2 526.8h0M211.5 522.8h0M214.7 522.7h0M229.5 520.2h0M219.3 514.1h0M213.5 518.9h0M230.9 522.9h0M217.5 509.6h0M207.1 527.1h0M216 523.7h0M211.3 508.4h0M201.4 510.1h0M216.9 524.3h0M215.9 520h0M217.8 504.3h0M216.4 504.6h0M209.1 524.6h0M209.6 523.4h0M205.3 527.5h0M217.2 515.6h0M205 508h0M209.7 510.1h0M218.5 507.8h0M210.8 529.5h0M215.6 506.1h0M214.1 519.9h0M226.3 518.6h0M201.1 520.6h0M209 529.6h0M216.8 507.2h0M216.5 510.9h0M222.1 515.6h0M212.4 520.6h0M217.2 519.6h0M207.4 516.2h0M215.4 525.8h0M218.5 509h0M223.9 524.2h0M206.3 509.9h0M226.3 523h0M204.4 522.2h0M214.6 520.1h0M211.6 508.7h0M216.4 507.5h0M213.1 529h0M223.7 512.8h0M204.6 524.4h0M208.8 516h0M208.4 517.5h0M213.7 507.6h0M217.6 527.4h0M213.3 509.8h0M204.1 520.3h0M203.1 521.8h0M224.3 519.1h0M214.4 523.4h0M210.5 528.1h0M209.8 509.8h0M204 521.8h0M209.6 506.8h0M216.9 516.9h0M215.6 528h0M209.5 514h0M210.2 526.5h0M221.2 526.4h0M215 526.1h0M212.9 525.5h0M216.1 517.6h0M215.2 505.9h0M223.1 517.7h0M205.8 527.4h0M212.2 511.2h0M212.8 522.9h0M227.6 522.9h0M230 521.9h0M222.2 509.1h0M214.8 524.5h0M208.3 515.1h0M219.2 513.1h0M232.9 521.6h0M201.2 521.6h0M212.4 529.5h0M228.6 520.7h0M211.7 506.9h0M214.7 504.3h0M206.4 525.9h0M220.3 519.7h0M226.6 520.8h0M204.6 509.2h0M201.7 518.5h0M233.4 520.6h0M206 520.8h0M231.8 525.6h0M216.3 522.4h0M218.5 509h0M210.2 504.6h0M203.8 523.8h0M223.4 506.7h0M211.4 512.2h0M214.1 506.5h0M208.2 526.8h0M210 528.7h0M208.3 527.5h0M218.2 517.4h0M216.8 519.4h0M224.9 529.6h0M226.8 518.5h0M208.4 511.2h0M223 524.5h0M206.4 515.6h0M216.6 527.1h0M209.5 530.8h0M213.6 525.7h0M220.9 521.2h0M209 518.3h0M226.4 524.2h0M220.6 509.2h0M210.3 507.4h0M218.3 508.2h0M222 508.3h0M228.3 525.6h0M213.8 525.7h0M223.8 519.8h0M220 517.3h0M216.6 522.4h0M204.4 525.8h0M210.4 529.5h0M212.3 525.3h0M210.5 528.3h0M216.8 524.9h0M208.2 510.8h0M210.1 529.8h0M216.6 525.4h0M203.6 522.6h0M211.3 508.5h0M221.2 509h0M202.7 521.3h0M211.4 510.7h0M208.8 518.1h0M228.1 523h0M205.4 517.4h0M205.7 526.2h0M208.1 527.2h0M217.2 511h0M209.1 505.5h0M203.8 516.8h0M212.5 509.2h0M211.8 529.1h0M211.4 517.4h0M202.7 523.4h0M203.4 518.6h0M216 504.8h0M208.1 521.8h0M224.5 526.9h0M204.2 518.8h0M203.6 524.2h0M206.4 520h0M217.5 509.3h0M215.3 523.2h0M224.7 519.4h0M217.5 521.2h0M221.4 517.3h0M214.3 506.6h0M213.6 527.3h0M210.9 529.6h0M228.1 522.4h0M213.6 524.4h0M212.1 512.1h0M225 524.3h0M209.2 526.4h0M223.6 528.1h0M204.9 511.4h0M206.3 509.7h0M202.1 520.2h0M215.2 510.5h0M209.2 508.4h0M230.1 524.9h0M219.5 503.7h0M213.7 529h0M210.2 517.6h0M211.4 524.7h0M215.7 518.9h0M217 528.1h0M220.6 510.8h0M210 528.1h0M229.5 524h0M215.1 523.1h0M211.2 516.6h0M213.5 520.9h0M204.7 506.8h0M218.8 509.1h0M206.3 513.3h0M214.9 521.8h0M214.7 512.1h0M218.7 506.2h0M208.2 516.9h0M215.4 517.7h0M211 510.4h0M208.5 527.2h0M212.4 520.3h0M219.3 510.9h0M220.5 512.7h0M209 529.1h0M202.7 523.2h0M225.6 519.1h0M214.2 517.8h0M206.6 508.2h0M209.3 523.1h0M212.8 524.3h0M212.7 521.9h0M224.1 525.7h0M212.9 528.8h0M208 524.8h0M206.6 510.1h0M212.5 509.3h0M217.1 512.1h0M216.8 525.5h0M211.2 507.8h0M212.8 520.3h0M221.7 511h0M205.7 526.7h0M214.9 522.6h0M205.5 518.9h0M209 510h0M219.6 510.7h0M215.2 516.7h0M214.3 524.5h0M211.8 512.3h0M229 525.3h0M217.2 509.6h0M219.1 514.6h0M220.2 509.4h0M216.1 512.6h0M206.3 508.7h0M228.8 522.5h0M218.2 526.2h0M210.5 519.3h0M209.2 525.8h0M225 518.8h0M209.8 512.2h0M211.5 507.8h0M203.7 533.7h0M209.2 532.8h0M201 541h0M206.4 533.4h0M163.8 517.4h0M167.5 518.3h0M171.1 517h0M159.3 522.8h0M162 524.6h0M160.2 526.5h0" stroke="#6a3d9a" stroke-width="2.7" stroke-linecap="round" fill="none"/>
<path d="M244.9 483.2h0M238.4 490.2h0M253.5 502.2h0M258.9 493.2h0M272 487.2h0M258.8 509.4h0M261.2 483.9h0M269 498.7h0M241.1 491.7h0M255.2 503.3h0M243.9 482.7h0M266.7 496.4h0M233.6 495.6h0M270 505h0M250.7 493.8h0M244.9 495.7h0M260.2 491.3h0M266.3 499.5h0M236.5 487.9h0M240.4 501.9h0M265.6 502.3h0M265.9 492.5h0M269.6 499h0M264.4 505.6h0M263.2 498.7h0M273.6 501h0M241.2 508.4h0M258.3 500.9h0M268.4 489.4h0M260.4 504.7h0M260.6 485.1h0M272 490.5h0M241.9 498.9h0M250.9 502.4h0M273.1 491.7h0M246.4 485.2h0M275.7 491.7h0M267.1 482h0M236.5 491.8h0M263.9 482.2h0M258 496.3h0M259.9 482.1h0M252.4 497.7h0M253.7 497.9h0M241.2 484.8h0M247.8 503.9h0M264.5 497.1h0M259.9 502h0M248.9 488.6h0M234.6 503.5h0M266.4 481.1h0M242.7 486.8h0M262.7 488.7h0M265 504.8h0M237.8 489.2h0M240.1 492.7h0M259.4 481.9h0M246.2 492.6h0M257 486.2h0M263.8 498.6h0M244.4 485.7h0M264.8 493.8h0M276.7 491.5h0M240 499.8h0M256.1 480.4h0M269 486.4h0M259.9 499.2h0M253 487.2h0M257.9 479.3h0M259.3 496.8h0M260 480.5h0M259.3 486.3h0M246.9 492.8h0M265.2 480.3h0M265.9 484.2h0M271.4 484.9h0M249.2 488.2h0M240.9 486.8h0M234.5 491.8h0M262 507.8h0M265.4 483.2h0M249.5 508.3h0M266.5 499.6h0M253.4 492.7h0M253.5 489.7h0M267.1 487.6h0M272.6 497h0M259.6 502.7h0M243.2 480h0M251.4 502h0M276.4 495h0M243.9 487.2h0M243.7 482.7h0M251.7 479.3h0M260.8 500.6h0M263.1 505.8h0M273.8 492.8h0M256.2 498.3h0M249.4 501h0M252 500.4h0M239.9 504.5h0M250.9 491.9h0M272.3 492.8h0M262.4 506.3h0M240 490h0M250.6 481.6h0M265.5 501.4h0M234.8 488.2h0M272.9 493.8h0M245.4 488.8h0M239.6 487.2h0M236.7 486.7h0M272.9 486h0M260.2 499.6h0M254.4 481h0M265.4 485.3h0M251.2 495h0M246.1 501.4h0M233.3 494h0M256 484.9h0M269.3 493.8h0M256.4 494.9h0M234.5 498.9h0M245.2 480.6h0M260.2 479.2h0M256.4 501.6h0M236 504.7h0M264.6 481.2h0M250.9 482.6h0M264.9 506.6h0M238.6 502.4h0M246.5 501.6h0M245.1 493h0M255.2 484.4h0M252.1 487.7h0M270.2 488.9h0M235.5 493.7h0M270.3 485.7h0M262.4 508.1h0M267 505.3h0M253.3 495.1h0M236.9 486.1h0M273 496.6h0M238.2 494.8h0M274.6 499.5h0M245.3 502.4h0M251.2 505.9h0M260.2 508.3h0M242.9 482.3h0M272.1 501.5h0M235.8 503h0M259.4 482.7h0M249.9 504.5h0M243.9 479.5h0M257 492.3h0M239.9 494.4h0M262.6 501.4h0M234.4 496.8h0M239.2 505.7h0M256.3 481h0M243.2 508.1h0M261.4 493.8h0M267.8 500.7h0M261.3 507.3h0M248.2 507.5h0M269.5 483.5h0M235.4 486.2h0M255.8 477.9h0M264.8 491.6h0M237.9 498.7h0M251.9 490h0M261.7 506.3h0M265.1 503.1h0M269.7 491.6h0M258.1 495.1h0M239.1 491h0M252 479.1h0M260.3 482.7h0M254.4 487.1h0M249.3 487h0M245.2 508.3h0M249.5 492.1h0M236.1 493.8h0M261.5 481.5h0M266 488.9h0M232.7 498h0M260.3 499.2h0M245.9 479.9h0M248.6 482.5h0M237.5 496.9h0M254.4 507.8h0M265.3 503.6h0M236.6 489.5h0M260.8 479.1h0M258.2 487.1h0M242.1 498.3h0M251.3 493.1h0M263.5 479.4h0M249.7 501.6h0M248.1 484.1h0M266.3 493.6h0M268.1 503.4h0M263.9 507.5h0M235.5 490.1h0M235.3 486.5h0M249.7 492.6h0M249.1 481h0M267.7 494.3h0M254.3 499.7h0M236.2 501.3h0M250.3 491.6h0M268.4 487.2h0M241 481.8h0M257.4 496h0M236.1 490.3h0M250.4 490.6h0M248.9 485.3h0M261.8 485.1h0M243.7 498.3h0M235.9 485.3h0M236.4 497h0M271.3 501.5h0M260.3 480.1h0M262.5 505.9h0M243 500.8h0M261.5 487.3h0M262.9 497.8h0M269.5 495.1h0M253.2 491.1h0M254 506.2h0M262.5 507.7h0M266 491.4h0M234.5 499h0M256.4 497.6h0M265.6 507.4h0M264.9 491.2h0M255.5 480.1h0M234.6 488.1h0M256.4 504.5h0M237.1 483.6h0M233.7 496.1h0M250 480h0M241.7 503.6h0M242.7 485.1h0M244.5 487.1h0M242.5 498.8h0M253.7 489h0M237.1 496.2h0M246.5 496.4h0M251.8 485.9h0M245.1 495.6h0M250.9 506h0M267.9 504.8h0M241.6 502.9h0M247.8 505.4h0M259.9 509.9h0M268.1 497.1h0M238.9 503.8h0M255.3 506.3h0M252.9 498.4h0M262.6 495.7h0M239.7 491.4h0M246 509.8h0M264 495.7h0M242.2 497.4h0M241.8 492.5h0M259.9 492.1h0M267.6 498.5h0M249.4 489.6h0M237.8 489.4h0M262 494.1h0M259.5 496.7h0M240.4 487.2h0M247.3 506.1h0M236.4 496.9h0M256.8 493h0M238.4 489.2h0M260.2 499.2h0M258.9 495.7h0M276.5 494.9h0M254.8 508.1h0M234.8 486.2h0M240.6 495.8h0M259.5 503.3h0M269.8 488.5h0M243.1 492.9h0M235.4 485.4h0M267.3 506.2h0M269.2 485.7h0M247.1 504.8h0M245.8 497.3h0M263.3 491.6h0M265.7 487.6h0M241.4 491.5h0M273.2 501.1h0M239.6 487.5h0M245.3 485.2h0M265.6 506h0M247.2 496.4h0M245.2 489h0M267.6 503.4h0M266.9 507.4h0M248.6 504.7h0M255.4 509.7h0M247.3 505.8h0M263.5 498.2h0M258.3 479.9h0M264.5 500.1h0M266.5 502.6h0M274.1 492.6h0M245.2 508.4h0M253.8 493.3h0M262.1 490.1h0M259.1 497.4h0M271.9 496.6h0M240 506.3h0M242.8 480.2h0M249.1 489h0M262.7 481.5h0M260.9 505.6h0M268.1 495.9h0M239.4 499.3h0M234 496.7h0M251.7 501h0M244.8 500.3h0M262 499.8h0M246.5 485.6h0M263.6 486.6h0M266.9 488.6h0M259 504.2h0M265 503.1h0M253.3 504.3h0M269.3 492.8h0M241.3 505.3h0M261.4 487.2h0M243.8 508.8h0M264.8 496.8h0M255.5 482.7h0M234.4 499.5h0M256.7 493.1h0M266.6 503.9h0M273.7 486.6h0M236.5 497.6h0M248.6 502.3h0M245.3 501.3h0M270.1 501.3h0M248.9 498.4h0M248.5 509.4h0M258.6 501.3h0M259.2 489.5h0M264.1 489.1h0M245.9 505.5h0M269.4 490.1h0M254.4 498.3h0M271 494.9h0M242.6 507.7h0M234.2 492.9h0M258.5 479.1h0M270.3 483h0M245.8 481h0M271.9 497.9h0M242.5 488.3h0M247 488.2h0M248.4 500.8h0M237.5 482.1h0M265.2 492.5h0M259.4 481.9h0M235.1 502.1h0M273.6 493.4h0M240.8 503.2h0M238.7 496.5h0M270 498.1h0M263.6 483.6h0M234.8 487h0M261.7 490h0M251.1 490.6h0M267.4 486.5h0M258 493.7h0M247.8 507.6h0M255.4 482.8h0M243.6 493.7h0M253.9 493h0M247.6 506.7h0M249.3 496.2h0M265.2 500.7h0M276.4 493h0M235.8 497.9h0M245.8 488h0M232.9 495.5h0M248.6 503.8h0M246.4 488.4h0M236.4 495.9h0M238.2 491.5h0M256 499.5h0M266.8 503.8h0M255 502.8h0M269.9 491h0M253.9 499.7h0M255 508h0M249.9 493h0M248 493.2h0M255.5 505.8h0M252.8 504.9h0M270.9 492.1h0M261.1 506.9h0M249.3 493h0M272.5 497.9h0M250.5 491.2h0M233.4 490.6h0M263.2 492.9h0M235.1 491h0M245.3 494.7h0M274.5 497.1h0M242.9 503.9h0M242.4 485.2h0M259.9 486.5h0M252.8 493.7h0M258 499.7h0M256.6 491.6h0M242 504.3h0M271.6 494.4h0M258.9 502h0M263.5 486.8h0M235 497.7h0M251.7 504.5h0M258.9 509.1h0M236.6 503.7h0M266.6 489.1h0M250.4 494.8h0M266.4 494.4h0M264.8 502.3h0M268.1 498.8h0M258.2 494.1h0M253 508.8h0M244.2 504.4h0M244.7 507.5h0M253.7 497.5h0M238.5 486.5h0M250 510.6h0M253.5 506.1h0M258.4 504.5h0M258.6 483.7h0M244 492h0M241.4 483h0M235.1 493.9h0M257.9 483.5h0M252.6 493.2h0M263.1 480.8h0M272.9 491.5h0M263.7 508.6h0M234.6 485.5h0M239 496.4h0M267.9 501.9h0M253.6 478.1h0M272.8 498.4h0M267.4 491.6h0M270.8 498.1h0M261 481.3h0M246.1 488.7h0M249.3 503.2h0M255 491h0M245.3 502.1h0M258.3 509.4h0M239.3 497.6h0M269.6 496.5h0M252.3 489h0M235.9 503.9h0M246.4 491.5h0M243.9 479.8h0M255.3 484h0M247.2 489.2h0M266.9 495.8h0M258.5 480.2h0M255.3 498.5h0M267.6 500.3h0M240.1 500.1h0M241.7 499.6h0M262.5 502h0M241.7 507.7h0M247.6 481.9h0M238.6 488.3h0M260.5 509.2h0M251.9 505.8h0M274.9 491.1h0M243.1 483.9h0M263.6 487.3h0M241.1 502.8h0M249.1 493.2h0M234 496.8h0M241.6 487.6h0M246.9 510h0M267 488.2h0M252.9 502.7h0M243.8 501.8h0M265.7 499h0M268.8 497.9h0M259.5 485h0M253.2 485.8h0M247.5 488.4h0M247.6 484.4h0M256.8 501.1h0M260.6 497.8h0M265.2 507.2h0M273.9 488.4h0M254 489h0M238.1 498.3h0M241.1 487.8h0M258.1 489.7h0M259.4 490.9h0M256.6 487.5h0M261.5 495.5h0M264.8 489.4h0M260.1 505.1h0M270.1 486.3h0M257.7 492.2h0M257.1 483.2h0M243.3 502h0M268.8 496.1h0M247.1 487.9h0M248.6 493.3h0M268.9 503.5h0M233.5 497.4h0M251.8 481h0M269.1 495.5h0M252.4 503.1h0M232.4 497.8h0M245.9 479.5h0M266.1 484.1h0M243 503.2h0M256.7 499.5h0M269.5 497.2h0M248.3 482.7h0M238 486.6h0M275.4 488.8h0M241.7 499.3h0M246.3 491.5h0M252 479.8h0M260.8 490.6h0M246.2 498.9h0M276.4 496.7h0M264.9 500.2h0M269.3 493.9h0M253.5 502h0M241.5 500.2h0M243.1 488.1h0M240.8 483.8h0M255.8 502h0M267.4 493.2h0M241.2 494.2h0M260.4 496.5h0M271.7 503.9h0M247.4 486.9h0M260.6 495.3h0M248.6 483.3h0M254.4 482.3h0M269.6 485.6h0M234.4 491.5h0M245 503.5h0M248.7 507.8h0M251.5 494.1h0M253.2 497.2h0M275.9 492h0M246.5 492.9h0M244.1 499.2h0M264.7 501.9h0M238.9 494.6h0M248.5 481.9h0M264.9 482.1h0M263 485.8h0M260.5 493.9h0M264.8 504.9h0M252.2 481.7h0M245.7 504.1h0M243.7 497.6h0M251.8 480.3h0M256.9 484.8h0M249.3 492.5h0M248.6 491.6h0M273.7 491.8h0M253.6 482.5h0M243.7 496.3h0M240.7 505h0M236.4 503.9h0M266.3 502h0M262.9 481.8h0M273.5 502.9h0M241 497.7h0M257.6 496.9h0M249.6 478.6h0M248.2 503.9h0M251 490.5h0M263 494.5h0M271.4 489.4h0M260.6 505.9h0M266.7 501.7h0M254.6 482.2h0M274.4 488h0M268.9 488h0M249.1 488.5h0M258.3 482.6h0M267 486h0M249.5 498.8h0M253.6 509.2h0M258.5 491.7h0M249.6 509.2h0M246.4 497.3h0M242.7 502.1h0M261.2 490.8h0M264.2 500.8h0M269.3 491.9h0M233 496.7h0M238.1 499.1h0M271.6 485.3h0M243.5 487.3h0M263.9 485.7h0M236 487.8h0M242.1 484.2h0M260.9 503.6h0M265.8 486.8h0M255 487.4h0M243.7 478h0M247 481.4h0M242.1 477.9h0M240.3 483.7h0M242.9 479.5h0M243.2 480h0M245.4 478.1h0M244.3 478.8h0M248.3 479.6h0M249.4 479.2h0M242.4 477.7h0M240.2 480.3h0M240.4 482.1h0M245.2 480.8h0M243.5 483.2h0M240.1 481.9h0M244.9 479.4h0M246.7 479h0M244.9 479.6h0M249.4 481.3h0M245 481.3h0M239.8 481.2h0M248 478.5h0M250 483.1h0M246.1 479.7h0" stroke="#b15928" stroke-width="2.7" stroke-linecap="round" fill="none"/>
<path d="M226.3 452.1h0M223.5 449.7h0M229.4 447.8h0M230.8 446h0M231.6 438.2h0M226.3 450.3h0M231 457.6h0M224.2 448.6h0M227.5 454.4h0M238.3 443.3h0M229.1 452.2h0M231.7 441.7h0M229 452.6h0M230.6 437.2h0M225.6 449.3h0M231.1 444.5h0M231 458.2h0M238.6 444.4h0M236.8 444.2h0M228.4 449.3h0M232.3 440.1h0M221.9 449.6h0M232.5 448.5h0M230.6 444h0M229.7 440.3h0M234.5 437.9h0M237.2 447.5h0M229.8 435.6h0M232.8 450.5h0M227.3 456.5h0M231.4 441.1h0M229.3 457.6h0M233.3 454.9h0M230.4 459.5h0M223.3 447.7h0M233.5 456.9h0M230.8 441.2h0M224.5 444.9h0M231.5 454.6h0M234.9 444.1h0M234.6 442.5h0M231 452.5h0M231 458.2h0M239.2 448.3h0M226.7 452h0M225.8 452.6h0M227.9 444.2h0M227.3 451.6h0M228.7 451h0M227 450.9h0M238.7 446.6h0M233.4 451.5h0M228.9 450.4h0M229.4 455.9h0M232.4 443.2h0M235.6 447.2h0M234.6 444.4h0M233 453.6h0M234.5 438.6h0M226.6 455.6h0M232.6 450.6h0M232.3 454.2h0M227.4 449h0M230.9 457.4h0M223.5 443.5h0M231.5 444.5h0M230.1 439.9h0M229.7 457.7h0M222.9 446h0M227 446.4h0M232.4 457.9h0M228.3 447.9h0M226.6 444.2h0M229 447.3h0M233.3 444.2h0M221.8 449.3h0M234.6 440.9h0M235.5 440.7h0M232.2 455.6h0M232.2 435.9h0M229.1 449.6h0M227.4 448.8h0M229.1 440.2h0M227.7 456.8h0M229.8 437.6h0M231.1 443.7h0M230.9 446.8h0M234.9 436.7h0M232.4 456.2h0M232.4 456.2h0M227.2 446.6h0M227.6 447.5h0M233.6 436.9h0M232.9 436.2h0M230.3 446.1h0M229.9 449h0M234.2 439.8h0M228.8 456h0M227.9 454.3h0M226 449.2h0M226.2 449.9h0M229.7 444.4h0M233.5 445.8h0M234.1 438.9h0M230.9 439.9h0M234 456.1h0M227 441.4h0" stroke="#a6cee3" stroke-width="2.7" stroke-linecap="round" fill="none"/>
<path d="M193.5 433.8h0M205.4 442.5h0M205.1 441.7h0M199.5 437.2h0M194.2 438.4h0M204.8 436.3h0M205 437.1h0M198 437.8h0M197.6 438.3h0M201.2 442.6h0M201.8 441.9h0M197.7 434.6h0M200.4 436.9h0M197.4 436.8h0M207 443.5h0M205.6 439.3h0M193.4 434.4h0M202.8 440.1h0M202.3 442.3h0M194.5 438.5h0M195.2 433.3h0M204.5 437.8h0M198.7 438.6h0M205.5 439.1h0M208 443.2h0M195.7 435.6h0M203.6 435.1h0M197.8 434.1h0M205.7 440.1h0M198 438.6h0M198.9 440.6h0M201 436.5h0M196.3 439.9h0M194.2 436.1h0M206.9 441h0M199.8 436.7h0M205.1 435.3h0M199.7 436.9h0M200.3 442.1h0M207.1 440.9h0M199.6 433.4h0M197.4 439h0M199.4 434.1h0M190.9 433.4h0M206.6 440.7h0M191.6 434.7h0M198.4 435h0M198.8 437.3h0M195.8 441h0M200.1 436h0M206.3 439.9h0M204 439.7h0M192.9 434.8h0M203.5 438.7h0M203 436.2h0M201.9 438.5h0M206.5 442.9h0M216.1 441.8h0M233.8 517.3h0M228.3 516.4h0M232.8 518.8h0" stroke="#b2df8a" stroke-width="2.7" stroke-linecap="round" fill="none"/>
<path d="M156.4 420.4h0M159.3 418.6h0M158.2 418.9h0M159.7 421.4h0M155.3 424.2h0M159.2 421.2h0M159.2 421.7h0M157.4 420.6h0M159.3 421h0M160.6 421.3h0M160.7 418.6h0M160.6 420.6h0M160.9 421.1h0M156.4 418.3h0M159.7 424.6h0M162.1 421.9h0M161.4 422.3h0M160.2 418.5h0M157.2 421h0M157 421.5h0M160.5 420h0M155.8 420h0M159.1 421.6h0M159.6 420.1h0M158 421.6h0M161.3 422.1h0M160.2 422.9h0M160.9 423.2h0M160.8 420.9h0M162.7 418.9h0M160.6 421.8h0M155.8 422.8h0M158 421.4h0M161.6 422.6h0M160.5 419.7h0M158.4 424.4h0M157.9 421.3h0M158.3 422.5h0M158.8 418.6h0M160.4 420.2h0M158.4 422.9h0M158.5 422h0M157.9 419.9h0M157.8 423h0M160.6 422.8h0M159.7 420.9h0M156.9 420.2h0M162.3 419.8h0M155.9 420.7h0M160.8 422.3h0M159.9 421.2h0M159 421.6h0M155.7 419.5h0M156.7 422h0M159.2 420.2h0M157.4 421.2h0M161.4 419.2h0M158.2 421.9h0M159.4 423.4h0M160.1 422.2h0M160.9 421.4h0M157.9 420.6h0M160.2 422.6h0M159.1 422.6h0M160.8 423.1h0M157.4 422.3h0M163 417.8h0M158.6 421.7h0M160.4 419.8h0M162.7 418.3h0M163 419.5h0M161.1 421.1h0M173.5 416.6h0M171.8 414.3h0M173 415h0M173.9 415.5h0M165.1 417.9h0M163.4 421.4h0M160.8 418.7h0M164.1 419.1h0M169 416.9h0M169.2 418h0M161.7 419.4h0M166.7 418.5h0M163.4 419.3h0M166.1 416.8h0M169.9 417.4h0M165.1 419.6h0M166.8 417.7h0M163.7 418.8h0M164.9 416.7h0M161.8 418.9h0M167.9 417.8h0M173.3 415.7h0M172.4 416.8h0M162.3 420.5h0M164.4 420.3h0M168 418h0M171.1 415.8h0M173.4 416.2h0M161.3 420.3h0M164.7 418.5h0M161.9 419.7h0M160.9 420.8h0M163.8 419.4h0M166.6 420.4h0M171.4 414.1h0M163.6 419.8h0M173.8 415.2h0M165.3 417.8h0M175 415.5h0M162.7 418.2h0M162.7 419.4h0M166.4 417.4h0M164.5 420.1h0M161.9 421.3h0M164.1 419.6h0M173.8 413.7h0M171.8 416.7h0M169.1 417.6h0M183 415.4h0M176.4 414.3h0M181.3 415h0M176.1 416.3h0M179 412.6h0M179.3 414.7h0M179.1 413.7h0M180.2 411.7h0M176 411.9h0M180.3 416.9h0M178.5 417.7h0M179.9 415.5h0M177.8 415.8h0M180.3 414.9h0M174 413.4h0M182.1 414.2h0M176 412.2h0M181 412.9h0M179.1 413.4h0M179.7 417.4h0M181.6 415.3h0M176.1 412.5h0M180.8 413.7h0M178.5 413.1h0M181.9 412h0M180 414.7h0M182.8 415.2h0M176.8 416.1h0M178.1 413.2h0M180.6 414.1h0M179.1 414.2h0M178.8 415.7h0M177.9 411.3h0M178.5 413.6h0M176.8 416.3h0M179.7 416.8h0M173.2 415.5h0M181.8 410.7h0M176.8 414.9h0M179.3 414.6h0M180.4 416.8h0M179.3 413.2h0M178.3 412.5h0M179.8 413.4h0M174.8 411.8h0M177.2 414.2h0M178.5 411.5h0M179.5 413.8h0M179.5 412.6h0M177.8 415.9h0M181 409.9h0M179.2 414h0M176.9 414.2h0M179.3 413.5h0M179.9 416.3h0M180.5 412.7h0M177.8 413.2h0M177.9 415.2h0M180.8 412.4h0M178.4 412.3h0M179.5 413.1h0M175.6 414.3h0M177.6 413.4h0M180.9 412.6h0M178.8 413.4h0M181.1 413.2h0M176 412.9h0M178.7 413.9h0M174.7 412.8h0M175.2 411h0M180.4 412.8h0M180.8 412.8h0M177.5 417.9h0M182.7 414.6h0M177.7 416.1h0M160 425.5h0M160.3 427.5h0M169.5 421.2h0M170 422.3h0" stroke="#ff0505" stroke-width="2.7" stroke-linecap="round" fill="none"/>
<path d="M219.9 577.4h0M212.2 581.2h0M212.6 585.4h0M205 584.1h0M218.7 575.9h0M211.6 582h0M219.8 578.5h0M219.9 575h0M210.1 584.5h0M217.3 585.3h0M217.7 585.2h0M216.2 582.3h0M215.7 572.9h0M213.5 588.5h0M210 581.6h0M220.1 580.2h0M218 585h0M217.9 583.3h0M205.9 584.9h0M215.9 588.1h0M219.2 577.2h0M211.2 587.2h0M212.3 577.5h0M215.8 582.1h0M211.8 590.9h0M217.3 582.3h0M217.5 577.8h0M211.4 579.9h0M211.6 580.9h0M210.7 582.3h0M216.2 584h0M205.2 581.3h0M214.2 580h0M212.3 587.8h0M217.6 578.3h0M214.2 582.1h0M214.7 580.1h0M212.7 587.8h0M215 580.1h0M215.7 576.6h0M209.4 587.3h0M221.4 580.4h0M212 588.7h0M216 585.7h0M218.6 582.6h0M204.5 581.4h0M208.7 583h0M207.1 582.6h0M214.2 579.7h0M214.9 583.7h0M218.4 582.9h0M202.3 582.8h0M219.5 579.9h0M212.3 580.4h0M221.1 579.7h0M213.8 584.3h0M207.2 582.9h0M216.2 574.4h0M220.3 579.6h0M214.8 583.5h0M214.4 580.2h0M209.4 586.9h0M209.5 583.2h0M211.4 587.4h0M212.6 588.9h0M204.9 583.5h0M216.5 582.5h0M220.2 583.8h0M214.5 574.9h0M210.6 590.4h0M213.3 579h0M220.8 577.6h0M216.3 577.4h0M218.1 577.8h0M216.6 579.1h0M219.1 578.6h0M210.8 580.9h0M220.9 579.4h0M206.2 585.2h0M214.6 587h0M207.9 582.4h0M216.3 575.1h0M212.7 581.6h0M218.7 577.3h0M214.2 584.2h0M211.1 583.8h0M215.3 579.5h0M203.6 584.3h0M210.2 582h0M211.1 588.8h0M215.4 580.8h0M209.5 585.1h0M220 581.2h0M213.8 583.7h0M205.5 583.1h0M215.3 588.9h0M208.1 585.4h0M215.1 577.2h0" stroke="#ffff00" stroke-width="2.7" stroke-linecap="round" fill="none"/>
<path d="M253.6 591.5h0M260.8 587h0M264.4 585.9h0M259.2 588.3h0M242.4 595.3h0M267.8 587.8h0M248.5 596.9h0M254.2 595.1h0M259.7 586.6h0M258.1 593.6h0M258.4 587.9h0M256.9 593h0M252.2 596.7h0M262 585.7h0M249.9 593.3h0M255 588h0M249.6 591.7h0M248.4 595.3h0M253.5 593.5h0M262.7 588.1h0M261.2 584.6h0M252.7 591.9h0M252 595h0M253.2 592.9h0M268.1 590.8h0M255 587.9h0M264.8 594.9h0M243.7 597.4h0M260.5 593.1h0M260.7 591.9h0M247.2 591.6h0M244.9 593.7h0M256.5 594.3h0M261.3 586.2h0M250.9 587.4h0M261.4 592h0M253.5 594.1h0M252.8 594.1h0M256.8 591.9h0M259.6 594.1h0M262.4 589.4h0M255.7 595.3h0M252 588.2h0M248.8 599h0M257.7 594.3h0M249 591.2h0M248.5 591.3h0M261 589.6h0M248.8 587.8h0M247.9 592.5h0M262.4 587.4h0M250.2 597.8h0M253 593.4h0M260.4 589h0M261.6 594.9h0M266.5 595.8h0M259.6 591.7h0M257.4 591.6h0M254.2 592.5h0M250.3 589.2h0M257.5 587.3h0M259.6 593.7h0M258.8 587.6h0M259.7 595.4h0M250.5 596.2h0M254.9 587.1h0M265.1 590.5h0M263.9 586.9h0M255.2 587.2h0M259.6 586.2h0M246.8 595.5h0M243.3 598.8h0M266.5 590.6h0M247.2 592.4h0M251.8 595.5h0M250.2 596.7h0M250.6 593.5h0M246.4 599.1h0M259.5 591.5h0M259.8 592.2h0M252.2 587.6h0M255 589.5h0M244.9 596.8h0M260 585.7h0M261.4 590.6h0M243.1 599.1h0M253.4 596.2h0M253.5 588.7h0M257 585.3h0M255.2 592h0M241 596.6h0M247.4 591h0M256.4 585.3h0M252.8 587.7h0M266.3 593.7h0M255.3 595.5h0M263.4 593.6h0M259.2 586.5h0M257.7 586.3h0M248.3 599.5h0M245.1 597.8h0M259.9 596h0M265.2 585.7h0M251.6 593.4h0M261.1 592.5h0M261.7 588.1h0M250.3 590.2h0M259.3 592h0M265.1 586.5h0M262.2 595.2h0M266 589.6h0M260.3 592.8h0M245.1 593.4h0M257.3 596.8h0M265 591.8h0M249.8 595.3h0M253.4 597.7h0M257.2 591.1h0M252.1 591.4h0M247.5 597.3h0M263.6 588.5h0M260.7 585.7h0M256.9 593.9h0M252.5 594.6h0M264.7 584.9h0M251.6 590.2h0M249.7 590.2h0M262.4 592.7h0M261.7 594h0M255.1 586h0M260 588.1h0M253.7 587.5h0M256.1 591.6h0M253.4 594h0M249.2 591.2h0M259.9 587.7h0M246.2 598.5h0M250.9 590.6h0M261.3 591.3h0M266.7 588.8h0M256.9 593.2h0M259.7 590.9h0M259.4 590.3h0M259 595.6h0M261.1 594h0M251.3 591.6h0M255.9 596.8h0M255.7 589.9h0M263.6 588h0M254.6 595.8h0M263.4 585.3h0M246.8 595.4h0M267 586.5h0M247 591.5h0M260.4 590.5h0M248 589.4h0M260.5 590h0M254.4 591.8h0M256.6 593.8h0M256.4 592.5h0M256.8 595.4h0M255.9 590.6h0M250.2 597.3h0M266.2 590.7h0M254.7 595.3h0M255 594.5h0M248.6 591.9h0M255 593.2h0M247.4 593.2h0M247.2 593.6h0M281.1 509.8h0M161.4 444.2h0" stroke="#ff00ff" stroke-width="2.7" stroke-linecap="round" fill="none"/>
<path d="M153.1 579.6h0M153.4 588.9h0M154.8 599h0M163.9 589.7h0M164.1 598.6h0M153.9 584.7h0M161.7 587.3h0M162.2 596.2h0M157.7 605.3h0M167.4 598.6h0M161.7 586.7h0M154.8 586.7h0M147.5 587.2h0M152.6 594.6h0M160.9 595.6h0M147.7 597.9h0M154.9 583.2h0M144.1 605.7h0M159.3 594.9h0M146.4 595.2h0M152 585.5h0M151 588.1h0M146.3 593.7h0M149.9 591.5h0M162.5 599h0M156.6 583.5h0M151.6 585.7h0M149.2 593.5h0M153 602.8h0M152.8 587.3h0M144.4 607.4h0M165.5 595.2h0M153.2 604.6h0M161.7 594.2h0M153.2 594.2h0M146.6 597.1h0M144.6 591.5h0M154.5 602.6h0M156.6 602.8h0M150.4 579.3h0M159.2 587.5h0M144 593.6h0M151.2 588.3h0M156.9 586.1h0M156.1 595.9h0M149.9 604h0M153.3 602h0M144.3 591.7h0M147.4 602.1h0M150.9 589.6h0M156 587.5h0M157.3 597.5h0M154.6 585.2h0M162.8 596.4h0M165.4 594.7h0M148 598.8h0M152.5 605.2h0M154.4 596.4h0M154.6 603.9h0M145 595.2h0M163.2 597.4h0M149 590.9h0M163.3 598.9h0M165.3 602.5h0M152.9 593.4h0M144.3 605.5h0M154.7 582.7h0M159.1 602.4h0M149.2 590.7h0M157 598.3h0M162.7 600.1h0M158.5 586.7h0M145.2 591.5h0M149.2 601.1h0M158.9 584.2h0M153.3 583.2h0M163.5 601h0M148.9 603h0M161.9 596.8h0M154.5 585.2h0M157.2 583.9h0M154.4 589.4h0M161.2 593.7h0M152.7 602.5h0M153.5 606.3h0M156.8 589.2h0M155.4 595.5h0M150.6 594.6h0M166.1 595.1h0M146.5 607.1h0M159.6 604.8h0M152.6 593.5h0M155.2 600h0M157 582.6h0M149.6 591.8h0M153.2 579.5h0M159.1 585.2h0M153.1 600.7h0M147 589.3h0M152.8 591.9h0M149.1 588.5h0M162.8 600.6h0M159.5 584.5h0M152.7 583.6h0M150.5 595h0M165.7 602h0M166.6 596.7h0M161.5 599.9h0M150.4 591.7h0M147.6 589.3h0M157.5 598.9h0M156.8 606.1h0M162.9 598.6h0M159.9 591.7h0M144.4 601.6h0M149 594.5h0M153 583.1h0M145.7 591.2h0M165.2 596.9h0M161.4 595.9h0M150.4 582.3h0M154.1 585.6h0M161.8 592.8h0M149.2 585.2h0M158.1 604.1h0M165 603.5h0M159.9 591.9h0M149.8 597.1h0M147.3 606.7h0M164 598.1h0M163.4 592.5h0M150.6 607.3h0M154.7 605.1h0M161.9 592.4h0M151.2 606.1h0M159.7 586h0M167.2 599.5h0M157.1 594.7h0M148.8 600.6h0M163.8 594.2h0M147.6 596.4h0M147.3 590.2h0M160.1 587.2h0M154.7 588.2h0M145.9 603.4h0M162.3 604.2h0M145.3 604h0M145.9 589.5h0M151.1 592.9h0M150.6 591.8h0M149.9 607.6h0M149.5 604.4h0M149.3 593h0M157 588h0M149.2 588.4h0M151 597.5h0M157.5 582.8h0M162.2 603.1h0M158.1 604.9h0M155.3 592.7h0M150 603.7h0M157.7 579.8h0M155.9 595.9h0M156.5 607.1h0M161.5 589.2h0M148.3 598.8h0M148.6 606.3h0M146.8 605h0M159.4 585.7h0M151.2 597.7h0M165 600.1h0M151.4 580.6h0M162.1 598.8h0M152.8 583.5h0M160.1 586.9h0M154.3 588.1h0M154.6 598.9h0M166.6 597h0M164.5 602.2h0M148.8 597.6h0M157.1 582.8h0M162.1 589.9h0M147.9 605.4h0M152.1 584.3h0M159.5 590.1h0M166.1 595.7h0M153.8 583.7h0M143.3 607.1h0M156.8 602.5h0M150.8 576.4h0M147.9 606.3h0M151.2 583.5h0M146.7 601.9h0M156.5 582.8h0M150.9 588.1h0M153.6 600h0M146.3 603.4h0M150.3 583.2h0M152.5 589.3h0M163 601h0M153.5 606.1h0M152.3 605.9h0M151.9 591.8h0M156 599.2h0M147.1 593.5h0M149.7 580.5h0M154.1 596.4h0M159.4 596.3h0M148.3 595h0M145.2 593.3h0M151.5 600.6h0M147 598.5h0M164 598.4h0M162.3 602.8h0M146.5 588.8h0M147.6 600.1h0M146.3 599.5h0M152.1 598h0M161.8 596.8h0M156.1 601.7h0M151.4 589.8h0M151.7 584.1h0M146.1 604.3h0M151.6 603.4h0M151.3 584.3h0M145.7 594.9h0M149.1 597.1h0M145.4 605.2h0M162.4 588.1h0M151.3 603.3h0M156.7 602.3h0M160.5 592.3h0M144.3 602.8h0M157.5 587.4h0M150.6 579.4h0M159.1 603.7h0M149.6 596.5h0M155 602.7h0M148.8 606.8h0M148.7 602.9h0M158.3 602h0M156.6 592.8h0M161.6 595.2h0M165.6 596h0M148.1 588.7h0M152.9 601.3h0M160.1 602.2h0M162.9 599.1h0M157.6 587.3h0M153.7 597.8h0M150.7 604h0M158.1 598.5h0M145 594.6h0M146.3 597.8h0M156.4 599.9h0M148.3 594.3h0M154.5 595.3h0M165.3 602.4h0M150.1 607.6h0M159.2 599h0M161.5 596h0M163.9 598.3h0M162 596.7h0M157.6 603.2h0" stroke="#00bfff" stroke-width="2.7" stroke-linecap="round" fill="none"/>
<circle cx="306.6" cy="395.3" r="5" fill="#33a02c"/>
<text x="317.6" y="399.4" font-size="12.40" letter-spacing="0.17">1 Monocyte</text>
<circle cx="306.6" cy="413.7" r="5" fill="#ff6eb9"/>
<text x="317.6" y="417.8" font-size="12.40" letter-spacing="0.17">2 Macrophage</text>
<circle cx="306.6" cy="432" r="5" fill="#ff7f00"/>
<text x="317.6" y="436.1" font-size="12.40" letter-spacing="0.17">3 M-MDSC</text>
<circle cx="306.6" cy="450.4" r="5" fill="#6a3d9a"/>
<text x="317.6" y="454.5" font-size="12.40" letter-spacing="0.17">4 Monocyte-derived DC</text>
<circle cx="306.6" cy="468.7" r="5" fill="#b15928"/>
<text x="317.6" y="472.8" font-size="12.40" letter-spacing="0.17">5 NK cell</text>
<circle cx="306.6" cy="487.1" r="5" fill="#a6cee3"/>
<text x="317.6" y="491.2" font-size="12.40" letter-spacing="0.17">6 Migratory DC</text>
<circle cx="306.6" cy="505.4" r="5" fill="#b2df8a"/>
<text x="317.6" y="509.5" font-size="12.40" letter-spacing="0.17">7 Plasmacytoid DC</text>
<circle cx="306.6" cy="523.8" r="5" fill="#ff0505"/>
<text x="317.6" y="527.9" font-size="12.40" letter-spacing="0.17">8 PMN-MDSC</text>
<circle cx="306.6" cy="542.1" r="5" fill="#fdbf6f"/>
<text x="317.6" y="547.7" font-size="12.40" letter-spacing="0.17">9 CD8<tspan dy="-3.6" font-size="7.5">+</tspan><tspan dy="3.6">&#8203;</tspan> T cell</text>
<circle cx="306.6" cy="560.5" r="5" fill="#cab2d6"/>
<text x="317.6" y="564.6" font-size="12.40" letter-spacing="0.17">10 CD4<tspan dy="-3.6" font-size="7.5">+</tspan><tspan dy="3.6">&#8203;</tspan> T cell</text>
<circle cx="306.6" cy="578.8" r="5" fill="#ffff00"/>
<text x="317.6" y="582.3" font-size="12.40" letter-spacing="0.17">11 T<tspan dy="2.2" font-size="6.5">reg</tspan><tspan dy="-2.2"> cell</tspan></text>
<circle cx="306.6" cy="597.2" r="5" fill="#ff00ff"/>
<text x="317.6" y="601.3" font-size="12.40" letter-spacing="0.17">12 B cell</text>
<circle cx="306.6" cy="615.5" r="5" fill="#00bfff"/>
<text x="317.6" y="619.6" font-size="12.40" letter-spacing="0.17">13 Erythroblast</text>
<text x="499.4" y="366.3" font-size="17" font-weight="bold" fill="#000" stroke="#000" stroke-width="0.5">e</text>
<text x="642.3" y="363" font-size="12.30" text-anchor="middle">WT</text>
<text x="854.2" y="363" font-size="12.30" text-anchor="middle">KO</text>
<path d="M544 385.5V614.3" stroke="#7c7c7c" stroke-width="1.95" fill="none"/>
<path d="M543.03 614.3H728.4" stroke="#333" stroke-width="1.25" fill="none"/>
<path d="M766.1 614.2H951.8" stroke="#111" stroke-width="1.25" fill="none"/>
<path d="M539.6 394.4H543M539.6 450.1H543M539.6 505.7H543M539.6 561.4H543M548.3 614.9V618.7M600.2 614.9V618.7M652 614.9V618.7M703.9 614.9V618.7M766.8 614.8V618.7M818.4 614.8V618.7M870 614.8V618.7M921.7 614.8V618.7" stroke="#4a4a4a" stroke-width="1.1" fill="none"/>
<text x="534.5" y="398.8" font-size="12.10" text-anchor="end">50</text>
<text x="534.5" y="454.5" font-size="12.10" text-anchor="end">25</text>
<text x="534.5" y="510.1" font-size="12.10" text-anchor="end">0</text>
<text x="534.5" y="565.8" font-size="12.10" text-anchor="end">−25</text>
<text x="547.6" y="630" font-size="12.10" text-anchor="middle">−50</text>
<text x="598.7" y="630" font-size="12.10" text-anchor="middle">−25</text>
<text x="652.4" y="630" font-size="12.10" text-anchor="middle">0</text>
<text x="703.8" y="630" font-size="12.10" text-anchor="middle">25</text>
<text x="763" y="630" font-size="12.10" text-anchor="middle">−50</text>
<text x="813.8" y="630" font-size="12.10" text-anchor="middle">−25</text>
<text x="868.4" y="630" font-size="12.10" text-anchor="middle">0</text>
<text x="920.4" y="630" font-size="12.10" text-anchor="middle">25</text>
<text x="745.2" y="646.9" font-size="12.20" text-anchor="middle"><tspan font-style="italic">t</tspan>-SNE 1</text>
<text font-size="12.30" text-anchor="middle" transform="translate(508.7 510.2) rotate(-90)"><tspan font-style="italic">t</tspan>-SNE 2</text>
<path d="M594.5 522.6h0M591.3 550.7h0M568 527.6h0M562.8 534h0M622.7 505.8h0M605.1 555.2h0M615.7 498.8h0M605.5 486.4h0M611.9 538.2h0M610.1 564.1h0M606.4 518.2h0M608.5 558.5h0M587.2 529.1h0M576.7 492h0M588.8 533.7h0M564 516.3h0M608.5 514.8h0M636.1 508.8h0M599.2 552.4h0M600.4 551.8h0M593 544.8h0M590.5 528.3h0M625.4 497.8h0M611.5 525.6h0M599.5 486.5h0M575.5 527.2h0M604.4 557.8h0M631.5 501.3h0M622.8 511.2h0M606.9 490.9h0M571.2 526.2h0M588 483.2h0M610.4 545.3h0M588.6 475.3h0M586.5 520.7h0M611.9 502.9h0M581.6 533.1h0M612.5 544.2h0M589.7 514.4h0M593.5 521.6h0M599.3 498h0M580.4 520.6h0M585.6 516.5h0M579.8 540.3h0M611.7 545.3h0M599.5 523.2h0M620 510.6h0M572.2 519.4h0M604.1 554.3h0M555.5 519.9h0M602.7 497.5h0M587.8 535.4h0M587.5 550.9h0M568.8 519h0M581.9 545.4h0M584 495.7h0M601.7 539.3h0M555.6 520.7h0M613.2 497h0M561.2 516.7h0M617.3 503.7h0M553.2 525.3h0M572.2 519.6h0M587.2 480.4h0M621.2 504h0M552.8 528.3h0M611.4 548h0M582 541.4h0M590.4 477.6h0M610.2 522.5h0M589.1 509.9h0M607.7 515h0M630.9 493.5h0M602.5 548.2h0M592.4 483h0M589.2 489h0M581.9 548.9h0M586.9 547.3h0M563.3 516.5h0M584.6 525.1h0M578.7 521.4h0M582.9 518.5h0M556.5 523.8h0M580.2 518.5h0M605.4 561.6h0M634.9 494.7h0M594 480h0M617.4 501.6h0M595.8 501.7h0M623.3 499.2h0M603.7 507.3h0M561.2 526.7h0M588.8 519.8h0M583.9 538.6h0M595.6 528.2h0M590 506.4h0M574.3 519.6h0M622.9 507h0M637.8 491.8h0M578.6 492.4h0M597.1 490.3h0M619.4 496.7h0M588.9 526.2h0M577.9 492.7h0M577.2 515.2h0M595 502.2h0M599.2 505.7h0M608 562.8h0M600 519h0M595.1 543.9h0M594.3 478.4h0M587.9 537.6h0M619.8 526.9h0M581 542.3h0M598.9 519.2h0M612 502.3h0M579.2 537.3h0M585.2 536.6h0M576.9 520.2h0M631.9 496.7h0M583.4 513.8h0M603.7 486.8h0M614.9 490.8h0M595.4 521h0M607.9 535.1h0M614.3 543.4h0M585.6 532.6h0M612.8 495.4h0M604.7 533.9h0M582 489.2h0M586.9 483h0M605.8 511.1h0M586.1 537.6h0M570.7 531.5h0M602.5 553.6h0M556 522.7h0M609 518.2h0M623 502.1h0M592.6 502.2h0M572.5 516.7h0M582.3 489.3h0M623.5 494.1h0M609.3 504h0M553.3 520.7h0M615.7 541.5h0M596.7 534.2h0M582.4 494.1h0M604.6 555.1h0M586.7 490.4h0M637.9 495.5h0M585.2 516.1h0M580 545.9h0M639.4 492.2h0M596.4 541.9h0M617.4 541.1h0M635.9 499.3h0M601.3 486.4h0M583.8 506.3h0M578 521h0M578.6 497.3h0M597.3 513.5h0M607.2 553.7h0M614.6 551.2h0M625.7 500.6h0M638.3 495.2h0M580.7 489.4h0M615.2 547.6h0M575.5 529.4h0M598.6 489.7h0M603.5 512.8h0M637.2 494.7h0M577.1 529.8h0M622.1 500h0M637.7 502.3h0M601.3 545.5h0M585.7 483.3h0M608 545h0M614.3 538.9h0M576.5 530.1h0M558.9 526.2h0M592.6 545.2h0M600 493.8h0M603.7 533h0M615.7 526.4h0M556.4 527.2h0M574.2 519.2h0M600.5 541.4h0M596.6 552.5h0M573.6 531.1h0M600.5 544.7h0M595.5 508.4h0M583.7 506.1h0M635.7 495.4h0M628.5 517.6h0M615.6 553.3h0M606 556h0M612.7 525.1h0M608 511.7h0M559 530.6h0M585.9 524.3h0M580.3 513.6h0M607.2 508.1h0M615.9 507.7h0M576.3 514.8h0M583.9 496h0M614.8 556.3h0M561.6 518.4h0M587.2 553h0M589.9 528.7h0M600.2 505.6h0M582.6 541.1h0M580.3 526.4h0M610.9 533h0M625.1 491.9h0M612.8 542.5h0M583.4 518.9h0M621 496.2h0M580 502.1h0M611 558.4h0M612.3 531.6h0M601.5 558.3h0M590.9 537.8h0M600 490.1h0M555 520h0M601.2 556.5h0M597.1 502.8h0M609.7 534.6h0M600.9 520.5h0M574.2 533.3h0M601.6 541.3h0M554.1 520.9h0M641.7 499.6h0M606.6 528.6h0M609.7 538.9h0M598.7 512h0M602.5 524.2h0M592.1 500h0M618.2 503.5h0M554.5 522.7h0M575.2 534.2h0M572.7 543h0M623.7 502.5h0M594.2 541.6h0M598.1 545.8h0M568.4 536.1h0M580.1 545.3h0M581.6 494.7h0M578.1 516.6h0M613.7 509.6h0M616.9 555.3h0M586.3 525.9h0M613.2 490.6h0M611.2 503.5h0M613.9 492.7h0M580.9 494.9h0M603.4 515.3h0M603.8 534.9h0M596.7 538.3h0M559.3 523.2h0M615.2 537.7h0M602.1 485.3h0M612 560.8h0M592.6 495.7h0M580.7 544.8h0M583.9 538.1h0M603.5 515.4h0M586.2 523.4h0M587.6 508h0M609.3 522.8h0M627.1 494.9h0M601 496.7h0M624.8 518.1h0M597.2 525.2h0M590.1 482.7h0M616.4 490.6h0M600.6 547.9h0M605.8 518.2h0M601 497.6h0M633.5 491h0M622.5 502.6h0M606.2 514.7h0M562.4 521.3h0M589.7 525.3h0M593.5 532h0M565.5 519.1h0M602.3 500.1h0M574.8 491.6h0M621 501.5h0M568.1 523.4h0M621.5 493.5h0M608.2 554.3h0M620.7 493.6h0M617.4 495.8h0M584 486.1h0M597.7 503.6h0M557.6 526.7h0M588.8 500.1h0M586.8 537.9h0M640 500.8h0M588.4 534.7h0M603.2 544.4h0M572.7 529.5h0M612.1 524.5h0M590 512.7h0M591.1 483.4h0M613.4 542h0M575.7 492.3h0M605.5 527.2h0M587.2 493.5h0M608.2 562.3h0M612.6 536.4h0M569.3 516.8h0M626.2 516.7h0M605.8 493.9h0M594.4 520.7h0M571.3 520.8h0M610.3 544.9h0M589.8 509.1h0M583.3 519.4h0M622.2 504.8h0M621 494.4h0M599.2 545.1h0M584.5 530.1h0M557.1 520.9h0M592.9 520.5h0M601.6 553.7h0M597.3 545.9h0M589.7 522.4h0M618.2 555h0M554.7 529.7h0M606.1 506.9h0M591.2 477.1h0M604.9 538.2h0M616.1 555.9h0M580.9 539.2h0M577.9 495.5h0M584.9 523.9h0M564.5 516.9h0M562.1 527.7h0M631.7 492.9h0M626.4 516.4h0M622.6 495.9h0M565.3 514.1h0M581.5 496.4h0M561.1 520.6h0M581.9 516.9h0M621.3 503.4h0M630.1 505.1h0M587 547.2h0M554.5 530.2h0M611.2 509.3h0M583.6 483.3h0M581.9 530.6h0M598.5 521.1h0M592.1 552.6h0M596.6 542h0M609.6 488.5h0M577.4 526.9h0M610.4 557.9h0M632.2 501.8h0M590.4 485.1h0M585.2 533.5h0M640.5 501.6h0M602.7 521.9h0M627.7 504.5h0M584.8 534.3h0M598.2 522.3h0M634.7 507.4h0M629 519.3h0M586 536.1h0M553.4 523.7h0M630.8 515.8h0M592.6 477.8h0M628.8 513.8h0M552.3 523.2h0M581.1 516.6h0M615.4 556.2h0M603.1 535.3h0M607.3 564.7h0M586.7 492.2h0M584.6 495.4h0M579.6 497.4h0M606.6 524.3h0M602.2 555.8h0M615.7 490h0M579.8 546h0M605.6 565.2h0M603.4 560.2h0M568.7 518.4h0M628.6 517.4h0M560.7 522.2h0M585.4 526h0M604.8 492.1h0M572.9 524.1h0M604.5 525.8h0M625.4 497.2h0M589.4 500.2h0M638.1 503.9h0M620 504.8h0M629.9 495.9h0M601.8 502.8h0M564 515.6h0M603.1 556.6h0M610.3 529.7h0M608.8 563.3h0M588.7 551.4h0M604.7 527h0M630.5 503h0M552.6 525.3h0M628.4 516.6h0M607 523.3h0M599.1 511.4h0M554.6 523.4h0M572.7 522.2h0M577.1 495.7h0M589.4 490.8h0M559.5 515.9h0M585.7 550.7h0M608.3 527.6h0M608.6 561.8h0M602.8 521.1h0M587.5 482.9h0M617.9 490.1h0M581.9 514.1h0M554.5 522.7h0M641.4 499.2h0M619.4 519.3h0M622.8 514.4h0M613.1 489.1h0M588.8 486.3h0M587.1 535.8h0M623 507.2h0M614.1 512.1h0M609.8 544.2h0M611 505.1h0M627.4 518.3h0M590.6 543.6h0M566.6 522.3h0M605.1 510.6h0M607.6 548.2h0M559.6 524.2h0M613.3 539.6h0M575.1 496.1h0M609.3 524.5h0M637.6 497.6h0M611.3 530.4h0M607 537.5h0M589.5 544.7h0M634.2 505.7h0M585.3 539.3h0M602.5 485.9h0M620.5 503.3h0M588.7 505.9h0M584.3 484.7h0M587.1 487.1h0M586 523.8h0M593.6 537.2h0M611.9 493.4h0M623.4 492h0M592.8 546.5h0M611.5 542.6h0M609.3 550.2h0M588.1 499.2h0M605.7 519.5h0M560.3 530.2h0M597.8 521.3h0M588.9 479.8h0M606 507.2h0M615.3 512.7h0M592 525.3h0M553.5 525.2h0M609.4 532.8h0M608.2 489.3h0M583 538h0M626.6 518.4h0M604.6 507.2h0M610.4 548h0M577.5 545.3h0M599.4 556.7h0M609.3 510.2h0M628 517.9h0M571 522.2h0M589.7 546.3h0M599.3 487.4h0M582 522.1h0M605.6 512.3h0M553.9 528.6h0M587.2 540h0M612.2 506h0M616.3 498.9h0M606.8 520.1h0M587 526h0M638.3 497h0M625.6 501.5h0M573.6 532.1h0M586.9 534.2h0M616.6 511.1h0M554 524.2h0M590.5 491.1h0M582.9 499.4h0M605.2 558.2h0M610.1 536.5h0M617.5 512.2h0M572.2 530.5h0M589.8 485.9h0M619.9 511.8h0M600.4 507.8h0M612.7 557.9h0M609 564.3h0M614.8 498.4h0M573.8 527.8h0M609.6 540.1h0M622.8 522.8h0M605.3 559.8h0M632.1 492.8h0M573.8 533.5h0M611.8 522.8h0M600.5 499.4h0M586.2 513.6h0M610.4 547.2h0M603.9 507.1h0M596.5 546.3h0M587.5 544.9h0M601 515.4h0M582.1 518.8h0M611.5 540.4h0M576.2 490.2h0M605.5 513.2h0M570.9 531.8h0M598.6 499h0M588.3 549.4h0M583.4 537.4h0M595.6 528.7h0M586.3 478.3h0M588.1 494.3h0M579.2 544.4h0M616.5 491.2h0M625.6 511.6h0M595.3 499.7h0M559.9 523.8h0M614.1 543.8h0M626 497.1h0M642.1 498.3h0M577.9 519.8h0M606.3 513.9h0M576.5 527.4h0M585.1 484h0M589.7 540.3h0M631.6 503.9h0M618.2 513.4h0M586.4 533.7h0M553.9 526.1h0M621.6 501.2h0M592 478.6h0M613.2 535.9h0M613.4 520h0M603.1 543.7h0M598.9 492.2h0M614.3 535.6h0M608.5 533.3h0M589.5 490.1h0M573.8 520.2h0M585 483.5h0M614.4 546.2h0M579.7 525.2h0M624.9 518.4h0M573 518.2h0M592.5 492.6h0M609.1 557.5h0M614.6 490.3h0M589.4 554h0M608.7 529.8h0M606.4 524.4h0M638.5 499h0M603.7 498.7h0M609.9 527.9h0M609.6 523.8h0M596.5 480.5h0M618.2 497.4h0M561.1 513.6h0M593.1 486.3h0M617.8 498.8h0M583.5 497h0M620.1 499.2h0M563.1 521.2h0M607.6 507.4h0M593.3 540.4h0M583.2 499.9h0M595.9 516.8h0M619.1 504.5h0M568.6 518.9h0M628 499.8h0M614.3 540.7h0M592.4 496h0M571.8 526.7h0M612.3 509.4h0M600.6 540.6h0M625.2 506.1h0M599.9 519.1h0M607 552.8h0M576.3 530.7h0M587.1 485.9h0M595.4 508.1h0M606.2 550.3h0M589.6 511.2h0M611.4 538h0M600 552.5h0M586.8 503h0M600.3 550h0M589.5 491.4h0M589 528.3h0M596.4 501.2h0M615.6 553.7h0M571.8 529.8h0M622.7 494.2h0M582.7 521.1h0M597 517h0M601.8 555.6h0M575.7 527.1h0M623.9 504.8h0M614.8 555.5h0M562.4 514.6h0M601.3 509.9h0M583 519.3h0M583.6 516.7h0M581.2 533.9h0M612.6 538.6h0M580 494.5h0M580.9 519.8h0M605.6 515.5h0M624.7 501.2h0M556.9 530.8h0M560.4 523.2h0M604.9 526.1h0M611.5 549.4h0M582.8 520.8h0M563 514.1h0M611.2 525.3h0M589.2 489.9h0M585.5 538.3h0M581.8 501.3h0M561.5 515.2h0M618.4 524.7h0M560.9 520.8h0M595.4 532.5h0M622.9 512.5h0M554.9 525.6h0M594.8 519.8h0M610.9 557.7h0M601.5 524.4h0M572.1 531.1h0M611.2 548.5h0M556.7 520.8h0M621 513.8h0M613.5 513.4h0M617.2 502.8h0M584 496.3h0M588.1 487.9h0M623.5 499.5h0M609.4 530.6h0M589.3 487h0M595 482.7h0M576.6 521.4h0M624.2 504.1h0M617 542.1h0M598.2 542.8h0M618.7 502.9h0M571.2 518.2h0M608.3 525h0M626.9 512.7h0M585.1 497.7h0M609.4 545.7h0M607.6 562h0M609.7 561.2h0M591.6 549.6h0M603.6 486.6h0M575.7 495.4h0M580.7 543.7h0M584.9 493.8h0M592.8 523.6h0M572.1 523.7h0M581.4 522.8h0M575.3 521.9h0M614.5 543.9h0M584.9 531.5h0M601.9 509.4h0M629.7 500.7h0M615.4 543.5h0M603 485h0M570.8 535.4h0M596.5 487.6h0M607 546.5h0M613.1 497.4h0M624.3 520.5h0M604 499.5h0M583.9 547.3h0M609.1 557.9h0M568.4 521h0M590.6 485h0M551.6 526.5h0M604.7 517.7h0M586.4 498.1h0M577 513.1h0M594.4 546.7h0M604.7 530h0M595 530.2h0M605.1 505.5h0M609.6 561h0M590.9 537.9h0M617.2 512.2h0M581 495.3h0M589.4 484.6h0M555.9 520.9h0M571.7 518.8h0M584.7 494.1h0M572.7 516.5h0M579.9 491.7h0M608.6 499.9h0M555.4 520h0M587.1 506.4h0M595.9 528.1h0M588.2 513.7h0M607.2 554.4h0M596.5 502.2h0M584.6 533.8h0M589.3 551.4h0M609.3 502.5h0M617.8 499.6h0M584.3 498.5h0M618.5 551h0M608 492.1h0M601.4 530.4h0M623.3 497.4h0M615.3 521.8h0M638.5 500.3h0M623.2 501.8h0M597.3 503.5h0M616.6 502.8h0M610.5 505.6h0M609.6 556h0M575.7 494.7h0M591.7 522.6h0M602.4 493.5h0M622.6 515.9h0M615 517h0M603.7 531.1h0M565.6 533.1h0M594.2 504.3h0M624.3 512.3h0M637.3 490.9h0M577.1 526.9h0M559.9 516.5h0M591.2 493.9h0M578.9 538.3h0M613.1 504.6h0M582 537.3h0M593.7 507.6h0M623.1 510.3h0M569.7 514h0M594.9 528.2h0M591.9 523.4h0M579.9 536.4h0M593.9 498.5h0M598.7 518.6h0M626 513.7h0M591.8 545.4h0M597.3 521.6h0M628.4 499.2h0M590.9 531.8h0M598.1 491.9h0M614.8 550.5h0M584.8 542.2h0M612 529.3h0M605.9 533.5h0M613.3 508.9h0M571.1 531h0M586.1 516.5h0M628.6 513.3h0M627.7 518.1h0M600.4 502.7h0M593.3 501.5h0M568.2 516.7h0M612.4 528.7h0M603.9 522h0M578.8 524.6h0M586.4 531h0M577.4 525h0M603.7 551.3h0M595.2 498.2h0M607.2 564.5h0M584.6 495.8h0M640.2 500h0M631.5 515.3h0M597.4 546.1h0M614.2 503.2h0M597.8 501h0M593.8 507.3h0M569 517.4h0M617.4 526.3h0M587.4 478.9h0M612.2 488.6h0M619.6 512.2h0M632.7 499.7h0M592.5 534.8h0M580.1 495.8h0M620 521.3h0M613.8 490.8h0M577.7 518.7h0M616.1 499.4h0M613 523.9h0M605.6 516.7h0M590 546.1h0M610 538h0M597 537.7h0M613.6 540h0M599.6 504.5h0M611.4 532.4h0M592.1 528.4h0M598.4 507.5h0M614.1 557.1h0M594.4 519.6h0M613.7 536.9h0M570.8 521.8h0M568.1 533h0M581.8 537.9h0M628.9 514.1h0M561.3 518.8h0M590.4 490.6h0M585.8 532h0M563.6 535.4h0M601.1 525.4h0M580.3 519.9h0M614.6 517.4h0M583.9 484.5h0M593.5 553.4h0M614.6 531.4h0M584.9 524.3h0M601.5 518.2h0M584.4 544.7h0M585 521.1h0M577.8 493.2h0M613.2 537.3h0M553 524.8h0M579.4 545.9h0M558.2 529.4h0M633 490h0M614.5 512.9h0M630.9 509.4h0M621.1 497h0M582 522.5h0M622.1 513.9h0M569 532.2h0M589.1 521.3h0M568.5 519.4h0M616.5 492.4h0M639.9 500.8h0M602.7 512.4h0M587.3 513.7h0M638.9 502.3h0M576.1 515.4h0M581.4 492.6h0M613.5 515.7h0M581.5 544.1h0M621.8 509.2h0M563.1 531.7h0M592.2 482.4h0M605.5 551.2h0M582.8 533h0M583.4 517.8h0M588.3 491.4h0M621 514.9h0M628.1 494.7h0M573.9 520.1h0M583.9 495.2h0M602.1 526.4h0M603.4 543.7h0M605.5 551.2h0M609.6 508.3h0M618.9 519.5h0M604.2 501.3h0M573.5 532h0M596.1 522.3h0M611.7 545.1h0M600.3 506.5h0M625.2 503.4h0M642.8 494h0M601 552.5h0M574.5 478.9h0M629.5 532.1h0M630.3 544.3h0M594.2 558.5h0M654.8 500.6h0M634.3 522.9h0M604.4 478.5h0M593.8 465.3h0M602.8 463.1h0M602.6 466.7h0M621.4 472.3h0M613.1 475.1h0M613.1 482.7h0M612.2 470.4h0M640.8 481.4h0M608.9 468.3h0M654.5 484.2h0M639.2 469.4h0M636.9 471.1h0M606.5 449.7h0M583.6 465.9h0M656.7 473h0M600.1 454.1h0M651.4 497.4h0M623.8 478.7h0M592.3 463.9h0M647.4 493.3h0M604.9 440.3h0M593.1 474.1h0M656 467.3h0M637.9 466.2h0M616.2 463.7h0M588.8 476.5h0M609.7 453.9h0M628.6 487.5h0M585.1 475.4h0M623 480.6h0M601.1 475.1h0M600.4 450.9h0M614.5 460.7h0M638.4 465.1h0M645.8 487.9h0M648.4 489.4h0M585.9 474.8h0M616.7 486.9h0M616.5 480.1h0M609.3 452.1h0M619.4 480.3h0M577.9 468.9h0M605.7 449.1h0M617.3 463.4h0M598.8 457.9h0M623.4 488.9h0M591 474.3h0M616.6 480.7h0M648 493.4h0M650.5 496.9h0M613.1 468.3h0M606.7 465.2h0M584.7 476.7h0M593.5 461h0M612.2 482.3h0M638.6 460.2h0M651.2 491.6h0M624 482.7h0M640.9 464h0M644.8 484.7h0M611.4 473.7h0M600 459.3h0M591.6 469.2h0M616.6 486.7h0M610.9 477.3h0M578.4 475.7h0M613.5 460.8h0M631.5 463.8h0M639.9 457.8h0M623.5 482.3h0M636.9 472.9h0M648.9 491.4h0M657.9 473.5h0M644.7 471.7h0M635.7 470.7h0M643.9 466.9h0M603.9 452h0M605 477.6h0M624.8 491.1h0M635 465.7h0M610.3 484.8h0M651.9 489.3h0M634.6 461.4h0M654.1 487.4h0M602.1 442.2h0M653.5 483.9h0M614.6 473.6h0M620.8 466.3h0M637.8 469.8h0M615.1 467.9h0M624.4 471.3h0M641.5 471.9h0M645.4 470h0M617.5 481.1h0M650.2 485.9h0M643.1 475.3h0M601.1 455.4h0M612.8 482.9h0M637.6 466.2h0M602.6 457.2h0M642.7 488.4h0M591.8 476.6h0M644.6 483.1h0M608.3 472.2h0M621.9 485h0M585.9 465.9h0M602.1 454.6h0M645.4 469.7h0M642.3 463.1h0M599.1 477.5h0M636.7 465.1h0M640.9 466.2h0M643.9 474.7h0M600.7 446.8h0M607.7 455h0M588.3 464.3h0M601.7 468.5h0M605.5 452.1h0M648.2 497.6h0M634.9 460.3h0M633.1 462.1h0M618.1 468.7h0M632.7 465.4h0M638.5 460.8h0M637.8 485.6h0M652.7 494.6h0M626 477.8h0M616.8 470.4h0M646.4 496.9h0M581.4 467.3h0M625.3 493.2h0M606.8 445.9h0M601 444.8h0M609.6 451.5h0M637.2 457.3h0M637.1 460.3h0M618.6 470.2h0M623.3 490.9h0M640.3 462.5h0M603.1 476.7h0M633.2 470.1h0M606.4 442.7h0M644.7 492.9h0M639.1 488.4h0M641.1 468h0M613.5 480h0M600.4 454.9h0M643 463h0M608.5 470.8h0M604.7 449.7h0M612.3 455h0M584.6 467.3h0M643.8 461.4h0M648.4 469h0M583.3 473h0M637.9 488.6h0M644.2 495.7h0M615.1 488.1h0M582 467.6h0M600.2 478.3h0M638.7 458.5h0M588.9 470.4h0M654.7 477.4h0M609 481.6h0M634.1 455.8h0M651.9 484.4h0M628.9 477.1h0M614.9 479.4h0M625 474.3h0M614.3 485.6h0M652.8 483.9h0M614.8 470h0M602.5 467.7h0M655.4 474.8h0M595.4 462.6h0M634.5 463h0M613.7 471.7h0M627 462.3h0M600.7 468.5h0M635.4 468h0M632.1 462.2h0M621.6 488.5h0M602.5 476.6h0M613 470.6h0M582.4 470.8h0M642.5 459.6h0M628.8 482h0M600.4 448.1h0M641.3 483.5h0M586.2 466.8h0M601.1 476.1h0M601 469.5h0M591.5 476.9h0M629.9 483.3h0M647.8 469.9h0M624.7 482.1h0M626.8 467.5h0M618.9 470.9h0M657.9 470.8h0M632.9 482.5h0M604.6 452.6h0M621.9 467.1h0M635.9 476h0M585.9 476.4h0M616 471.9h0M643.5 480.9h0M650.4 490.3h0M604 476.2h0M635.8 458.7h0M611.4 459.1h0M630.2 480.5h0M647.5 496.5h0M594.5 457.9h0M606.5 452.6h0M598.9 443.9h0M601.3 464.1h0M610 452.1h0M634.6 459h0M643.2 467.6h0M624.3 492.5h0M605.9 476.2h0M594.2 465.8h0M602.9 466.1h0M629.3 480.8h0M611.6 477.8h0M632.7 487.3h0M641.4 468.9h0M655.5 469.9h0M642.2 471.4h0M651.7 488.3h0M626.5 486.8h0M640.5 469.5h0M602.3 475.1h0M613.7 467.9h0M654 478.3h0M601.6 480h0M646.9 493.3h0M613.7 469.2h0M614.2 471.9h0M599.2 455.6h0M613.4 475.4h0M588.4 472.8h0M590.6 469.5h0M605.9 440.4h0M602.5 472.2h0M607.2 478.4h0M585.9 472.8h0M634.6 474.5h0M624.4 489.6h0M582.7 468.9h0M622.7 476.3h0M648.7 485.1h0M630.9 492.5h0M635.4 462.2h0M623 488.7h0M612.1 454.3h0M610.6 479.4h0M653 492.5h0M633.6 455.1h0M598.5 470.9h0M630.4 488.1h0M635.8 469h0M641.2 468.2h0M623.6 481.9h0M648.4 467h0M624.3 473.2h0M598.5 472.5h0M606.2 476.5h0M653.9 476.1h0M612.8 484.1h0M650.1 488.1h0M634.3 480.1h0M601.7 471.2h0M604.7 466.4h0M613 455.3h0M600 475h0M638.7 463.2h0M601.7 476.5h0M614.8 467.5h0M612 473.7h0M646.7 484.4h0M636.2 467.6h0M581.7 469.3h0M656.4 477.2h0M635.2 468.7h0M652 482.4h0M586.5 468.6h0M640.5 463h0M586.3 472.1h0M606.6 453.6h0M640.6 464.8h0M644.7 482.7h0M621.6 489.5h0M593.6 468.4h0M633 462.5h0M601.4 474.8h0M628.6 463.1h0M640.3 460.2h0M625.5 479.9h0M598.2 444.9h0M629 472.8h0M585.6 471.5h0M598.9 464.8h0M612 474.3h0M635.1 480.6h0M632.5 471.7h0M637.7 472.3h0M635.8 455.8h0M650.8 496.5h0M592.9 462.7h0M604.9 457.4h0M597.2 471.7h0M651.4 477.8h0M610.3 459.2h0M617.1 486.5h0M594.5 458.1h0M652.8 478.8h0M610.9 449.9h0M585.2 470.4h0M650.6 473.9h0M649 496.2h0M621.9 486h0M646.2 494.5h0M607.2 448.6h0M623.3 466.3h0M599.4 466.8h0M651.9 479.8h0M607.6 479.3h0M599.1 456.9h0M635.2 464.3h0M637.7 458.1h0M600.6 444.9h0M597.9 479.3h0M603.6 442.5h0M632 464.8h0M647 477.7h0M602.1 480.7h0M638.8 491h0M638.9 485.7h0M626.3 484.8h0M622.6 473.7h0M642.6 489.4h0M649.1 491.6h0M600.9 477.1h0M651.3 484.3h0M605.1 450h0M637.5 473.7h0M632 463.1h0M615.9 464.2h0M640.1 481h0M598.2 477h0M652 494.2h0M588.9 478.1h0M647.3 494.4h0M608.9 445.4h0M599.7 468.4h0M612.3 452.9h0M579.6 475.7h0M613.2 458.5h0M655.1 484.9h0M637.1 469h0M623.9 484.9h0M591.7 463.1h0M649 484.8h0M618 478.1h0M602.6 475.4h0M632.8 488.1h0M604.6 444.1h0M629.7 493.5h0M610 471.5h0M595.7 471.4h0M629 488.6h0M656.3 468.8h0M636.8 456.7h0M619.5 467.8h0M627.8 484h0M635.7 454.3h0M638.4 458.3h0M648.6 482.5h0M630 484.3h0M608.8 442.1h0M622.8 480.3h0M640.3 462.1h0M623.4 464.3h0M594.3 459.2h0M614.1 466.8h0M640.6 467.7h0M621.4 468.7h0M645.8 473.1h0M649.5 498.7h0M653.5 480.4h0M634.5 463.1h0M615.3 474.7h0M602.9 444.8h0M598.4 476.2h0M614.6 483.3h0M607.2 448.8h0M606.5 476.8h0M651.5 485.2h0M655.3 481.1h0M639.7 471.4h0M650.3 489.8h0M649.4 484.6h0M655.3 470h0M587.9 465.4h0M581.4 475.1h0M617 470.1h0M593.7 460.5h0M607.9 462.1h0M604.1 475.5h0M627.6 458.8h0M607.2 450.9h0M643.8 486.3h0M636.1 477.4h0M648.1 493.6h0M600.7 457h0M597 473.8h0M597.5 478h0M649.4 493.1h0M599.6 449.5h0M639.4 462h0M638 479.7h0M593.5 473.4h0M624.2 488h0M604.6 455.7h0M646.4 474.4h0M657.6 476.4h0M608 478.2h0M608.6 454.6h0M636.2 476.6h0M618.1 481.3h0M607.3 477h0M646.3 495.9h0M610 451.7h0M610.1 480.9h0M619.7 477h0M641.1 470h0M633 457h0M649.9 478.2h0M593.2 475.2h0M585.1 466.4h0M642.8 462.9h0M645.8 474.5h0M642.7 493.4h0M588.1 472.4h0M616.2 463.3h0M632.2 486.2h0M644.6 468.4h0M648.2 498.8h0M654.5 538.3h0M660.7 544.6h0M641.9 527.9h0M651.3 532.9h0M651.8 510.1h0M661.4 541.6h0M647.3 565.9h0M645 526.2h0M645.9 563.7h0M647.5 565h0M662.2 544.9h0M646.4 559.1h0M646.5 566.7h0M661.2 510.3h0M655.2 526.7h0M644.2 525.7h0M650 537.7h0M644.9 536.5h0M653.2 513.6h0M657.6 510.1h0M653.8 538.6h0M639 532.1h0M641.9 562h0M663.1 548.1h0M647.1 536.7h0M652.1 513.3h0M650.8 527.4h0M642.2 533.8h0M644 550.1h0M656.6 528.9h0M642.6 529.7h0M656.2 511.7h0M651.8 545.6h0M639.5 527.1h0M646.2 531.5h0M656 508.1h0M652.3 514.5h0M641 528.6h0M644.1 534.9h0M648.5 563.7h0M646.1 531.8h0M645.5 535.6h0M638.3 527.9h0M657.3 540h0M645.7 530.8h0M657.2 540.9h0M647.5 550.9h0M654.2 514.1h0M654.5 545h0M653.7 516.1h0M645.7 537.3h0M651.5 537.3h0M645.9 531.1h0M656.5 536.4h0M642.3 534.7h0M644.8 524.5h0M642.7 542.6h0M655.3 522.1h0M661.6 515.7h0M659.2 546.3h0M645.2 524.4h0M648.3 543h0M654.6 549.7h0M658.2 510h0M648.6 514.3h0M636.2 530.9h0M656 511.4h0M641.4 530.1h0M652.3 534.8h0M656.2 537.7h0M653.1 538.3h0M653.9 541.4h0M648.6 513.3h0M643.7 565.9h0M647.2 527.9h0M658.5 547.6h0M652.2 518.3h0M662.9 512h0M646.2 565.1h0M652.5 510.9h0M642.2 530.5h0M655.5 537.5h0M653.4 515.8h0M654.3 521.8h0M662.8 515.5h0M644.6 517.6h0M660.7 510.6h0M659.6 544.9h0M658 541.3h0M644.1 556.9h0M657.8 550.4h0M641.4 529.3h0M655.7 550.8h0M653.1 533.4h0M653.1 538h0M656.2 545.7h0M647.3 527.1h0M658.8 508.4h0M653.6 545.3h0M643.9 534.1h0M659.8 516.2h0M642.5 523.8h0M638.2 531.8h0M635.7 525.7h0M655.7 531.9h0M648.4 512.6h0M644.3 551.3h0M640 534.1h0M645.7 559h0M643.3 536.1h0M648.2 534.1h0M633.6 527h0M652 534.9h0M659.8 550.2h0M660.5 509.3h0M653 539.7h0M650.3 541h0M637 533.1h0M646.5 537.7h0M639.5 534h0M642.2 522.7h0M645.1 552.4h0M646.3 559.5h0M640.4 536.2h0M634.7 525.9h0M656.4 548.6h0M662.8 515.1h0M645.9 565.1h0M658.5 520.2h0M661.6 510.5h0M654.2 528.4h0M644.5 531.2h0M644.6 553.3h0M659.4 513.1h0M652.2 534.4h0M662.5 544.2h0M647.7 534.2h0M659.2 543.4h0M657.5 522.1h0M647.3 553.8h0M651.1 528.9h0M648.3 564.3h0M644.3 529.2h0M650.6 512.4h0M654.6 547.7h0M639.7 528.9h0M645.6 512.7h0M656.6 520.2h0M639.5 530h0M658.4 544.2h0M660 521.8h0M646.4 564h0M643.9 523.9h0M661.6 509.1h0M641.1 532.2h0M659.5 536.2h0M630.1 550.9h0M633.1 548.3h0M630.7 551.3h0M634.3 549.7h0M629.7 543.9h0M634.9 544.4h0M634.4 551h0M632 549h0M628.5 544.1h0M630.4 548.7h0M635.9 548.1h0M633.5 551.8h0M633.7 544.3h0M630.1 547.4h0M629.1 549.1h0M635.3 544.5h0M634.1 549.5h0M630.9 550.8h0M678.6 541.4h0M683.2 540.3h0M682 541.1h0M679.1 527.4h0M677.4 527h0M678.9 528.4h0M676.1 530.1h0M668.8 517.9h0M668 536.1h0M585.9 462.2h0M631.9 392.2h0M714.6 517.2h0M689.2 561.1h0M655 442.2h0M646.2 445.7h0M613.9 442.9h0M625.5 426.8h0M637.6 432.8h0M620.8 451.5h0M625.9 437.6h0M649.9 445.8h0M627.9 444.6h0M642.1 457.3h0M622.3 436.1h0M619.2 433.3h0M634.6 444.3h0M653.3 445.4h0M654 435.8h0M652.5 442.2h0M641.7 453.5h0M637.8 449.8h0M653.8 438.7h0M649.9 430.8h0M652.2 429.6h0M648.2 447h0M612.4 437h0M638.4 452.7h0M613.1 446.4h0M647.3 455h0M648.9 441.8h0M644.6 438.2h0M627 456.4h0M613.6 445.7h0M627 434.4h0M652.2 453.8h0M627.3 455.8h0M639.9 444.7h0M632.4 432h0M622.3 459.1h0M639 454.6h0M643.2 441.6h0M626 448.1h0M621 437.7h0M631.4 445.8h0M628.8 437.8h0M621.6 447.3h0M654.3 445.3h0M624.4 452.2h0M625.7 453.2h0M643.6 439.4h0M622.3 446.8h0M625.1 431.8h0M627.1 430.7h0M634.9 435.8h0M625 440.1h0M648.9 457.8h0M649.5 451.7h0M617.8 445.1h0M651.8 432h0M620.8 463.8h0M608.7 440.2h0M641.7 455.4h0M650.2 448.8h0M612.4 445.9h0M648.7 429.6h0M649.2 438.3h0M637.7 446.8h0M644.8 451.7h0M620.8 457.4h0M630.7 442.3h0M645.7 449.7h0M624.8 432.8h0M634.2 444.9h0M629.2 439.9h0M624.6 450.8h0M621.6 437.7h0M627.2 431.2h0M623.5 459.7h0M638.2 450.6h0M633.5 433.6h0M625 457.9h0M645.3 459h0M612 439h0M645.4 432.2h0M625.5 433.3h0M647.5 451.4h0M628.9 450.8h0M640.2 451.6h0M621.7 435.3h0M645 456.8h0M624.3 449.9h0M646 448.2h0M636.2 433.9h0M651.8 456.9h0M641.1 457.1h0M618.2 440.7h0M634.5 438.5h0M653.1 454.1h0M644.9 446.6h0M618.3 460.1h0M619.8 435.8h0M623 447.4h0M625.2 457.9h0M618.6 443.9h0M643.6 452.7h0M640.1 453.5h0M650.1 433.6h0M625.7 438.7h0M653 438.5h0M647.5 431h0M622.7 441.7h0M653.7 448.7h0M619.4 440.5h0M634 439.2h0M643.5 452.8h0M616.7 445.3h0M652.2 456.6h0M636.7 435.4h0M643.2 431.1h0M647.5 456.8h0M621.4 441.2h0M634.9 442.6h0M642.2 443.2h0M647.1 446.5h0M638.1 451.7h0M617.2 440.7h0M647.5 442h0M639.5 436.1h0M650.1 431.3h0M627.8 443.1h0M648 463.6h0M643.5 440.4h0M645.1 455.1h0M613.9 439.4h0M624 430.5h0M621.9 446.8h0M645.5 438.1h0M646.8 457.7h0M649.8 438.9h0M639.4 438.9h0M652.8 434.7h0M620.1 433.5h0M619.5 465.4h0M621.5 428.3h0M653.9 438.1h0M652.3 450.2h0M631.8 428.4h0M617.9 455.4h0M637.9 444.9h0M622.4 437.8h0M627.8 435.8h0M618 456.6h0M617.9 437.7h0M647.7 442h0M648.2 454.4h0M643.5 442.7h0M635.8 436.2h0M650.4 441.6h0M649.5 448.2h0M625.5 439h0M637.4 431.9h0M611.5 441.8h0M628.3 428.7h0M615.7 430.9h0M611.1 439.3h0M632.6 447.2h0M644.4 451.8h0M650.6 433.5h0M627.9 450.8h0M642.3 449.6h0M648.9 460.9h0M636.9 439.1h0M630.2 429.7h0M643.3 458h0M648.7 433.8h0M648.7 437.6h0M652.2 457.5h0M613.8 444.7h0M626.4 446.6h0M649.4 458.8h0M648.6 438.1h0M642.7 440.1h0M649.9 437.3h0M614.6 431.4h0M635.8 434.2h0M617.4 449.3h0M625.5 458.1h0M648.3 451.2h0M644.4 454.6h0M610.9 449.2h0M652.2 432.5h0M628.4 435.8h0M652.2 434.1h0M652.5 454.1h0M644.2 438.1h0M623.7 445.2h0M628.3 452.1h0M614.1 438.9h0M635.2 441.1h0M631.5 445.3h0M624.8 434h0M621.6 433.1h0M613.5 450.8h0M641.7 458.9h0M617 464.6h0M626.8 436.1h0M624 450.3h0M607.8 437.5h0M645.3 456.8h0M650.6 460.2h0M648.3 449.9h0M629.2 445.4h0M629 458.7h0M623.6 441h0M647.1 455.5h0M654.5 433.8h0M611.8 433.9h0M623.4 437.8h0M608.2 439.9h0M648 433.6h0M624.7 427.4h0M611.9 441.6h0M645.9 445.7h0M639.4 442.2h0M651.6 444h0M645.7 441.8h0M654.7 449.2h0M622.2 438.2h0M627.9 427h0M650.6 430.7h0M630.7 446.4h0M621.1 433.5h0M648.4 452.6h0M647.5 450.9h0M654.5 434.2h0M653.9 438.5h0M642.3 451.1h0M640.3 441.5h0M633.3 432.8h0M618.7 434.4h0M627 447.6h0M610.4 441.5h0M639.9 446.3h0M621.7 451.3h0M627.1 427.5h0M623.3 458.5h0M610.6 445.2h0M640.6 445h0M648.7 465h0M643.9 454.8h0M623.9 461.7h0M641.9 446.5h0M618.2 439.3h0M620 443.2h0M641.1 444h0M638.3 455h0M612.9 446.5h0M627.9 427.1h0M646 458.8h0M623.6 436.1h0M646.2 444.2h0M634.7 436.5h0M639.7 431.6h0M641.9 442.5h0M620.1 447h0M628.7 429.1h0M639.1 431.3h0M622.1 464.9h0M638.2 430.2h0M641.7 440.5h0M625.3 435.4h0M621.7 430.9h0M626.3 451.1h0M649.4 464h0M624.1 445.8h0M644 451.3h0M647.5 435.9h0M644.9 441.4h0M644.5 434.4h0M615 439.9h0M647.1 452.4h0M632.7 429.1h0M630.2 456.9h0M616.7 447h0M623.9 429.4h0M675.1 465h0M667.8 441.8h0M677.1 460.4h0M666.9 450.7h0M678.2 449.2h0M683.1 467.5h0M671.3 457.2h0M665.4 452h0M676.7 447.4h0M685.9 466.8h0M668.5 451.1h0M672 464.6h0M680.8 453.9h0M681.8 454.4h0M677.1 470.6h0M664.4 449h0M662.1 451.8h0M693.1 469.7h0M670.7 452.2h0M671.1 452.4h0M669.3 453.3h0M673.6 445.8h0M673.3 459h0M681.5 449.5h0M668.2 463.1h0M664 447.8h0M665.5 449.8h0M672.8 469.8h0M666.3 442.8h0M664.9 454.1h0M682.2 470.5h0M669.5 448h0M668.5 451.5h0M664.5 452.1h0M672 450.4h0M662.6 443.1h0M669 451h0M663 454.6h0M683.2 471.1h0M676 452.7h0M681.5 458h0M672.6 455.5h0M672.8 468h0M673.6 447.1h0M671.5 454.1h0M661.4 446.8h0M662.1 450.5h0M670.7 450.4h0M660.5 446.1h0M690.7 471.4h0M686.2 467.3h0M677.8 458.7h0M664.5 451.7h0M668.4 449.6h0M682.9 447.9h0M678.7 468h0M670.6 459.4h0M680.2 459.8h0M682.3 468.3h0M688.8 470.4h0M675.4 450h0M682.1 460.1h0M672 458.3h0M669.9 445.1h0M671.1 453.8h0M663.6 446.9h0M685.2 466.1h0M671.9 464.1h0M673.8 462h0M670 447.6h0M683.7 460.3h0M682.6 473.3h0M677.8 448.1h0M674.2 455.7h0M688.3 468.1h0M682.7 447.2h0M686.6 468.4h0M674.6 468.9h0M670.5 445h0M669.5 454.7h0M690.1 470.8h0M682.8 456.5h0M670 457.5h0M674.3 460.6h0M669.5 452.4h0M665.1 450.6h0M680.6 467h0M674 442h0M673.1 461.4h0M685.5 469h0M667 451h0M676.7 467.5h0M671.5 460.8h0M669.6 452.7h0M663.9 446h0M675.4 454.1h0M684 457.4h0M684.2 466h0M678.2 466.2h0M685.5 469.8h0M676.7 444.6h0M675 459h0M676.3 457.6h0M670.8 454.6h0M669.4 446.1h0M659.9 446h0M678.4 458.1h0M676 465.7h0M687.5 464.1h0M662 452.1h0M680.5 446.9h0M673.1 449.1h0M682.3 455h0M673.7 456.4h0M669 486.9h0M674.7 480.6h0M662.7 474.3h0M663.8 499h0M676.3 483h0M662.1 493.2h0M660.6 476.3h0M672.8 485.5h0M669.3 489.5h0M663.1 478.3h0M671.2 490h0M667.7 486.5h0M666.6 473.5h0M661.2 485.3h0M662.2 479h0M674 486.5h0M661.2 493.4h0M662.3 485.6h0M661.8 490.2h0M676.4 483.8h0M665.9 480.4h0M673 488.6h0M663.9 475.7h0M665.8 492.4h0M666.5 473.8h0M660.1 489.5h0M676 482.3h0M672.7 484.5h0M660.2 493.7h0M676.2 478.7h0M669.2 494.1h0M659.6 496.4h0M676.3 488.4h0M665.7 484.7h0M674.1 482.1h0M661.6 492.7h0M668.7 495.8h0M665.7 486.9h0M661.2 473.4h0M674.5 488.6h0M669.4 474.7h0M672.9 489.1h0M668.2 496.8h0M663.4 492.2h0M661.2 477.1h0M662.3 488.1h0M674.6 479.1h0M670.9 475.9h0M675.7 482.2h0M667 490h0M674.7 481.2h0M665 474.7h0M662.9 477.4h0M675.1 480.5h0M675.8 481.2h0M662.2 477.8h0M672 478.9h0M674.3 489h0M658 496.2h0M660.8 494.6h0M667.3 486.8h0M672.4 477.2h0M637 406h0M701.5 470.4h0M575.3 488.5h0M686.3 513.8h0M690.5 500.6h0M684.4 507.7h0M693.4 497.7h0M693.5 505.4h0M684.6 513.7h0M687.1 497.3h0M684.3 505h0M686.5 516.1h0M694.1 504.6h0M676.7 505h0M684.2 515.5h0M677.7 513.1h0M687.8 505h0M678 508.7h0M685 514.4h0M684.4 508.6h0M687.1 498.3h0M680.1 518.4h0M682.8 493.2h0M683.7 499.3h0M699.7 508.2h0M687.8 509.4h0M686.3 497.3h0M684.2 489.9h0M681.6 518.4h0M685.6 497.6h0M682 505.3h0M686.5 509.2h0M675.9 511.3h0M689.1 493.3h0M683.9 521.5h0M686.1 507.1h0M700.5 510.8h0M688.5 496.1h0M679.2 515.5h0M688 512.4h0M688.8 490.1h0M687.5 490.5h0M688.2 502.7h0M681.5 496.6h0M682.5 518.2h0M696.5 506.1h0M673.8 508.3h0M680.9 518.4h0M687.9 493.4h0M692.6 502.8h0M679.5 503.3h0M694.2 512.3h0M685.9 507.8h0M683.2 495h0M684.6 517.7h0M694.1 499.6h0M676.9 512.5h0M680.3 504.8h0M685 493.8h0M684.7 496.3h0M676.5 507.9h0M675.5 509.6h0M676.3 509.6h0M681.4 492.9h0M687.9 504.2h0M686.2 514.5h0M678 515.9h0M683.7 497.8h0M698.5 508.4h0M683.3 493h0M686 490.1h0M678.5 514.2h0M689.4 495.3h0M680.2 515.2h0M696.9 505.9h0M691.6 509h0M680.8 505.7h0M682 493.6h0M692.6 494.6h0M685.2 514h0M694.1 507.4h0M687.7 510.3h0M683.8 513.5h0M687.9 513.1h0M682.9 494.8h0M691.8 495.4h0M683 497.3h0M677.6 504.8h0M677.8 514.5h0M681 491.4h0M676.2 504h0M684 495.6h0M675.2 511.4h0M686.5 511.2h0M692 504.6h0M685.6 492.7h0M698.1 510.3h0M685 512.5h0M683.6 498.8h0M681 514.7h0M694 516.6h0M674.6 507.9h0M686.5 497h0M681 494.7h0M682 505h0M686.8 506.4h0M686.3 511.1h0M684.9 508.6h0M678.4 500.2h0M689.6 492.3h0M680.2 504.2h0M683.9 508h0M680.9 517.8h0M675.1 511.2h0M678.7 494.5h0M684.2 509.7h0M684.4 517.4h0M679.9 512.9h0M682.8 494.1h0M683.4 499h0M690.9 495.9h0M682.2 506.8h0M676.1 522.9h0M673.6 531h0M640.2 504.7h0M699.2 427.2h0M701.3 420.4h0M700.3 415.4h0M695.8 428.9h0M700.6 438.7h0M698.3 428.8h0M702 427.9h0M706.2 426.8h0M699.6 413.6h0M697.3 436.9h0M699.1 438.1h0M702.7 435.1h0M700.1 440.2h0M694.8 424h0M701.2 434.8h0M703.9 421.3h0M696.8 431.9h0M695.9 432.5h0M697.3 431.4h0M697.1 430.7h0M704.8 426.5h0M702.4 433.6h0M696.7 435.9h0M693.4 425.2h0M697.1 425.6h0M701.7 435.9h0M704.2 414.8h0M697.6 426.8h0M702.3 414.3h0M700.1 425.3h0M699.7 428.5h0M698.7 436.3h0M696.2 428.8h0M699.5 423.4h0M697.1 420.1h0M677.6 421.3h0M667.5 416.7h0M670.9 416.1h0M670.6 416.6h0M674.4 420.6h0M668.4 411h0M671.6 417h0M677.7 417.5h0M668.9 413.6h0M671 416.9h0M673.6 414.7h0M669.4 418.4h0M677.4 413.3h0M672.5 415.1h0M673 420.9h0M672.2 411.9h0M678.4 418.4h0M666.4 412.7h0M675.9 417h0M674.5 416.9h0M678.6 421.7h0M687.2 420.5h0M716.6 529.4h0M729.1 515.9h0M733.9 523.6h0M712.7 530.1h0M735.8 539.3h0M732.2 516.2h0M714.6 520.7h0M720 528.3h0M713.1 533.9h0M695 542.8h0M726.6 535.9h0M732.7 514.5h0M724.6 532.5h0M731.2 520.1h0M725.5 523.2h0M735.2 513.5h0M707.2 538.3h0M724.2 520h0M697.5 546.4h0M696.9 541.8h0M732.8 514.5h0M698.5 541.1h0M726.5 524.7h0M696.4 544.5h0M725.1 534.7h0M731.3 542.5h0M697.1 547.4h0M721.8 519h0M726.9 516.5h0M715.1 519.5h0M715.9 526.2h0M724.8 518.4h0M735.4 518.9h0M727.8 534.9h0M703 545.7h0M694.2 536.8h0M714.9 545.6h0M719 520.9h0M722.7 518.8h0M734.7 541.8h0M733.4 514.2h0M725.8 520.2h0M721.6 538h0M725.5 514.7h0M699.5 544.2h0M732 517.6h0M697.4 541.8h0M725.4 524.1h0M727.8 516.1h0M734.8 518.9h0M710.5 533.3h0M716.6 536.1h0M731.4 527.2h0M733.9 525.9h0M733.1 529.5h0M732 522.9h0M724.5 512.2h0M718.6 529.4h0M723.2 515.2h0M720.3 532.2h0M721.3 544.7h0M715.8 547.6h0M732.9 523h0M733.3 517.9h0M723.9 511.2h0M719.8 550.6h0M662.6 567.8h0M672 554.3h0M671.8 561.1h0M669.7 556h0M681.9 554.8h0M662.7 564.8h0M665.5 561h0M658.5 575.9h0M678.9 558.9h0M658.7 567.3h0M667.4 567.7h0M660.8 570.1h0M663.9 579.7h0M659.3 570.9h0M658.3 575.8h0M678.6 550h0M667.5 571.6h0M661.8 576.7h0M666 568.8h0M661.3 558.9h0M676 553.9h0M671.4 550.4h0M659.8 565.8h0M659.4 578h0M678.9 556.6h0M677.1 550.1h0M657.2 582.1h0M666.6 560h0M671.8 559.9h0M659.1 580.7h0M676.9 547.4h0M663.6 567.9h0M679.2 547.7h0M680 555.8h0M668 552h0M676.1 557.6h0M670.2 552.8h0M662 562.6h0M744.2 555.9h0M744.4 554.4h0M696.6 528h0M700.4 563.7h0M710.5 548.9h0M712 546.8h0M701 555.1h0M693.9 568.4h0M707.7 554.5h0M704.1 558.1h0M698.7 557.4h0M699.1 564.8h0M699.8 568.2h0M694.8 560.5h0M699.4 565.8h0M702.2 555.6h0M700.7 560.3h0M701.2 563.7h0M707.3 565.6h0M693.6 569.8h0M703 557.1h0M696.1 564.4h0M697.9 565.4h0M707.1 557.3h0M707.3 561.9h0M709.8 558.2h0M699.6 561.1h0M701.1 552.8h0M694.9 564.1h0M706.7 562.9h0M713.5 551.7h0M706.9 555.7h0M703.5 564.3h0M700.9 566.5h0M699.5 555.4h0M701.5 570.7h0M702.6 567.6h0M710.3 551.3h0M697.1 559.3h0M703.8 565.1h0M710.1 554.8h0M705.4 563.8h0M703.6 564.3h0M707.7 547.1h0M694.3 560.8h0M702.1 553.7h0M705.8 564.4h0M693.3 565h0M709.5 559.2h0M708.3 559h0M708.1 547.4h0M696.8 563h0M693.6 564.5h0M707.5 548.3h0M713.4 551.3h0M697.9 563.3h0M698 557.9h0M702.3 566.3h0M703 556.3h0M710 560.9h0M708.2 563.4h0M703.4 551.6h0M706.4 563.4h0M704 551.9h0M700.8 562.1h0M697.2 569.1h0M705.2 563.6h0M706.1 558.8h0M700.6 554.8h0M706 551.7h0M696.7 564h0M702.9 560h0M708.8 548.7h0M697.7 558.8h0M696.7 561.6h0M709.2 554.5h0M689.6 569.9h0M688.3 580.4h0M688.7 580.3h0M686.9 566.6h0M684.9 583.9h0M690.8 574.7h0M690.1 571.3h0M683 574.3h0M683.2 575.5h0M683.9 583.2h0M688.6 572.6h0M685.5 576.8h0M686.2 574.5h0M689.5 577.4h0M676.8 576h0M686.2 578.6h0M690.3 574.3h0M691 574h0M681.3 578.1h0M684.1 584.4h0M682.3 586.1h0M691.5 571.8h0M678.3 580.2h0M685.9 582.3h0M684.2 576.2h0M685.5 579.1h0M682.7 578.7h0M681.9 576.7h0M686.6 575.4h0M680.1 580.4h0M727.5 582.3h0M730.8 581h0M726.1 583.7h0M710.9 591.6h0M733.8 583.1h0M716.5 593.3h0M721.5 591.2h0M721 589.5h0M729.2 583.5h0M727.9 579.6h0M720.2 587.8h0M720.7 588.8h0M731.1 591.1h0M715.3 587.4h0M723.7 590.4h0M727.9 581.4h0M718.6 582.7h0M726.5 590.1h0M729 585h0M718 594.3h0M720.5 589.4h0M728.3 591.1h0M724.5 587.4h0M726.5 591.6h0M718.2 592.5h0M731.4 586.2h0M730.3 582.2h0M711.8 595.4h0M732.6 586.3h0M715.3 588.3h0M718 593.1h0M726.4 587.3h0M722.3 585.1h0M713.2 593.1h0M728.1 586.3h0M720.9 584.2h0M722.4 587.9h0M715.4 586.7h0M726.1 581.7h0M724.7 581.5h0M716.3 596.2h0M713.4 594.3h0M731.5 580.8h0M731.4 581.7h0M732.2 585.2h0M713.4 589.4h0M724.4 593.2h0M715.5 593.7h0M730 583.9h0M728.9 588.6h0M728.4 590.1h0M722.4 581.2h0M726.8 583.5h0M723.2 587.4h0M726.7 583.1h0M728 587.1h0M724 589.2h0M727.8 590h0M722.9 585.4h0M729.9 580.3h0M714.9 591.6h0M715 587.3h0M716 584.9h0M727.2 585.6h0M723.5 588.4h0M723.9 591.7h0M722 591.6h0M715.2 589.6h0M638 423.2h0M630.5 574h0M630.8 584.4h0M640.4 595.1h0M631.2 579.7h0M638.3 582.6h0M634.6 602.7h0M632 581.9h0M625.4 582.5h0M630 590.8h0M622.4 603.1h0M624.5 591.4h0M629.5 580.6h0M633.6 578.3h0M641.7 591.4h0M622.8 587.3h0M628.8 583.7h0M631.8 580.2h0M629.9 602.5h0M631.7 592.8h0M639.6 593.9h0M641.5 599.5h0M630.3 589.4h0M622.5 602.8h0M631.9 577.4h0M635.9 599.4h0M627 586.4h0M630.6 578h0M639.8 597.8h0M631.7 580.3h0M634.2 578.9h0M631.7 585h0M637.8 589.7h0M630.8 603.7h0M633.8 584.7h0M632.6 591.7h0M635.9 580.3h0M630.5 597.6h0M626.9 583.9h0M639.2 597.4h0M636.3 579.5h0M641.9 598.9h0M642.6 593.1h0M638.1 596.7h0M623.8 587h0M626.9 580.3h0M635 601.3h0M627.5 593.5h0M639.8 588.4h0M628.8 603.6h0M636.4 581.1h0M643.2 596.2h0M624 600.5h0M638.8 601.5h0M628.6 594h0M634.6 574.2h0M633 592.2h0M624.8 602.3h0M630.2 578.4h0M636.8 582.2h0M642.7 593.5h0M640.8 599.2h0M629.5 579.3h0M642.2 592h0M631.2 578.6h0M621.6 604.7h0M625.8 603.8h0M628.8 578.3h0M624.7 598.9h0M628.5 583.5h0M628 578h0M629.4 587.7h0M633.1 595.8h0M627.4 575.1h0M631.4 592.8h0M629 597.4h0M640.3 595h0M624.5 584.3h0M624.4 596.2h0M629.6 594.5h0M633.2 598.7h0M628.9 585.4h0M629.1 600.5h0M628.9 579.3h0M638.9 583.5h0M622.5 599.8h0M634.5 582.7h0M627.4 592.8h0M626.6 604.3h0M626 584.1h0M630.3 598.2h0M636.8 599.2h0M634.5 582.6h0M631 594.2h0M633.5 596.6h0M636 595.6h0M638 592.3h0M640.2 594.9h0M638.5 593.1h0M713.2 466.6h0M720.9 487.8h0M725.8 477.8h0M712.3 466.1h0M703 480.5h0M727 475.6h0M739 486.4h0M709.9 494.7h0M734.4 473.6h0M718.6 488h0M714.6 468.9h0M740.9 476.1h0M726.7 465.5h0M721.2 483h0M703.9 489.2h0M711.2 470.6h0M729.3 472.8h0M708.8 477.2h0M741.8 475.8h0M723.2 463.6h0M720.5 471.1h0M717 472.3h0M728.6 494.1h0M717.3 494.6h0M720.9 473.9h0M738.1 482h0M711.6 463.1h0M719.1 487.6h0M712.3 471.1h0M712.1 466h0M739.2 477.3h0M719.6 485.8h0M737.9 477.3h0M713.7 472.8h0M727 484.9h0M731.6 469h0M714.2 487h0M723.2 468.5h0M735.1 478.4h0M723.6 479.7h0M703.8 484.1h0M713.5 463.8h0M705.2 490.6h0M731.2 492.7h0M714.6 487.2h0M736.1 469.4h0M733.1 491.2h0M707.1 479.6h0M711.4 465.7h0M712.3 462.5h0M708.7 479.1h0M703.7 481.8h0M723.4 464.1h0M711.6 494.4h0M728 478.5h0M728 493.5h0M735.3 467h0M723.1 460.8h0M731.1 476h0M731.4 488.8h0M725.1 479.9h0M727.1 466.1h0M717.3 476.5h0M702.2 483.1h0M721.8 494h0M710.7 483.5h0M730 462.5h0M730.3 493.7h0M717.5 477.2h0M717 464.2h0M733.7 479h0M705.4 486.8h0M718.1 474.9h0M716.8 469h0M728.4 468.8h0M705.1 469h0M705.5 482h0M737 487.1h0M728.1 471.2h0M703.9 472.1h0M706.2 467h0M703.1 481h0M717.8 463.1h0M711.2 468.8h0M721.1 473.1h0M714.6 481.3h0M713.4 480.5h0M710.2 488.5h0M726.7 496.4h0M720.4 483.5h0M708.5 475.8h0M710.7 482.4h0M726.7 476.5h0M728.6 478.8h0M709.1 471.1h0M735 469.4h0M729.8 475.9h0M738.7 486.6h0M713.5 473h0M733.6 489.1h0M716.5 490.6h0M722.6 496.1h0M725.3 462.9h0M732.7 488.2h0M739.5 477.1h0M728.6 474.4h0M737.6 481.5h0M729.2 464.8h0M727.6 491.6h0M703.4 481.7h0M719.3 486.5h0M735.2 477.4h0M703.7 484.8h0M723.8 477.7h0M739.2 470.5h0M705.6 482.7h0M716.8 483.5h0M730.5 473.2h0M714.1 491.4h0M736.7 479.6h0M711.1 494h0M725.4 462.1h0M714 464.1h0M737.6 483h0M715.1 472.2h0M716.3 486.3h0M739 478h0M709.5 488.9h0M707.6 481.4h0M735.8 483.2h0M730.1 467h0M704.1 470.9h0M725 478.4h0M722.6 466.2h0M721.3 477.6h0M715.6 492.8h0M741.6 477.6h0M705 483h0M714 472h0M705.5 480.8h0M722.3 488.5h0M722.3 494.2h0M717.7 477.6h0M717.2 477.5h0M729.7 477.4h0M713.6 479.4h0M719.3 490.3h0M725.8 495.5h0M705.7 489.4h0M718.1 479.6h0M725.2 478.7h0M720.5 495.1h0M712.6 490.2h0M713 493.6h0M721.1 482.6h0M707.4 470.3h0M717.8 497.1h0M720.1 477.8h0M729.6 463.9h0M730.1 494.9h0M703.9 469.2h0M707.8 481.4h0M738.3 483.6h0M714.3 472.8h0M722.3 475.4h0M725.3 495.9h0M735.4 481.5h0M714.6 475.8h0M722.5 467.5h0M733.6 485.6h0M729 487.6h0M710.3 493.9h0M715.7 465.1h0M707.6 472.3h0M711.6 467.4h0M730 471.2h0M703.4 481.8h0M733.1 472.2h0M720.7 469.5h0M731.5 493.4h0M725.1 473.9h0M731.1 473.6h0M735.9 470.1h0M711.8 487.5h0M715.2 471.9h0M701.9 482.9h0M714.1 462.5h0M732.3 467.6h0M716.3 466.1h0M710.3 484.6h0M714.4 475.9h0M719.6 462.8h0M741.5 481.6h0M710.2 485.6h0M711.6 472.1h0M709.5 467.3h0M733.5 477.8h0M715.4 470.8h0M713.3 489.3h0M716.6 494.1h0M719.2 478.8h0M720.6 482.2h0M741.1 476.5h0M712.5 484.4h0M731 487.5h0M731.2 490.8h0M713.9 489.9h0M712.2 482.7h0M724 468.4h0M739.1 476.2h0M721 465.8h0M712.1 481.2h0M709.4 490.9h0M705.5 489.7h0M732.5 487.6h0M709.7 482.8h0M716.1 489.7h0M734.8 472h0M714.6 482.3h0M727.9 475.1h0M735.2 476.3h0M707.1 484.3h0M727.6 489.4h0M710.7 460.7h0M711.7 463.1h0M713.6 460.9h0M716.2 462.6h0M717.2 462.2h0M710.9 460.5h0M709.1 465.4h0M713.5 464h0M713.2 462.4h0M714.8 462h0M713.1 462.6h0M708.6 464.4h0M716 461.4h0M717.8 466.5h0M714.3 462.8h0" stroke="#e3e3e3" stroke-width="3.9" stroke-linecap="round" fill="none"/>
<path d="M825.2 490.3h0M808.8 550.7h0M839.6 502.4h0M840.2 505.8h0M823 486.4h0M829.4 538.2h0M813.5 541.5h0M826.1 510.2h0M827.6 564.1h0M832.1 493.6h0M797.7 536.4h0M794.2 492h0M826 514.8h0M816.7 552.4h0M792.3 519.2h0M815.4 537.7h0M805.7 541.6h0M828.6 531.5h0M826.6 547.7h0M838.3 510.8h0M793 527.2h0M837.4 496.6h0M819 532.7h0M800.7 543h0M796.5 546.8h0M850.8 499.1h0M819.1 552.3h0M827.6 547.6h0M828.6 497.1h0M813.8 522.3h0M794.3 492.7h0M845.3 517.8h0M824.4 490.9h0M827.1 564.8h0M792.8 540.4h0M811.7 539.7h0M787.1 532.1h0M820.8 540.6h0M805.5 483.2h0M827.9 545.3h0M800.7 518.4h0M802.4 517.5h0M822.3 524.8h0M786.3 525.3h0M821.2 492.9h0M799.1 533.1h0M830 544.2h0M787.5 532.5h0M824.1 496.1h0M838 498.1h0M789.7 519.4h0M814.4 516.7h0M810.8 544.7h0M820.2 497.5h0M805.3 535.4h0M805 550.9h0M801 493.2h0M786.3 519h0M818.8 489.9h0M801.5 495.7h0M786.5 517.9h0M821.1 559.5h0M815.9 503.8h0M789.8 520h0M825.6 520.6h0M837.8 524.7h0M785.4 522.3h0M808.1 538h0M789.7 519.6h0M809.7 550.9h0M770.3 528.3h0M828.9 548h0M831.9 492.8h0M798.8 492.6h0M806.6 509.9h0M837.5 504.2h0M833.5 499h0M819.8 557.8h0M826.1 508.2h0M807 516.8h0M833.3 499h0M806.7 489h0M826.5 518.3h0M860.4 495.7h0M802.1 525.1h0M796.2 521.4h0M777 521.3h0M807.6 519.3h0M816.8 544h0M826.2 525.4h0M783.8 529h0M844.4 508.6h0M798.9 540h0M813.3 501.7h0M840.8 499.2h0M821.2 507.3h0M831.6 552.6h0M816.8 493.6h0M816.7 528h0M807.5 506.4h0M792.3 529.7h0M823.5 542.3h0M796.1 492.4h0M836.9 496.7h0M791.7 531.7h0M794.7 515.2h0M797.5 498.2h0M814.5 510.7h0M817.8 493.4h0M811.8 478.4h0M830.6 516.6h0M816.4 519.2h0M794.4 520.2h0M825.1 565.6h0M789.7 540.1h0M824.2 553.4h0M801.9 498.7h0M812.9 521h0M825.4 535.1h0M795.6 492.2h0M831.8 543.4h0M785.9 532.9h0M826.4 510.5h0M814.2 510.6h0M820.8 497.3h0M802.6 489.6h0M806 526.3h0M826.3 500.9h0M833 494.3h0M834.5 495.3h0M797.4 542h0M788.2 531.5h0M811.6 514.6h0M814.2 487.1h0M826.8 504h0M848.3 499h0M827.5 557.4h0M793.5 540.1h0M782.1 523.5h0M830.5 514.1h0M792.7 537h0M804.2 490.4h0M812.5 488.9h0M820.5 489.8h0M797.5 545.9h0M809.9 553h0M810 523.6h0M823.2 557.5h0M856.9 492.2h0M853.4 499.3h0M818.8 486.4h0M795.8 528.8h0M818.1 559.8h0M817.7 500.4h0M832.1 551.2h0M809.4 531.9h0M843.2 500.6h0M816.1 489.7h0M806.8 487.4h0M828.5 533.7h0M822.5 499.1h0M822.9 497.5h0M794.6 529.8h0M822.3 499.7h0M839.6 500h0M802.8 525.8h0M834.6 497.1h0M816.1 529.3h0M818.3 498h0M818.8 545.5h0M803.2 483.3h0M784.8 523.5h0M824.1 500.3h0M811.6 522.4h0M817.5 493.8h0M821.2 533h0M791 530.4h0M807.2 526.1h0M795.4 520.3h0M773.9 527.2h0M820.9 555.4h0M825.6 562.2h0M791.7 519.2h0M818 541.4h0M804 506.9h0M791.1 531.1h0M818 544.7h0M811.7 492.1h0M817.5 537.6h0M806.2 534.1h0M828.5 517.1h0M806.9 552.8h0M848.9 506.4h0M835.1 543.3h0M802.1 542.1h0M811.4 502.9h0M809.5 480h0M818.1 482.4h0M853.6 506.7h0M821.6 492h0M826.8 494h0M815 523.9h0M796.7 529h0M801.5 543.2h0M786 519.8h0M824.4 557.3h0M835.9 501.9h0M822.3 505.8h0M824.7 508.1h0M793.8 514.8h0M801.4 496h0M808.6 548.6h0M832.3 556.3h0M826.5 496.3h0M819.7 519h0M800.1 541.1h0M818.7 554.7h0M788.9 531.3h0M828.9 561.7h0M816.5 542.1h0M829.8 531.6h0M819 558.3h0M856.1 505.2h0M807.5 516.5h0M827.8 538.4h0M808.4 537.8h0M806.5 536.7h0M777.2 521.3h0M827.2 534.6h0M824.9 506.5h0M833.6 549.8h0M795.8 520h0M791.7 533.3h0M802.2 480.5h0M803.5 503.6h0M816.4 526.8h0M818.8 530.9h0M811.8 535.4h0M813.4 553.6h0M859.2 499.6h0M816.4 516.3h0M813.9 549.5h0M851.6 504.4h0M805.7 491.2h0M802.8 551.3h0M809.3 488.3h0M805.3 524.6h0M799 523.4h0M802.1 539.2h0M825.4 496.6h0M807.2 504.4h0M799.1 494.7h0M859.2 497.8h0M855.6 504.2h0M834.4 555.3h0M802.2 520h0M842.9 492.8h0M803.8 525.9h0M831.4 492.7h0M818.1 527.5h0M810.9 543.4h0M835.5 499.7h0M815.1 491.1h0M776.8 523.2h0M816.1 486.4h0M819.6 485.3h0M828 562.6h0M786 538.8h0M798.2 544.8h0M805.5 525.2h0M794.6 525.3h0M795.4 501h0M796.9 522.6h0M833.3 524h0M844.6 494.9h0M802.5 491.5h0M818.5 496.7h0M811.6 494.3h0M820 557.9h0M787.2 533.9h0M803.4 478.7h0M807.6 482.7h0M818.1 547.9h0M834.3 498.4h0M821.7 488.7h0M790.2 517.7h0M829.6 563.7h0M814.4 520.5h0M806.6 513.1h0M805.8 476h0M829.4 563.1h0M832.2 507.7h0M807.2 525.3h0M792.3 491.6h0M839 493.5h0M818.5 519h0M839.1 513h0M806.3 500.1h0M832.6 543.2h0M860.2 493.6h0M820.7 544.4h0M819.2 529.9h0M841 508h0M834.2 542.8h0M799.7 489h0M824.1 502.4h0M847.1 494.9h0M798.8 516h0M834.8 543.2h0M826 519.7h0M783.7 521.2h0M848 505.8h0M823 527.2h0M812.4 535.6h0M802.8 489.2h0M820.1 544h0M837.3 499.3h0M823.7 558.4h0M779.8 518.9h0M848.5 505.2h0M811.9 520.7h0M788.8 520.8h0M807.3 509.1h0M778.9 523.1h0M838.5 514.7h0M839 514.8h0M807.7 506h0M840 513.9h0M822.6 487.9h0M838.5 494.4h0M811.4 515.8h0M790.3 522.2h0M854.9 510.1h0M848.6 514.8h0M794.3 495.6h0M814.8 545.9h0M854.6 495.9h0M807.2 522.4h0M839.9 498.9h0M772.2 529.7h0M841.6 498.2h0M831.2 553.6h0M840.8 494.6h0M824.4 539.4h0M822.4 538.2h0M825 502.7h0M798.4 539.2h0M795.4 495.5h0M802.5 497.8h0M843.7 497.4h0M826.2 554.2h0M840.1 495.9h0M782.8 514.1h0M845.9 503.7h0M824.8 490.1h0M772 530.2h0M828.7 509.3h0M809.6 552.6h0M793.7 534.1h0M827.1 488.5h0M794.9 526.9h0M833 497.9h0M817.1 494h0M849.7 501.8h0M802.7 533.5h0M858 501.6h0M782.8 525h0M845.2 504.5h0M802.3 534.3h0M815.7 522.3h0M846.5 519.3h0M788.3 530.2h0M844.5 516.1h0M818.3 537.7h0M856.8 502.3h0M843.1 520.1h0M804.8 536.7h0M791.8 536.4h0M827.3 538.2h0M797.5 532h0M805.7 486.8h0M831.2 506.3h0M822.4 511.1h0M820.6 535.3h0M824.8 564.7h0M801.9 489.7h0M804.2 492.2h0M802.1 495.4h0M807.9 540.9h0M797.1 497.4h0M824.1 524.3h0M819.7 555.8h0M821.1 498.1h0M797.5 524.6h0M797.3 546h0M823.1 565.2h0M798.3 523.7h0M840.1 509.4h0M809.9 515.1h0M802.9 526h0M807.9 499.3h0M801.1 486.5h0M805.4 506.5h0M790.4 524.1h0M809.3 489.3h0M843.9 498.4h0M797.6 524.7h0M837.5 504.8h0M805.6 528.3h0M801.9 490.5h0M827.8 529.7h0M790.7 519.1h0M822.2 527h0M798 519.7h0M791.4 534.4h0M802.8 544.8h0M848 503h0M770.1 525.3h0M834.9 492.7h0M794.3 520.6h0M812.8 535.4h0M772.1 523.4h0M790.2 522.2h0M804.6 479.5h0M806.9 490.8h0M816.8 518.9h0M810.7 545.1h0M826.1 561.8h0M849.6 500.3h0M805 482.9h0M799.4 514.1h0M804.1 519.7h0M820 559.4h0M775.8 520.8h0M854.5 491.3h0M779.5 521h0M815.4 497.2h0M818 505.2h0M820.7 525.3h0M822.3 524.7h0M812.3 546h0M834.9 505.5h0M799.2 524.9h0M800.4 539h0M807 504.3h0M816.4 539.4h0M808.2 490.2h0M835.5 505.5h0M831.6 549.4h0M797 531.7h0M808.1 543.6h0M820.5 538.1h0M792.6 496.1h0M829.5 497.5h0M855.1 497.6h0M819.8 542.9h0M817.9 530.2h0M828.8 530.4h0M824.5 537.5h0M823.6 559.4h0M851.7 505.7h0M802.8 539.3h0M820 485.9h0M801.8 484.7h0M828 517h0M826.6 528.5h0M804.6 487.1h0M840.9 492h0M821 534h0M823.2 519.5h0M853.1 492.2h0M840 511.9h0M829.3 538.7h0M823.5 507.2h0M806.6 509.9h0M826.9 532.8h0M806 553.7h0M824.6 543.6h0M825.7 489.3h0M822.1 507.2h0M821.4 523.9h0M840.5 499.8h0M826.8 510.2h0M816.2 542.4h0M806.7 516.2h0M788.5 522.2h0M816.8 487.4h0M858.9 499.9h0M830.5 532.8h0M810.4 516h0M833.8 498.9h0M836.3 507.8h0M824.3 520.1h0M785.9 529.8h0M855.8 497h0M832.9 498.9h0M804.4 534.2h0M834.1 511.1h0M844.3 505.4h0M823.4 489.7h0M814.7 518.2h0M787.6 523.5h0M774.7 528.3h0M808 491.1h0M811.6 502.5h0M822.7 558.2h0M788 538.2h0M798.6 492h0M827.5 516.6h0M804.9 501.1h0M846.8 495.4h0M827.8 496.8h0M838.4 513.2h0M807.3 485.9h0M830.8 488.9h0M817.9 507.8h0M829.8 487.1h0M843.4 508.6h0M788.6 537.2h0M825.4 492.8h0M841.1 522.3h0M827.9 547.2h0M807.4 478.9h0M814.4 554.5h0M801.1 542.8h0M816.7 524.7h0M805 544.9h0M835.6 503.5h0M818.5 495.1h0M801.2 549.1h0M859 493.3h0M803.8 478.3h0M805.6 494.3h0M813 520.7h0M834 491.2h0M812.8 499.7h0M816.5 539.5h0M819.1 524.1h0M811.2 527.2h0M823.1 498.6h0M806.4 503.5h0M834.2 498.4h0M802.6 484h0M807.2 540.3h0M849.1 503.9h0M824.6 488.9h0M817.2 552.2h0M797.7 537h0M800.6 515.8h0M806.2 552h0M801.8 482.2h0M817.5 525.4h0M852.5 508h0M813.6 481.7h0M813.1 522.6h0M820.6 543.7h0M802.2 536h0M797.5 545.2h0M816.4 492.2h0M831.8 535.6h0M812 489h0M826 533.3h0M808.2 512.7h0M815.4 507.5h0M791.3 520.2h0M819.4 527.3h0M807.2 541.8h0M802.5 483.5h0M859.4 495.5h0M820.9 506.6h0M810 492.6h0M809.1 483.5h0M813.2 487.6h0M832.1 490.3h0M806.9 554h0M824.4 558.1h0M826.2 529.8h0M835.4 497.1h0M830.1 565.1h0M821.4 494.6h0M802.6 492.4h0M778.6 513.6h0M810.6 486.3h0M821.1 560.6h0M826.9 562.8h0M859 492h0M795.2 524h0M780.6 521.2h0M799.9 543.7h0M825.1 507.4h0M789.3 532.8h0M799.1 516.1h0M813.4 516.8h0M836.6 504.5h0M809 494h0M845.5 499.8h0M818.1 540.6h0M842.7 506.1h0M822.2 504.4h0M830.5 497.9h0M842.7 499.7h0M793.8 530.7h0M823.7 550.3h0M806.5 491.8h0M828.9 538h0M807 492.8h0M804.3 503h0M817.8 550h0M830.8 513.5h0M841.7 517.3h0M833.1 553.7h0M840.2 494.2h0M814.5 517h0M841.4 504.8h0M844.4 504.5h0M823.8 491.6h0M810 478.9h0M800.5 519.3h0M812.1 491.5h0M830.1 538.6h0M820.7 493.8h0M798.4 519.8h0M837.7 499.6h0M842.2 501.2h0M774.4 530.8h0M817 553.3h0M795.3 490.7h0M822.4 526.1h0M820.4 493.9h0M829 549.4h0M778 515h0M800.3 520.8h0M797.5 533.8h0M830.2 498.8h0M819.7 559.9h0M803 538.3h0M799.3 501.3h0M779 515.2h0M840.4 512.5h0M787.6 521.6h0M819 524.4h0M833.2 527.2h0M810.8 534.6h0M810.5 489.5h0M780.9 516.6h0M798.4 545.7h0M842 512.7h0M828.7 548.5h0M837.6 498.2h0M774.2 520.8h0M838.5 513.8h0M834.7 502.8h0M805.6 505.4h0M841.2 500.2h0M847.5 491.3h0M801.5 496.3h0M829.2 497.3h0M805.6 487.9h0M794.8 531h0M826.9 530.6h0M794.1 521.4h0M788.7 518.7h0M841.7 504.1h0M809.9 536.1h0M787.2 512.4h0M847.8 518h0M802.9 492.2h0M830.1 542.9h0M788.7 518.2h0M818.1 512.5h0M844.4 512.7h0M805.5 504.4h0M826.9 545.7h0M825.9 488h0M822.5 484.9h0M782.1 524.9h0M825.3 492.9h0M830.4 550.6h0M801 499h0M793.2 495.4h0M801.3 495.2h0M810.3 523.6h0M818 558.4h0M811.6 479.3h0M859.2 494.4h0M819.4 509.4h0M813.5 537.3h0M794 538.3h0M788.3 535.4h0M825.2 538.3h0M842.6 498.4h0M814 487.6h0M795.1 525.8h0M834.7 498.3h0M821.5 499.5h0M812.3 493h0M843.6 511h0M801.4 547.3h0M847.2 517.6h0M814 527.9h0M782.3 526.9h0M808.1 485h0M769.1 526.5h0M778.2 514.6h0M795.3 523h0M836.7 496.3h0M850.5 500.3h0M857.7 493.3h0M834.7 512.2h0M839.7 521.4h0M845.1 508.5h0M802.2 494.1h0M826.1 499.9h0M772.9 520h0M813.4 528.1h0M802.1 533.8h0M779.5 527.9h0M834 508.4h0M785.8 528.1h0M831.5 537.4h0M806.8 551.4h0M796.5 489.9h0M805.8 478.9h0M836 551h0M789.1 521.9h0M836.9 520.8h0M838.4 519.8h0M794.2 521.8h0M826 496.6h0M822.3 507.1h0M840.2 503.7h0M834.1 502.8h0M832.2 548.9h0M809.2 522.6h0M799 542.5h0M798.4 527h0M801.5 525.3h0M841.8 512.3h0M854.8 490.9h0M794.6 526.9h0M785.3 525.1h0M835.4 493.8h0M813 494.8h0M846.2 511.8h0M812.4 528.2h0M810.2 544.2h0M791.7 527.6h0M811.4 498.5h0M848.6 504.4h0M816.2 518.6h0M843.5 513.7h0M849.2 500.1h0M779.5 525.6h0M808.4 531.8h0M774.7 525.2h0M846.2 511.8h0M808.2 480.1h0M823.7 485.8h0M852.3 505.2h0M806.8 483.5h0M838 499.5h0M829.5 529.3h0M839 502.8h0M820.9 505.5h0M823.4 533.5h0M830.8 508.9h0M828.4 514h0M788.6 531h0M810.1 481h0M810.8 501.5h0M776.5 531h0M825.4 524.7h0M829.9 528.7h0M815.7 551.3h0M819.4 512.6h0M788 531.5h0M838.2 515.1h0M820.8 527.9h0M821.4 522h0M788.5 532.4h0M787.4 524.2h0M783.5 527.9h0M785.5 536.8h0M827.9 512.2h0M849 515.3h0M814.9 546.1h0M790.6 537.5h0M820.7 542.2h0M842.5 516.9h0M803.8 487.1h0M826.2 510.2h0M841 505.3h0M840.4 493.7h0M850.2 499.7h0M799.7 495.8h0M842.7 510.5h0M830.4 509.7h0M802.9 492.6h0M833.6 499.4h0M838.4 493.9h0M778.5 521h0M833.7 558h0M817.1 504.5h0M809.3 549h0M814.9 553h0M810.7 504.3h0M785.3 514.3h0M831.6 557.1h0M806.9 490.9h0M805.2 536.8h0M831.2 536.9h0M788.3 521.8h0M785.6 533h0M799.3 537.9h0M825.1 552.3h0M828 514.3h0M807.9 490.6h0M829.9 526.7h0M796.6 500h0M811.3 538.7h0M852.5 495.1h0M829.5 546.4h0M788.2 536.5h0M829 548.9h0M832.1 531.4h0M822.2 559.2h0M825.7 531.5h0M799.5 495.8h0M801.9 544.7h0M795.3 493.2h0M850.9 507.3h0M780.4 521.1h0M850.5 490h0M823.1 502.1h0M807.7 509.6h0M807.1 535.9h0M838.2 495.6h0M813.3 512.2h0M855.2 490.6h0M808.9 492.1h0M826.8 493.1h0M839.6 513.9h0M790 534.3h0M786.5 532.2h0M803.7 477.7h0M786 519.4h0M830 531.2h0M799.4 549.7h0M817.1 518.2h0M821.7 544.9h0M854.8 502.9h0M824.3 542.6h0M798.9 492.6h0M797.6 521.8h0M799 544.1h0M839.3 509.2h0M809.7 482.4h0M847.8 509.5h0M780.1 528.3h0M800.3 533h0M799.7 491.1h0M808.1 534.5h0M845.6 494.7h0M791.4 520.1h0M851.9 512.4h0M819.6 526.4h0M820.9 543.7h0M830.7 515.5h0M823 551.2h0M827.1 508.3h0M836.4 519.5h0M776.5 519.2h0M813.6 522.3h0M798.4 536.1h0M821.6 493.9h0M815.8 537.6h0M835.5 494h0M808.1 478.5h0M818.5 552.5h0M792 478.9h0M847 532.1h0M847.8 544.3h0M872.3 500.6h0M832.7 457.8h0M832.8 488.4h0M820.1 466.7h0M838.9 472.3h0M826.4 468.3h0M872 484.2h0M834.2 482.9h0M822.9 450.6h0M831.2 457.8h0M874.2 473h0M868.9 497.4h0M841.3 478.7h0M809.8 463.9h0M864.9 493.3h0M835.4 480.9h0M820.3 469.9h0M827.9 449.8h0M855.4 466.2h0M854.5 457.9h0M835.9 481.7h0M816 464h0M799.2 468.6h0M827.2 453.9h0M846.1 487.5h0M819.4 452.1h0M852.2 459.2h0M852.9 469.8h0M841.8 492h0M802.6 475.4h0M859.3 486.2h0M840.5 480.6h0M838.4 482.7h0M827.7 451.9h0M817.9 450.9h0M815.9 452.8h0M825.3 451.2h0M858.4 488.6h0M823.2 449.3h0M821.7 451.7h0M813.5 467.7h0M829.7 452.6h0M832.5 456.9h0M830.9 462.5h0M798.1 474.8h0M835.7 466.5h0M834 480.1h0M856.9 469.2h0M864.8 495.4h0M836.9 480.3h0M821.3 450.3h0M801.2 475.3h0M823.2 449.1h0M834.8 463.4h0M816.3 457.9h0M824.2 443.7h0M840.9 488.9h0M833.2 469.5h0M840.7 469.3h0M872.9 468.8h0M865.5 493.4h0M840 465.9h0M868 496.9h0M830.6 468.3h0M824.2 465.2h0M816 452.9h0M802.2 476.7h0M808.1 478.6h0M843.7 480.7h0M811 461h0M859.7 470.5h0M868.8 487.4h0M864.6 485.1h0M828.2 452.1h0M868.7 491.6h0M841.5 482.7h0M802.4 474.8h0M843.4 493h0M834.1 486.7h0M831 460.8h0M826.6 471.5h0M843.3 465.5h0M854.4 472.9h0M821.4 452h0M870.2 485.6h0M827.8 484.8h0M802.6 466h0M818.6 461.8h0M871 485.8h0M825.2 442.3h0M867.1 481.9h0M860.5 480h0M849.6 476.9h0M851.5 487.6h0M832.6 467.9h0M796.7 474.7h0M841.9 471.3h0M819.2 471.8h0M862.9 470h0M826.1 443.2h0M858.1 467h0M871.8 468.1h0M824.2 443.7h0M867.4 484.8h0M860.2 460.4h0M867.7 485.9h0M830.3 482.9h0M859.5 489.6h0M870.4 487.6h0M820.1 457.2h0M847.3 474.7h0M860.2 488.4h0M862.1 483.1h0M816.5 450.2h0M825.8 472.2h0M865.4 477h0M823.6 460.3h0M800.4 468.8h0M797.2 467h0M825.1 469.7h0M840.3 469.4h0M850.4 482h0M819.6 454.6h0M852.9 457.2h0M847.3 472.8h0M850.6 489h0M831.9 470.1h0M858.4 466.2h0M865 488.3h0M864 476h0M821.3 459.3h0M823.7 465.8h0M823.6 472.1h0M868.8 492.2h0M823 452.1h0M804.7 467.8h0M818.1 471.8h0M865.7 497.6h0M852.4 460.3h0M844.5 470.3h0M841.8 484.8h0M868.5 470.8h0M850.2 465.4h0M836.5 475.7h0M870.2 494.6h0M844.1 473h0M834.3 470.4h0M831.4 462.1h0M863.9 496.9h0M798.9 467.3h0M823.5 463.4h0M842.8 493.2h0M860.1 468.8h0M824.3 445.9h0M802.4 471.1h0M828.2 468.2h0M842.5 474.4h0M843.7 487h0M854.7 457.3h0M817.2 468h0M836.1 470.2h0M843.7 486.4h0M840.8 490.9h0M857.8 462.5h0M842.3 470.5h0M870.7 488.9h0M862.2 492.9h0M831.3 460.1h0M831.8 451.7h0M832.8 486.4h0M868.5 487.4h0M796.3 473h0M851.8 480.9h0M860.5 463h0M865.3 490.9h0M870.8 492h0M802.1 467.3h0M838.7 469.2h0M861.7 495.7h0M825.4 481.1h0M832.6 488.1h0M817.7 478.3h0M846.4 477.1h0M801.1 471.7h0M865.8 492.7h0M837.2 473h0M842.5 474.3h0M859.1 462.6h0M821.6 473.3h0M870.3 483.9h0M867.6 483.9h0M832.3 470h0M871.2 471.2h0M845.1 484.2h0M840.7 468.1h0M831.2 471.7h0M817.6 446.3h0M825.1 455.5h0M840.7 479.3h0M861.5 487.7h0M852.9 468h0M811.7 475.6h0M842.4 467.9h0M839.4 476.4h0M799.9 470.8h0M833.7 464.3h0M803.7 466.8h0M867.4 477h0M826.5 450h0M847.4 483.3h0M867.1 491.5h0M865.3 469.9h0M868.3 480.1h0M863.6 481h0M851.9 454.8h0M875.4 470.8h0M839.4 467.1h0M853.4 476h0M842.3 472.3h0M833.5 471.9h0M830.6 485.8h0M867.9 490.3h0M824 451h0M800.3 475.5h0M858 467.5h0M847.7 480.5h0M865 496.5h0M824 452.6h0M816.4 443.9h0M827.5 452.1h0M801.9 474h0M860.7 467.6h0M855.2 482.3h0M823.4 476.2h0M811.7 465.8h0M818.3 477.9h0M866.4 498.6h0M858.9 468.9h0M873 469.9h0M869.2 488.3h0M822.9 445.7h0M824.8 447.3h0M872.6 484.9h0M835.4 476.1h0M809.5 479.8h0M826.7 451.9h0M823.4 440.4h0M829.1 453.4h0M824.7 478.4h0M831.6 481.7h0M821.4 462.9h0M855.8 470.6h0M800.2 468.9h0M803.9 471.3h0M816.2 475.6h0M840.2 476.3h0M818.8 454.4h0M845.5 471.7h0M866.2 485.1h0M848.4 492.5h0M852.9 462.2h0M829.6 454.3h0M843.1 474.8h0M799.4 465h0M860 491.6h0M858.7 465.5h0M847.9 488.1h0M806.8 466.5h0M858.7 468.2h0M867.8 492h0M841.8 473.2h0M825.8 481.4h0M823.7 476.5h0M830.3 484.1h0M867.6 488.1h0M814.6 476.6h0M854.5 471h0M865.5 468.7h0M864.8 478.4h0M821.6 464.9h0M845.4 474.1h0M819.2 471.2h0M819.3 449.4h0M822.2 466.4h0M860 471.7h0M819.2 476.5h0M832.3 467.5h0M829.5 473.7h0M831.2 458.2h0M829.2 471.9h0M822.5 463h0M854.4 482.2h0M822.3 450.7h0M825 479.5h0M873.9 477.2h0M852.7 468.7h0M832.9 462.7h0M807 465.9h0M802.4 475.8h0M870.1 483.9h0M820.9 446.6h0M846.7 463.8h0M853.1 458.6h0M846.1 463.1h0M827.5 482h0M843 479.9h0M863.1 486h0M827.9 478.6h0M816.3 452.5h0M795.5 471.9h0M817.6 466.1h0M866.3 484.5h0M846.5 472.8h0M830 472.8h0M845.9 472.1h0M826.1 465h0M816.4 464.8h0M850 471.7h0M855.2 472.3h0M871.2 473.3h0M866.9 483.8h0M805.8 477.8h0M868.9 477.8h0M827.8 459.2h0M812 458.1h0M828.4 449.9h0M851.7 470.7h0M871.9 473.2h0M826.5 481.9h0M828.3 462.1h0M826.3 456.6h0M866.5 496.2h0M815.9 444.2h0M839.4 486h0M824.7 448.6h0M827.5 449.7h0M843.1 474.6h0M823.1 456.2h0M822.9 465.9h0M825.1 479.3h0M830.1 463.1h0M852.7 464.3h0M843.6 480.3h0M871.6 475.5h0M827.2 456.3h0M821.1 442.5h0M819.6 480.7h0M871.3 490.5h0M820.7 465.5h0M843.8 484.8h0M840.1 473.7h0M871.2 470.3h0M860.1 489.4h0M815.9 456.6h0M866.6 491.6h0M823.8 443.8h0M822.6 450h0M833.4 464.2h0M859.5 481.9h0M836.1 473.5h0M806.1 463h0M806.1 475.6h0M869.5 494.2h0M806.4 478.1h0M860.9 489h0M824.4 460.9h0M797.1 468h0M864.8 494.4h0M823.1 449.4h0M830.7 458.5h0M820.9 463.7h0M829.1 456.3h0M854 458.7h0M859.5 463.1h0M850.3 488.1h0M822.1 444.1h0M816.4 449.1h0M818 448.1h0M873.8 468.8h0M818.8 460.7h0M863.2 490.7h0M854.3 456.7h0M821.3 461.9h0M847.5 484.3h0M826.3 442.1h0M840.3 480.3h0M862 474.8h0M840.9 464.3h0M814.4 475.1h0M823.4 454h0M865.2 479.9h0M831.6 466.8h0M865.1 481.4h0M867 498.7h0M828.6 452.2h0M815.9 476.2h0M824 476.8h0M869 485.2h0M812.3 465h0M830.7 480h0M798.1 467.5h0M800.6 471.8h0M797.4 468.7h0M797.7 473h0M860.5 482.7h0M855.9 483.4h0M805.4 465.4h0M826.1 463.8h0M798.2 466.9h0M825.4 462.1h0M833.1 479.9h0M824.7 450.9h0M865.1 479.9h0M812.2 476.8h0M831.2 470.3h0M865.6 493.6h0M818.2 457h0M817.1 449.5h0M855.5 479.7h0M850.7 471.7h0M805.6 471.7h0M841.7 488h0M822.1 455.7h0M843 466.2h0M822.6 446.9h0M849.5 461.2h0M849.4 489.8h0M833.5 472.6h0M832.3 456.6h0M827.3 471.8h0M820.8 459.9h0M835.6 481.3h0M824.8 477h0M841.7 479.8h0M834.2 467.7h0M868.9 488.5h0M827.5 451.7h0M825.1 450.8h0M821.4 450h0M837.2 477h0M858.6 470h0M848.9 471.6h0M836.2 481.2h0M874.8 476.8h0M819.2 442.9h0M805.2 474.8h0M850.8 475h0M863.3 474.5h0M824.5 459.6h0M857 488.3h0M833.7 463.3h0M829.2 479.1h0M821.9 447.5h0M825.7 449h0M852.1 468.2h0M859.4 527.9h0M874.2 550.1h0M868.8 532.9h0M871.7 548.6h0M867.1 517.8h0M878.6 508.6h0M879.1 513.8h0M864.3 526.9h0M874.2 518.7h0M859.1 527.7h0M867.7 532.7h0M879.8 541.5h0M866.3 560.7h0M872.1 540.7h0M864.8 565.9h0M859.9 559.5h0M863.4 563.7h0M879.7 544.9h0M877.9 549h0M864 566.7h0M866.9 563.5h0M870.7 513.6h0M869.4 524.5h0M871.3 509.4h0M875.1 510.1h0M865.2 526.5h0M871.3 538.6h0M871 521.4h0M853.7 530.8h0M874.1 547.1h0M870.4 528.2h0M859.4 562h0M880.6 548.1h0M864.6 536.7h0M868.9 514.9h0M865.5 563.8h0M868.3 527.4h0M875.3 517.4h0M859.7 533.8h0M863.8 553.1h0M860.1 529.7h0M855 532.1h0M861.4 547.1h0M869.3 545.6h0M879.6 547h0M863.7 531.5h0M874.5 522.2h0M861.6 527.8h0M871.4 509h0M871.3 550.4h0M863.6 545.2h0M863.6 531.8h0M864.9 554.9h0M860.5 564h0M853.7 532.4h0M871.3 524h0M874.8 540h0M865.5 518.5h0M873.2 510.8h0M872.2 545h0M871.7 514.1h0M871.2 516.1h0M857.8 534.8h0M875.8 516.7h0M878.5 549.2h0M864.9 561.1h0M854.5 527.4h0M867.1 514h0M860.5 543.2h0M870.5 528h0M864.4 533h0M861.2 553.7h0M867.2 549.4h0M879.1 515.7h0M876.7 546.3h0M862.7 524.4h0M865.8 543h0M863.1 544.3h0M872.1 549.7h0M860.8 562.1h0M864.6 540.3h0M856.9 531.2h0M873.7 537.7h0M865.4 513.6h0M871.7 527.3h0M857.6 535.7h0M869.7 518.3h0M867 522.8h0M873.9 535.1h0M868.8 521.9h0M863.7 565.1h0M870 510.9h0M859.7 530.5h0M870.9 515.8h0M871.8 521.8h0M880.3 515.5h0M862.1 517.6h0M874.6 515.5h0M861.9 553.2h0M877.1 544.9h0M875.5 541.3h0M867.3 547.8h0M867.4 521.4h0M874.3 539.7h0M872.1 536.6h0M867.5 517.7h0M875.8 541.5h0M858.9 529.3h0M870.6 533.4h0M864.8 514.4h0M878.7 506.6h0M863.4 517.5h0M873.7 545.7h0M866.7 563.1h0M867.8 536.1h0M876.3 508.4h0M873.4 524.8h0M862.9 553.4h0M861.4 534.1h0M875.5 540.7h0M863.1 566.8h0M861.5 522h0M853.2 525.7h0M874.1 549.5h0M863.4 554h0M879.9 546.3h0M864 560.5h0M865.9 512.6h0M861.8 551.3h0M851 530.3h0M865 543.4h0M860.8 536.1h0M868.5 511.7h0M879.4 544.4h0M851.1 527h0M877.3 550.2h0M878 509.3h0M874.9 550.6h0M875.4 517.9h0M871.7 545.7h0M864 537.7h0M857 534h0M868.2 562.3h0M858.2 535.7h0M873.9 548.6h0M880.3 515.1h0M861 556.8h0M863.4 565.1h0M876 520.2h0M879.1 510.5h0M861 524.4h0M880.1 544.8h0M862 531.2h0M860.6 529.7h0M874.4 545.6h0M865.2 534.2h0M876.7 543.4h0M873.8 534.3h0M860.6 533.2h0M864.8 553.8h0M855.2 532.9h0M861.9 528.3h0M865.8 564.3h0M877.2 516.6h0M873.9 510.9h0M861.8 529.2h0M868.1 512.4h0M872.2 551.7h0M879.6 512h0M863.1 512.7h0M851.1 531.3h0M864.6 542.6h0M855.5 531.8h0M857 530h0M872.8 550.8h0M863.9 564h0M877.3 548.6h0M862.5 546.9h0M877 536.2h0M874.7 539.7h0M876.2 537.1h0M848.4 553.5h0M849.2 548h0M851.8 549.7h0M847 544.7h0M849.5 549h0M851.8 547.6h0M852 549.4h0M847.9 548.7h0M850.4 553.3h0M851.2 544.3h0M852.8 544.5h0M894.9 527h0M899.4 527.9h0M880.9 527h0M914.2 493.5h0M883.8 482.3h0M906.8 560.5h0M803.4 462.2h0M932.1 517.2h0M872.5 442.2h0M863.7 445.7h0M868.6 460.3h0M838.3 451.5h0M843.4 437.6h0M867.4 445.8h0M843 440.4h0M866.6 454.8h0M845.4 444.6h0M844.8 439.4h0M839.8 436.1h0M836.7 433.3h0M867.3 452.6h0M853.9 449.7h0M827.5 436.1h0M872 465.6h0M870 442.2h0M866.4 452.2h0M845.5 444.5h0M838.6 441.9h0M826 436.4h0M833.8 450.3h0M865.8 459h0M864.9 453h0M857.5 439.7h0M855.9 452.7h0M853.4 434.4h0M830.6 446.4h0M870.2 443.3h0M866.4 441.8h0M847.5 448.3h0M831.1 445.7h0M844.5 434.4h0M825.2 436.5h0M869.7 453.8h0M849.9 432h0M851.5 439.8h0M847.2 454h0M849.7 437h0M845.6 436h0M871.1 442h0M846.3 437.8h0M848.4 448.2h0M843.8 431h0M854.1 433.7h0M839.9 458.9h0M871.8 445.3h0M841.9 452.2h0M868.9 445.9h0M845.3 444.5h0M838.6 435.9h0M842.6 431.8h0M871.3 440.2h0M853.4 438.3h0M832.3 430.8h0M837.6 434.2h0M869.3 432h0M842.3 437.9h0M844.8 441.8h0M826.2 440.2h0M859.2 455.4h0M829.9 445.9h0M870.9 432.3h0M834.5 446.3h0M841.3 436.9h0M845.2 454.8h0M871.4 445.2h0M833.7 433.5h0M839.2 458.9h0M869.7 452h0M846.7 439.9h0M842.1 450.8h0M871 451h0M838.7 459.4h0M839.1 437.7h0M855.7 450.6h0M842.5 457.9h0M862.8 459h0M829.5 439h0M844.3 438.7h0M871.2 448.9h0M867.6 441h0M843 433.3h0M865 451.4h0M839.2 435.9h0M845.4 454.4h0M846.4 450.8h0M857.7 451.6h0M839.2 435.3h0M841.8 449.9h0M863.5 448.2h0M839.7 434h0M835.7 440.7h0M843.1 444.3h0M852 438.5h0M868.5 457.2h0M844.7 454.5h0M835.8 460.1h0M837.3 435.8h0M835.9 456.2h0M840.5 447.4h0M835.1 432.8h0M827.1 436.5h0M840 463.3h0M857.6 453.5h0M867.6 433.6h0M865 431h0M840.2 441.7h0M838.2 453.4h0M847 446.8h0M832 437.4h0M861 452.8h0M834.2 445.3h0M854.2 435.4h0M859.3 431h0M860.7 431.1h0M865 456.8h0M850 429.2h0M830.4 434.8h0M867.1 428.5h0M853.9 441.1h0M855.6 451.7h0M857 436.1h0M866.1 455.6h0M867.6 431.3h0M865.5 463.6h0M861 440.4h0M862.6 455.1h0M846.4 443.9h0M853.3 434.5h0M850.8 434.4h0M850.1 447.4h0M863 438.1h0M838.6 464.1h0M870.3 434.7h0M837 465.4h0M834.6 437h0M871.4 438.1h0M869.8 450.2h0M835.4 455.4h0M829.4 433.3h0M871.4 432h0M870.6 430.7h0M845.3 435.8h0M841.5 445h0M841.2 438.4h0M847.9 451.3h0M865 455.1h0M849.4 439.5h0M830.8 445.3h0M842.7 437.8h0M853.3 436.2h0M867.9 441.6h0M843 439h0M831.7 444.4h0M854.9 431.9h0M829 441.8h0M840.2 444.9h0M828.6 439.3h0M850.1 447.2h0M854.8 452.3h0M861.9 451.8h0M868.1 433.5h0M834.1 438.7h0M845.4 450.8h0M850.8 444.1h0M859.8 449.6h0M842 449.1h0M841.5 430.8h0M835.5 433.3h0M839.9 440.2h0M847.3 449h0M832 436.5h0M846.2 451h0M851.5 435h0M847.3 436.2h0M848.9 453.1h0M866.1 438.1h0M867.9 455.8h0M836.4 435.9h0M853.3 434.2h0M835.5 461.4h0M849 437.4h0M861.9 454.6h0M852.9 434h0M865.5 450.9h0M856.5 429.6h0M846.9 427.5h0M830.2 445.2h0M845.9 435.8h0M832.6 436.4h0M869.7 434.1h0M853.6 432.3h0M870 454.1h0M863.8 431.8h0M838.8 462.5h0M843.6 440.2h0M845.8 452.1h0M849 445.3h0M841 458.5h0M834.5 464.6h0M827.6 432.4h0M855.7 434.3h0M839.6 451.6h0M825.3 437.5h0M862.8 456.8h0M863 439.4h0M865.8 449.9h0M849.6 449h0M855.9 431.1h0M832.3 451.5h0M829.9 437.7h0M872 433.8h0M829.3 433.9h0M840.9 437.8h0M825.7 439.9h0M831.6 435.1h0M865.5 433.6h0M863.4 445.7h0M851.1 433.3h0M830.3 435.2h0M867.4 429.1h0M829.2 431.7h0M872.2 449.2h0M843.5 429.1h0M868.1 430.7h0M868.4 453.1h0M844.8 443.8h0M844.6 437.8h0M834.8 445.2h0M865.9 452.6h0M865 450.9h0M866.5 431.6h0M850.8 438h0M863.7 431.6h0M844.5 447.6h0M838.9 439.9h0M827.9 441.5h0M866.7 458.4h0M843.7 450.2h0M848.3 443.6h0M848.7 440.6h0M836.7 428.3h0M859.5 458.1h0M858.6 455.5h0M845.3 443h0M828.1 445.2h0M834.5 449.4h0M861.4 454.8h0M829.3 445.2h0M847 434.3h0M830.2 437.4h0M850.5 449.2h0M830.4 446.5h0M828.9 441.1h0M836.5 437.4h0M858.3 439.6h0M851.6 431.8h0M833.3 435.8h0M856.6 431.3h0M839.4 451.4h0M867.1 459.2h0M844.5 451.4h0M855.7 430.2h0M851.5 431.1h0M855.7 441.7h0M829.6 432.8h0M869.9 447.5h0M842.8 435.4h0M843.6 447.7h0M839.8 457.2h0M843.8 451.1h0M866.9 464h0M841.6 445.8h0M861.5 451.3h0M862.4 441.4h0M840.9 447.9h0M862 434.4h0M894.6 460.4h0M887.1 463.6h0M904.3 464.1h0M895.7 449.2h0M893.1 446.8h0M882.9 452h0M894.2 447.4h0M891 458h0M889.6 452h0M880.3 454.9h0M892.3 461.9h0M884.8 457.8h0M894.7 453.1h0M878 447h0M887.1 461.9h0M895.6 458.7h0M881.8 444.6h0M892.6 464.1h0M907.7 470.7h0M890.8 459h0M899 449.5h0M903.3 474.3h0M900.7 450.8h0M882.9 453.2h0M885.7 463.1h0M889.2 466.9h0M892 463.6h0M883 449.8h0M882.4 454.1h0M888.7 458.1h0M893.8 467.1h0M910.7 471.6h0M900.5 469.4h0M882 452.1h0M894.4 453.1h0M886.5 451h0M899 456h0M900.7 471.1h0M881.9 451.9h0M899.7 464h0M891 460.1h0M895.5 461.3h0M890.3 468h0M891.1 447.1h0M882.6 453.2h0M879.6 446h0M879.9 450.8h0M900 471.6h0M878 446.1h0M894.7 443.8h0M888.9 451.1h0M905.5 471.1h0M878.6 447h0M882 451.7h0M891.5 458.8h0M896.2 468h0M888.1 459.4h0M897.7 459.8h0M891.3 445.1h0M906.3 470.4h0M883.5 441.6h0M884 444.2h0M896.3 464.7h0M889.2 462.7h0M884.2 447.9h0M887.4 445.1h0M884.6 459h0M881.1 446.9h0M886.9 443.6h0M885.5 448.4h0M879.3 447.1h0M892.8 450.5h0M893.7 446.4h0M897 462.9h0M885 448.7h0M895.3 448.1h0M900 453.8h0M888.4 458.7h0M893 460.8h0M886.3 450.6h0M891.8 454.4h0M885.7 445.6h0M897.8 461.6h0M894.1 448.7h0M889.5 459.8h0M904.1 468.4h0M891.5 444h0M882.8 454.6h0M899.1 455h0M883.2 444.8h0M888 445h0M893.3 447h0M888 459.3h0M885.8 454.7h0M887.5 457.5h0M891.9 447.8h0M898.1 467h0M890.6 461.4h0M903 469h0M887.4 463.8h0M894.2 467.5h0M889 460.8h0M907.7 470.8h0M884.4 455.6h0M899.7 460.5h0M881.4 451.9h0M899.2 452.1h0M881.4 446h0M892.9 454.1h0M899.2 462.5h0M895.7 466.2h0M899.8 465.1h0M887 451.8h0M896.7 448.6h0M894.2 444.6h0M892.5 459h0M883.1 456.3h0M888.8 451.5h0M901.3 470.3h0M880 449.2h0M892.6 451.1h0M877.4 446h0M882.3 451.8h0M905 464.1h0M895.2 456.5h0M898 446.9h0M890.6 449.1h0M901.4 449.4h0M897.9 468.3h0M881.6 453.9h0M892.2 480.6h0M882.2 483.9h0M879.6 493.2h0M876.6 494.3h0M880 491.9h0M881 481.4h0M886.7 475.2h0M888.7 490h0M877.6 495.4h0M882.6 477.4h0M884.1 492.5h0M879.3 475.2h0M894.4 482.9h0M880.8 492.3h0M878.5 474.8h0M879.8 485.6h0M887.3 482.6h0M879.3 490.2h0M883.4 480.4h0M885.7 484.4h0M890.5 488.6h0M876.8 496.3h0M881.4 475.7h0M882.5 481.2h0M884 473.8h0M877.8 485.4h0M890.2 484.5h0M888.4 480.5h0M894 478.9h0M893.7 478.7h0M892.8 480.1h0M877.1 496.4h0M891.5 479.1h0M892.1 484h0M883.2 484.7h0M883.2 486.9h0M880.5 480.5h0M879.7 496.1h0M885.8 495.8h0M888.6 484.9h0M889.3 481.2h0M879.8 488.1h0M881 487.7h0M885.9 486.2h0M892.9 486.5h0M882.5 474.7h0M882.9 487.4h0M893.3 481.2h0M880.4 479.6h0M877.8 496.7h0M883.4 471.9h0M891.8 489h0M884.9 482.5h0M878.3 494.6h0M881.3 476h0M882 482.9h0M884.8 486.8h0M881.3 485.5h0M883.1 486.6h0M854.5 406h0M906.7 456h0M919 470.4h0M896.9 418.1h0M910.8 433.7h0M833 494.5h0M895 506.6h0M908 500.6h0M901.9 507.7h0M897.2 492.3h0M903.4 511.9h0M909.6 491.8h0M904.6 497.3h0M901.8 505h0M897.3 507.7h0M901.2 516.7h0M918.2 511.8h0M902.9 516.2h0M901.2 513.1h0M917.1 513.5h0M895 497h0M895.5 508.7h0M896.1 500h0M905.8 492.2h0M902.5 514.4h0M913.5 518.2h0M901.4 518.2h0M909.8 497.3h0M907 507.3h0M905.3 509.4h0M903.8 497.3h0M901.7 489.9h0M899.1 518.4h0M903.1 497.6h0M897.8 497.9h0M915.5 507.4h0M898.5 500.5h0M893.8 503.4h0M901.9 512.7h0M900.9 511h0M899.5 505.3h0M916.9 510.7h0M906.6 493.3h0M901.4 521.5h0M903.6 507.1h0M900.6 510.7h0M916.8 507.9h0M902.4 506.3h0M906 496.1h0M904.7 511.7h0M900.4 494.7h0M895 516h0M894.7 494.3h0M906.9 494.1h0M900 518.2h0M904.3 492.2h0M902.9 507.5h0M898.4 518.4h0M901.4 508.3h0M911.7 512.3h0M913.9 511h0M894.2 510.1h0M900.7 495h0M902.1 517.7h0M898.2 503.2h0M906.1 515.9h0M903.2 511.4h0M898.9 492.9h0M898.8 501h0M903.7 514.5h0M901.9 513.8h0M904.8 505h0M911 505.1h0M901.2 497.8h0M903.6 512.7h0M897.7 502.1h0M901.4 518.2h0M900.8 493h0M918.8 513.9h0M905 510.4h0M906.9 495.3h0M911.3 492.8h0M900.5 499h0M903 492.6h0M897.7 516h0M905.4 506.9h0M898.8 519.7h0M902.5 514h0M909.1 509h0M914 512.3h0M899.5 493.6h0M902.7 514h0M911.6 507.4h0M908.2 504.6h0M899.7 516.9h0M897.7 497.4h0M899.4 518.6h0M900.4 494.8h0M898.1 505.5h0M904.7 490.7h0M912.4 515.3h0M894 506.3h0M904 511.2h0M909.5 504.6h0M902.5 512.5h0M894.7 498h0M904 497h0M899.2 516.7h0M916.8 512.1h0M900.4 503.8h0M902.4 508.6h0M904.1 505.1h0M900.1 496.9h0M897.9 515.7h0M901.4 508h0M908.7 499.5h0M898.4 517.8h0M903.1 505.2h0M901.8 512.4h0M901.9 517.4h0M897.4 512.9h0M905.3 513.8h0M900.3 494.1h0M901.8 507.9h0M895.4 515.1h0M907.9 497.2h0M903.1 512.7h0M916.4 513.5h0M908.4 495.9h0M904.8 499.4h0M895.9 495.1h0M898.5 514.1h0M893.6 522.9h0M898.5 521.9h0M896 522.5h0M857.7 504.7h0M916.7 427.2h0M918 425.2h0M918.7 416.5h0M912 428.1h0M915 434.5h0M924.8 422.1h0M916.4 432.6h0M917.8 415.4h0M925 423.4h0M910 429.2h0M919.5 427.9h0M917.8 423h0M917 418.9h0M923.7 426.8h0M920.2 435.1h0M917.6 440.2h0M911.2 427.1h0M918.7 434.8h0M918.2 432.4h0M925.6 427.8h0M920.3 431.3h0M916.7 436.2h0M919.4 422.1h0M919.3 434.3h0M918.1 437.9h0M911.4 422.5h0M918.7 423.5h0M917.4 418.4h0M917 438.2h0M910.9 425.2h0M914.6 425.6h0M914.2 423.2h0M916.4 426.6h0M919.2 435.9h0M919.3 413.9h0M918.3 422.6h0M919.5 436.5h0M919.4 436.6h0M915.1 426.8h0M919.8 414.3h0M917 423.4h0M921 417.2h0M918.1 418.3h0M914.6 420.1h0M884.4 411.6h0M888.4 416.1h0M888.1 416.6h0M891.3 421.4h0M895.3 417.7h0M884.3 412.3h0M892.8 418.6h0M892.3 421.1h0M897.5 422.1h0M888.3 412h0M895.4 418.6h0M889.3 419.2h0M896.5 419.6h0M890 415.1h0M890.5 420.9h0M896.6 419.5h0M889.9 411.2h0M887.9 417.3h0M882 411.1h0M888.8 413h0M895.9 418.4h0M892 416.9h0M896.1 421.7h0M937.9 531h0M913.4 535.6h0M949.5 525.7h0M941.2 512.7h0M927.7 526.9h0M944.7 505.7h0M935.4 546.5h0M950.3 528.5h0M934.4 536.3h0M915.9 545.9h0M938 530.8h0M915.2 538.4h0M924.1 542h0M935 524.5h0M919 544.6h0M938.2 538.3h0M918.3 543.2h0M952.7 513.5h0M942.3 526.1h0M924.6 537.4h0M951.5 535.5h0M944 524.7h0M913.9 544.5h0M928.7 538.5h0M946.3 537.1h0M948.8 521.9h0M937 536h0M952.1 530.8h0M939.6 530.6h0M934.5 534.7h0M942.1 509.4h0M939.3 527.4h0M931.9 522.2h0M936.5 520.9h0M951.3 518.5h0M943.3 511.8h0M950.9 514.2h0M939.1 529.7h0M936.4 541.5h0M939.1 538h0M936.4 538.4h0M929.5 523.6h0M922.7 533.4h0M948.9 527.2h0M939.2 522.6h0M923 537.3h0M945 523.4h0M911.5 542.6h0M951.4 525.9h0M952.7 540h0M938.9 548h0M951 511.5h0M926.8 537.4h0M946 509.5h0M924.6 545.3h0M941.6 510.7h0M944.5 523.4h0M945.9 532.8h0M880.3 585.9h0M878.8 578.9h0M886.5 556.5h0M879.3 583.9h0M887.6 564.8h0M884.3 557.2h0M875.5 579.1h0M896.4 558.9h0M890.3 558.9h0M876.9 576.4h0M881.4 579.7h0M894.7 549.2h0M878.8 558.9h0M877.8 563.7h0M877.3 565.8h0M878.6 562h0M876.9 578h0M884.3 550.2h0M899.4 555.2h0M888.2 565.1h0M889.3 559.9h0M876.6 580.7h0M893.5 552.5h0M884.8 552.3h0M890.7 555.8h0M879.2 561.9h0M915.3 563.1h0M920.8 568.7h0M922.8 557h0M926.9 555.3h0M925.9 559.8h0M928 548.9h0M926.3 550h0M923.4 567.2h0M915.8 555.9h0M921.7 567h0M923.6 552.4h0M921.6 558.1h0M916.2 557.4h0M922 565.1h0M918.5 567.4h0M916.6 564.8h0M919.9 565h0M916.9 565.8h0M915.5 563.4h0M919.7 555.6h0M918.2 560.3h0M927.2 563.5h0M924.8 565.6h0M920.5 557.1h0M921 559.6h0M924.6 557.3h0M927.1 549.8h0M922.4 550.8h0M924.8 561.9h0M925.6 554.5h0M924.2 562.9h0M920.5 565.1h0M921 564.3h0M922.2 557h0M918.4 566.5h0M917 555.4h0M910.1 564.9h0M909.7 568.8h0M915.7 568h0M927.8 551.3h0M925.3 550.3h0M908.3 566.7h0M925.9 557.1h0M919.8 566.9h0M932 551.3h0M929 553.5h0M925.2 547.1h0M918.4 566.8h0M923.3 564.4h0M927 559.2h0M925.8 559h0M925.6 547.4h0M930.9 551.3h0M926.8 560.8h0M915.5 557.9h0M922.8 548.7h0M918 561.7h0M927.5 560.9h0M916.3 557.6h0M928.3 553.5h0M914.7 569.1h0M922.7 563.6h0M926.7 558.7h0M913.5 557.5h0M923.6 558.8h0M933.4 554h0M918.1 554.8h0M924.9 565.3h0M921.9 560.9h0M914.2 564h0M926.3 548.7h0M915.2 558.8h0M926.7 554.5h0M901.6 580.5h0M894.7 579.1h0M907.1 569.9h0M908.2 568.9h0M899.4 579.5h0M905.8 580.4h0M904.8 577h0M904.4 566.6h0M908.3 574.7h0M906.4 580.1h0M906.4 578.1h0M895.5 580h0M905.8 577h0M906 572h0M900.5 574.3h0M904.8 578.9h0M903.5 574.5h0M901.7 583.1h0M898.7 582.6h0M909.5 574.9h0M907 577.4h0M906.8 577.7h0M901.3 575h0M909.2 574.1h0M902.7 579.3h0M896.7 577.7h0M908.5 574h0M903.2 574.7h0M901.6 584.4h0M905.2 573.4h0M907.5 572.9h0M895.8 580.2h0M897.4 577.2h0M904.9 569h0M907.1 571.5h0M903 579.1h0M900.2 578.7h0M893.5 579.3h0M908.3 575.8h0M902.6 578.6h0M897.6 580.4h0M903.8 571.3h0M945 582.3h0M948.3 581h0M951.3 583.1h0M934 593.3h0M935.2 589.3h0M939.8 583.4h0M945.4 579.6h0M948.6 591.1h0M944.9 587.7h0M932.8 587.4h0M945.4 581.4h0M938.4 590.2h0M937.8 590.1h0M946.5 585h0M940.4 591.5h0M934.2 595.7h0M934.4 587h0M934.2 583.2h0M933.4 588.4h0M946.5 582.7h0M935.5 594.3h0M944.6 584.5h0M945.8 591.1h0M942 587.4h0M943.9 589.7h0M943.2 582.9h0M943.9 581.4h0M932.4 591.7h0M929.3 595.4h0M932 595.8h0M944.1 588h0M937.2 583h0M939.8 585.1h0M930.7 593.1h0M944.3 580.8h0M945.6 586.3h0M929.1 595.7h0M938.3 592.5h0M938.4 584.2h0M941.6 580.4h0M939.9 587.9h0M927.2 593h0M937.8 583.1h0M950 589.7h0M947.3 589.6h0M933.8 596.2h0M949 580.8h0M936.7 589.4h0M948.9 581.7h0M946.3 591.5h0M941.9 593.2h0M935.1 591.5h0M941.8 586.9h0M948.6 579.9h0M935 585.8h0M945.9 590.1h0M939.9 581.2h0M944.3 583.5h0M940.7 587.4h0M945.5 587.1h0M944 586.6h0M943.8 586h0M945.3 590h0M936.4 587.4h0M940.6 593.2h0M940.4 585.4h0M947.5 583.4h0M939.4 592.1h0M947.4 580.3h0M933.5 584.9h0M941 588.4h0M949.9 586.4h0M963.3 496.2h0M855.5 423.2h0M848.7 579.7h0M855.8 582.6h0M849.6 578h0M853.6 591.1h0M842 591.4h0M841.9 589.8h0M851.1 578.3h0M844.5 589.6h0M847.7 582.6h0M848.1 601.9h0M855.7 590.2h0M848 590.3h0M842.1 593.5h0M845.6 573.7h0M853.4 582.8h0M839.8 589.6h0M846.3 583.7h0M851.4 581.2h0M845.1 601.2h0M848.2 599h0M840.1 587.5h0M846 585.2h0M851.8 593.9h0M849.3 580.2h0M859 590.8h0M843.4 595.4h0M849.3 601.1h0M840.7 591.4h0M840 602.8h0M849.4 577.4h0M856.6 596.9h0M840.9 587.3h0M848.1 578h0M844.2 600.1h0M855.9 593.2h0M849.2 580.3h0M851.7 578.9h0M849.2 585h0M847.6 599.6h0M851.3 584.7h0M845.8 590.8h0M848 573.9h0M853.4 580.3h0M848 597.6h0M842.5 584.9h0M844.4 583.9h0M847.7 578.5h0M845.7 591.2h0M859.4 598.9h0M845.5 587.5h0M843.1 584.8h0M852 595.5h0M851.4 603.5h0M840.1 598.6h0M844.3 590.7h0M847.9 577.9h0M845.5 577h0M848.9 580.7h0M858.7 600.6h0M845.7 604.9h0M849.5 602.5h0M857.6 590.2h0M843 592.7h0M854.3 582.5h0M849.4 583.6h0M841.5 600.5h0M841 601.2h0M846.2 588.9h0M844.7 601.6h0M844.5 589h0M849.9 588.6h0M845.2 600.9h0M856.1 595.4h0M849.1 583.5h0M849.3 595.5h0M844.1 594.1h0M847 579.3h0M853.8 585.7h0M848.7 578.6h0M851.1 577.5h0M846 583.5h0M848.5 596.7h0M848.3 603.6h0M846.9 587.7h0M850.6 595.8h0M840.9 589.3h0M842.5 595.1h0M857.8 595h0M842 584.3h0M850.7 598.7h0M846.7 579h0M846.4 579.3h0M846.4 600.5h0M840 599.8h0M852 582.7h0M844.9 592.8h0M844.1 604.3h0M851.2 588.8h0M859.2 592.2h0M843.5 584.1h0M854.3 599.2h0M852 582.6h0M851 596.6h0M843.7 590.4h0M849.2 591.5h0M845.3 605.2h0M853.5 595.6h0M955.1 471.1h0M943.2 495.8h0M940 489h0M920.5 480.5h0M935.9 478.4h0M930.7 480.6h0M944.5 475.6h0M950 484.8h0M949.6 477h0M948.3 491.5h0M927.4 494.7h0M944.6 490.6h0M932.1 468.9h0M942.5 481.2h0M937.4 482.8h0M938.7 483h0M948.4 482.2h0M944.2 487.6h0M934.3 472.7h0M921.4 489.2h0M924.3 473.3h0M941.6 470h0M947.8 483.8h0M948.6 478.4h0M926.3 485.1h0M940.7 463.6h0M943.7 481.8h0M949.1 466.6h0M934.8 494.6h0M938.4 473.9h0M936.8 462.3h0M945.1 486h0M947.1 491.9h0M956.7 477.3h0M934.7 486.5h0M926.2 490.4h0M955.4 477.3h0M946.4 492.3h0M926.3 474.2h0M949.2 487h0M955.9 478.4h0M931.2 472.8h0M939.2 464.2h0M949.1 469h0M936.4 479.8h0M931.7 487h0M952.6 478.4h0M921.3 484.1h0M948.7 492.7h0M925 488h0M932.1 487.2h0M937.2 471.6h0M953.4 473h0M922.2 478.4h0M938.3 479.9h0M923.5 469.9h0M924.6 479.6h0M941.6 476.8h0M926.2 479.1h0M946.6 486.9h0M921.2 481.8h0M925.5 491.6h0M940.9 464.1h0M951.3 486.1h0M952.8 467h0M922.2 469.9h0M937 474.3h0M945.9 492.4h0M953 476h0M937.1 462.1h0M934.8 476.5h0M931.6 463h0M949.1 489.4h0M923.2 473.6h0M945 462h0M942.7 470.9h0M936.5 477.7h0M947.5 462.5h0M933.6 467.6h0M950 478.2h0M922.2 474.3h0M922.1 470.3h0M922.9 486.8h0M935.6 476h0M951.9 471h0M927.2 465h0M922.8 474.6h0M934.3 469h0M946.5 491.9h0M929 486.2h0M946.9 482.9h0M952.9 479.9h0M949.7 475.8h0M941 482.7h0M940.2 463.2h0M921.4 472.1h0M941.1 490.4h0M935.3 463.1h0M928.5 484h0M932.1 481.3h0M930.9 480.5h0M951.4 490.6h0M944.2 476.5h0M946.1 478.8h0M943.8 481.6h0M932.8 492.1h0M923 481.9h0M944.5 484.5h0M921.6 470h0M926.8 480.7h0M943.8 489h0M932.7 490.7h0M931.5 482.3h0M947.3 475.9h0M949.4 471.6h0M926 471.4h0M949.4 492h0M932.7 481.3h0M951.1 489.1h0M950.5 493.6h0M947.5 483.3h0M948.3 485.5h0M950.2 488.2h0M957 477.1h0M934.5 473.1h0M945.1 491.6h0M951.6 480.7h0M946.1 485.1h0M943.4 490h0M938.2 490.2h0M952.7 477.4h0M945.6 471.1h0M940.2 466.1h0M921.2 484.8h0M956.7 470.5h0M931.1 486.8h0M953.4 486.8h0M943.1 486.8h0M931.6 491.4h0M921 477.4h0M942.9 462.1h0M931.5 464.1h0M928.5 472.3h0M933.8 486.3h0M924 465.4h0M921.9 487.7h0M953.3 483.2h0M947.6 467h0M933.3 493.8h0M940.1 466.2h0M938.8 477.6h0M923 480.8h0M924.6 475.9h0M953.2 475.4h0M933.5 477.7h0M940.2 491.8h0M945.3 493h0M934.7 477.5h0M920.3 474.9h0M928.9 489.7h0M937.8 478.3h0M942.5 485h0M943.3 487.6h0M921.8 482.8h0M943.3 495.5h0M935.6 479.6h0M951.6 484h0M938 495.1h0M938.6 482.6h0M935.3 497.1h0M921.9 478.5h0M942.4 467h0M937.6 477.8h0M947.1 463.9h0M947.6 494.9h0M950.9 476h0M925.6 482.6h0M950.5 480.7h0M951.1 485.6h0M926.4 485.5h0M927.8 493.9h0M933.2 465.1h0M944.7 495.6h0M937 491.8h0M949.4 484.3h0M952.2 483h0M941.4 486.6h0M949 493.4h0M956.8 472.4h0M945.7 480.4h0M948.6 473.6h0M944.4 491.1h0M941.7 466.6h0M952.2 481h0M934 477.9h0M920.4 482.4h0M952.5 480.3h0M937.4 488.8h0M929 488.9h0M941.3 484.8h0M948.7 485.6h0M952.6 478.5h0M938.5 487.6h0M927.7 485.6h0M940.5 487.5h0M939.2 465.7h0M921.2 475.9h0M934.1 494.1h0M938.1 482.2h0M933.9 465.2h0M948.7 465.4h0M929.7 482.7h0M936.9 463.4h0M934 476h0M938.5 465.8h0M929.6 481.2h0M956.5 488.6h0M934.9 461.5h0M936.2 474.8h0M944.8 491.9h0M938.5 495.5h0M943 476.1h0M934.9 495.5h0M932.1 482.3h0M928.7 487.6h0M920 481.7h0M954.7 469h0M945.1 489.4h0M926.6 467.1h0M931.1 460.9h0M930.2 461.7h0M933.7 462.6h0M926.5 463.4h0M926.4 465.1h0M934.8 464.5h0M930.8 464.5h0M933.5 461.4h0M931.8 462.8h0" stroke="#e3e3e3" stroke-width="3.9" stroke-linecap="round" fill="none"/>
<path d="M575.1 478.5h0" stroke="#f9dbc6" stroke-width="5.4" stroke-linecap="round" fill="none"/>
<path d="M624.3 584.6h0" stroke="#f5a984" stroke-width="5.4" stroke-linecap="round" fill="none"/>
<path d="M665.1 577.1h0M655.8 574.3h0M663.5 571.1h0M662.3 583.5h0M663.8 573.2h0M661.6 581.2h0M655.4 573.2h0M661.1 578.1h0M662.8 569h0M652.7 568.8h0M656.2 584.1h0M654.9 567.7h0M657.6 572.8h0M656.4 565.5h0M659.1 577.4h0M661.3 564.3h0M665.1 577.6h0M654.6 577.1h0M658.2 580.1h0M661.1 577.8h0M662.9 562.1h0M663.7 570.6h0M664.4 577.4h0M658.6 577h0M653.4 576.6h0M657.3 563.9h0M660.6 569.8h0M657.6 583.5h0M665.5 581.7h0M660.9 570.6h0M665.7 577.4h0M661.5 566.3h0M666.7 582h0M663.1 582.2h0M660.4 566.8h0M662.9 583.2h0M657.8 566.5h0M662.7 587.1h0M660.6 575.2h0M658.8 583.8h0M656.7 570.2h0M664.4 575.3h0M657.7 562.9h0M652.1 567.6h0M654.2 576.8h0M658.1 583.4h0M664 584.2h0M655.7 570.5h0M654.5 576.5h0M657.1 566.8h0M655.7 568.8h0M663.9 569.7h0M657.1 572.1h0M659 581.5h0M657 566.1h0M656.5 579.6h0M664.6 584.5h0M658.4 579.1h0M652.7 576.5h0M663.7 579.8h0M656.7 565.1h0M659.4 584.1h0M662.5 574.9h0M666.3 578.7h0M662 585.5h0M660.6 569.5h0M659.6 574.9h0M658.2 578h0M660.8 563.5h0M660.8 577.5h0M665.3 574.4h0M655.7 556.1h0M658.7 557.8h0" stroke="#f37551" stroke-width="5.4" stroke-linecap="round" fill="none"/>
<path d="M632.3 395.9h0M635 395h0M637.3 396.4h0M634.6 398.2h0M635.9 400.9h0M637.3 404.6h0M634.8 411.4h0M640 395.9h0M642.8 394.6h0M645.5 392.7h0M645 398.2h0M647.3 395.5h0M649.1 390.9h0M651 388.2h0M653.7 386.8h0M655.5 389.6h0M654.6 392.7h0M651.9 391.8h0M649.6 388.7h0M647.3 388.2h0M638.7 397.3h0M641.4 396.4h0M653.2 390.5h0M648.7 393.2h0M633.2 397.3h0" stroke="#ed614c" stroke-width="5.4" stroke-linecap="round" fill="none"/>
<path d="M666.8 562.3h0M667 562h0M666 552.6h0M671 566.3h0M668.3 557.3h0M667.5 553.1h0M668.9 549.9h0M665.2 562.9h0M665.8 556.2h0M667.2 559.4h0M670.9 546h0M671.1 563.9h0M670.1 547.3h0M669 556.2h0M666.8 550.5h0M669.8 552.6h0M666 554.3h0M671.1 554.1h0M668.4 564.5h0M671.6 563.4h0M669 560.5h0M671.5 555h0M671.7 555h0M667.7 559.8h0M668.4 562.4h0M666.1 556.4h0M671.1 550.9h0M669.5 558h0M665.5 556.9h0M670.4 548.2h0" stroke="#e84d48" stroke-width="5.4" stroke-linecap="round" fill="none"/>
<path d="M678.5 555.9h0M675.6 552h0M676.3 557.4h0M673.9 564.6h0M676.7 549.8h0M672.3 561.3h0M673.3 547.9h0M672 558.3h0M678.3 550.7h0M673.7 554.7h0M674.1 553h0M676.9 550.2h0M674.9 551.4h0M678.3 556.2h0M675.3 549.8h0M673.3 547.8h0M672.1 550.4h0M676.3 555h0M678.4 552.2h0M676.8 553.6h0M679.4 553.4h0M673.8 562.5h0M673.3 555.9h0M676.9 555.7h0M675 550h0M674.3 548.2h0" stroke="#e33943" stroke-width="5.4" stroke-linecap="round" fill="none"/>
<path d="M675.9 538.9h0" stroke="#d62d47" stroke-width="5.4" stroke-linecap="round" fill="none"/>
<path d="M740.1 554.8h0M743 554.4h0" stroke="#b81d54" stroke-width="5.4" stroke-linecap="round" fill="none"/>
<path d="M731.4 521.2h0M724.1 514.9h0M730.3 543.8h0M721.2 540.1h0M722.9 515.4h0M730.6 522.6h0M734.9 536.4h0M728.3 510h0M734.6 538.9h0M722.6 539.3h0M728.4 532.4h0M732.1 509.8h0M728.7 541.5h0M730.8 513.6h0M722.6 538.2h0M723.6 522.9h0M729.7 530.1h0M724.9 535.8h0M728.4 530.8h0M723.7 533.3h0M727.9 509.3h0M728.5 513.1h0M731.5 540.2h0M725.9 542.1h0M728.2 513.5h0M730.1 520h0M724.5 548h0M724.5 513.8h0M721.7 520.4h0M722.4 536.3h0M733 540.3h0M725.3 525.9h0M733.5 535.9h0M733.4 521.6h0M722.7 518.8h0M730.9 513.3h0M725.1 528.4h0M727.5 506.8h0M726.3 524.5h0M729.2 527.9h0M723.7 531.5h0M727.5 530.9h0M731.9 542.4h0M726.4 537h0M723.8 525.9h0M722.5 522.5h0M731 531.8h0M726.3 527.4h0M731.2 516.9h0M734.8 539.1h0M722.4 535h0M727.9 525.6h0M732 542.5h0M724.8 545.6h0M731.1 536.7h0M730.1 525.2h0M726.2 523.1h0M730.6 512.2h0M730.6 541.4h0M729 535.8h0M731.9 509.3h0M722.1 536.8h0M731.4 534.7h0M732.1 543.6h0M724.7 513.3h0M720.8 525.9h0M728.2 531.3h0M731.5 527.6h0M729.7 514.8h0M727.2 527.8h0M729.7 521.8h0M726.7 539.3h0M726.8 535.7h0M727.5 512h0M727.6 528.9h0M724.6 529.3h0M721.5 514h0M721.9 546.3h0M731.9 535.3h0M729.5 510.1h0M722.2 520.6h0M724 513.8h0M728.3 511.2h0M725 519.6h0M730.1 518.8h0M723.9 509.7h0M731.8 519.7h0M734.8 523.3h0M724.9 511.2h0M736.1 537.8h0M722.6 515.1h0M721.5 515.4h0M736.4 538.8h0M728.8 540.4h0M722.7 508.8h0M735.1 537.9h0M726 546.1h0M723.3 529.3h0M727 519.5h0M728.1 543.9h0M726.2 513.2h0M729 515.4h0M726.9 510.1h0M730.4 508.2h0M721.2 535h0M724.6 547.5h0M726.5 538.2h0M732.5 526.4h0M721.5 536.4h0M724.8 540h0M726.8 513.4h0M721.9 541.8h0M734.7 524.6h0M735.8 538.4h0" stroke="#a71859" stroke-width="5.4" stroke-linecap="round" fill="none"/>
<path d="M715.2 520.4h0M713.9 530.9h0M720.3 526.5h0M716.8 540.1h0M714.5 529h0M717.2 526.5h0M718.9 526.1h0M717 543.2h0M718.4 544.7h0M717.3 536.1h0M714.6 527.4h0M719.5 516.3h0M720.1 528.1h0M719 544.6h0M717.9 548.2h0M718 540.6h0M718.3 526.3h0M715.6 526.7h0M716.2 540h0M720.6 513.7h0M717.1 547.2h0M716.4 525.7h0M713.7 544h0M720.1 526.2h0M718.3 527.3h0M715.4 544.5h0M720.3 533.5h0M715.6 528.3h0M716.9 525.8h0M715.8 548.3h0M714.2 522.2h0M717.1 524.8h0M714.6 535.3h0M716.6 540h0M719.1 535.2h0M719.3 518.2h0M720.5 527.4h0M719.3 531h0M718.4 527.6h0M716.7 525.5h0M720.3 540.1h0M717.8 546.7h0M717 544h0M716.2 533.3h0M716.6 534.2h0M715.2 543h0M713.9 519.5h0M719.2 502.3h0" stroke="#951a58" stroke-width="5.4" stroke-linecap="round" fill="none"/>
<path d="M711.7 526.5h0M712.1 533.6h0M712.9 541.7h0M712.3 542.8h0M711.2 540.3h0M711.8 536.1h0M711.8 530h0M710.5 531.8h0M711 530h0M713.4 521.8h0M712.8 535.4h0M711.8 535.8h0M712.1 540.7h0M712.1 531.1h0M710 524.7h0M713.4 540.4h0M712.6 532.2h0M712.7 522.6h0M711.4 525.5h0M710.9 531.2h0M709.9 531.7h0M712 528.8h0" stroke="#831d58" stroke-width="5.4" stroke-linecap="round" fill="none"/>
<path d="M709 538.3h0M708.7 545.8h0M709.6 535.3h0M709.1 535.7h0M708.2 549.9h0M709.1 536h0M710 543.4h0M708.9 535h0M710.5 537.9h0" stroke="#601d50" stroke-width="5.4" stroke-linecap="round" fill="none"/>
<path d="M706.8 543.3h0M703.8 546.6h0M703.7 538.4h0M705 542.9h0M705.7 543h0M707.3 535.8h0M703.9 538h0M707.8 539.4h0M704.4 547.1h0M706.3 542.4h0M705.1 548h0M705.3 540.1h0M705.5 547.2h0M707.3 533.7h0M705.9 537.2h0M706.5 532.4h0M706.5 544.2h0M704.5 543.1h0M706 539.4h0M705.8 535.3h0M705.7 542h0M704.3 534.3h0" stroke="#501c49" stroke-width="5.4" stroke-linecap="round" fill="none"/>
<path d="M689.9 546.9h0M694.2 546.3h0M694.3 549h0M701.8 540.2h0M689.7 545.3h0M695.9 537h0M699.4 548h0M688.3 541.6h0M691 535.2h0M701.3 532.4h0M697 550.1h0M690.4 545.7h0M703.4 544.1h0M692.1 541.6h0M696.9 536h0M691.7 547.9h0M699.8 547.6h0M702.3 537.1h0M693.6 547.3h0M697.1 546.5h0M700.1 541.7h0M695.6 542.7h0M696 536h0M693.8 533.5h0M700.3 537.6h0M689.9 543h0M701.1 542.5h0M695.4 538.2h0M693.8 541.2h0M699.1 543.8h0M699.1 537.6h0M690.3 547.4h0M695.2 545.3h0M693.8 540.9h0M693.2 535.5h0M700.3 548.8h0M692.4 546.2h0M695.6 535.8h0M695.3 549.8h0M694.9 542.4h0M697.8 532.3h0M701.9 548.7h0M697.9 533.7h0M693 545.9h0M700.9 544.8h0M702.6 543.1h0M698.3 544.2h0M699.4 537.1h0M701.8 542.4h0M702.2 542.5h0M697.1 546.2h0M702.2 535.4h0M702.5 550.1h0M692.3 537.1h0M700.5 547.9h0M695.8 542.3h0M691.4 548.8h0M699.2 544.9h0M701.1 540.2h0M698.3 532.8h0M692.8 547.2h0M695.2 546.5h0M695.1 544.8h0M698.7 539.8h0M693.8 539.9h0M695.8 547.3h0M701.9 539.1h0M700.6 551.7h0M701.5 541.1h0M694.4 527.8h0M690.1 549.1h0" stroke="#3f1a42" stroke-width="5.4" stroke-linecap="round" fill="none"/>
<path d="M850.6 395.9h0M857 395h0M852.4 400.6h0M854.3 406.1h0M866.3 389.4h0M870 387.2h0M853 403.9h0M865.6 391.7h0" stroke="#f9dbc6" stroke-width="5.4" stroke-linecap="round" fill="none"/>
<path d="M868.9 563.5h0" stroke="#e84d48" stroke-width="5.4" stroke-linecap="round" fill="none"/>
<path d="M878.5 583.7h0M879.8 574h0M877.4 579.5h0M880.1 575.8h0M882.6 577.5h0M875.2 576.5h0M878 585h0M880.6 576.9h0M875.1 574.3h0M878.7 584.6h0M873.5 577.8h0M879.2 578.8h0M875.7 579.1h0M879.6 584.8h0M877.8 574.6h0M878.9 578.1h0M875.8 579.2h0M878.5 577.7h0M880.3 578.7h0M874.6 576.6h0M883.4 575.6h0M882.4 574.2h0M873.4 575.8h0M882.3 574.4h0M875.8 580.4h0M881.2 574.9h0M881.2 582.4h0M880.2 580.6h0M876 583.7h0M878.7 584.1h0M882.5 582.6h0M876.8 579.7h0M873.7 575.9h0" stroke="#e33943" stroke-width="5.4" stroke-linecap="round" fill="none"/>
<path d="M880.1 569h0M879.5 568.2h0M882.1 572.1h0M880.8 570.4h0M877.2 568.6h0" stroke="#d62d47" stroke-width="5.4" stroke-linecap="round" fill="none"/>
<path d="M880.3 566.3h0M878.3 560.4h0M878.4 563.4h0M875.3 567.2h0M875.9 566.3h0M877.8 561.4h0M881.6 562.8h0M884.2 565.9h0M880.6 564.2h0M880.5 562.8h0M878.8 564.4h0M876.8 559.9h0M877.7 562.3h0M881.5 562.8h0M879.5 565.3h0M876.5 567h0" stroke="#c7254e" stroke-width="5.4" stroke-linecap="round" fill="none"/>
<path d="M885.9 564.8h0M887.3 563.3h0M884.6 564.5h0M888.2 562.4h0M887 564.4h0M888.3 564.8h0M887 562.9h0M887.7 562h0M960.3 554.8h0" stroke="#b81d54" stroke-width="5.4" stroke-linecap="round" fill="none"/>
<path d="M884.3 560h0M889.7 560.7h0M889.6 560.1h0M883.2 560.1h0M888 561h0" stroke="#a71859" stroke-width="5.4" stroke-linecap="round" fill="none"/>
<path d="M886.2 555.4h0M886.4 549.3h0M882.1 556.1h0M888.8 553h0M888.3 547.9h0M885 554.9h0M882.7 547h0M887.5 549.1h0M883.7 547.2h0M889.1 547.1h0M886.9 556.7h0M884.8 551.3h0M884.6 557h0M889.6 547.9h0M888.1 552.7h0M885.4 553.8h0M885.3 545.2h0M883.4 552.5h0M886.7 552h0M888.5 559.4h0M889.5 553.6h0M889.8 546.7h0M885.5 557.2h0M887.5 547.1h0M887.9 546.4h0M889.5 546.2h0M892.6 560.4h0M884.4 549.1h0M887.6 549h0M886.7 555.3h0M889.3 553.1h0M887.7 555.9h0" stroke="#951a58" stroke-width="5.4" stroke-linecap="round" fill="none"/>
<path d="M892.2 550.4h0M893.6 557.7h0M892.7 557.3h0M893 557.9h0M892.3 553.1h0M890.9 549h0" stroke="#831d58" stroke-width="5.4" stroke-linecap="round" fill="none"/>
<path d="M893.5 553.7h0M894.4 556.8h0M894 551.7h0" stroke="#711f57" stroke-width="5.4" stroke-linecap="round" fill="none"/>
<path d="M897.9 553.5h0M897.4 554.3h0M896 553.7h0M896.3 552.1h0" stroke="#601d50" stroke-width="5.4" stroke-linecap="round" fill="none"/>
<path d="M948.1 536.5h0M950 525h0M950.5 535.7h0M950.3 515.5h0M951.5 514.7h0M952.8 539.4h0M950.6 517h0M951.5 516.7h0M951 512.5h0M949.1 522.5h0M948.6 526.6h0M951.5 522.7h0M950.5 536.5h0M949.1 516.6h0M948.1 542h0M951.8 519.5h0M948.6 512h0M950.8 535.7h0M948.7 531h0M950.9 540.9h0M951.1 537.2h0M949.1 509.4h0M949.8 528.8h0M948.1 516.6h0M950.3 539.9h0M951.3 536.9h0" stroke="#501c49" stroke-width="5.4" stroke-linecap="round" fill="none"/>
<path d="M946.2 540.7h0M941.5 505.7h0M946.6 534.1h0M945.2 510.6h0M945.1 520.8h0M944.2 530.8h0M946.9 524.7h0M944.8 519.5h0M946.7 532.9h0M944.1 529.7h0M947.3 517.3h0M946.6 512.8h0M947 520.3h0M944.3 510.7h0M947.5 527.2h0M941.6 513.2h0M946.4 516.5h0M941.5 533.5h0M944.6 506h0M943.1 538.4h0M947.1 539.5h0M944.2 544.8h0M942.5 528.9h0M942.4 536.1h0M945.1 538h0M943.9 545.4h0M945.3 528.6h0M943.5 511.4h0M943 543h0M944.5 515.8h0M944.4 532.5h0M942.9 529.2h0M947.9 521.6h0M945.7 537.3h0M947.3 536.5h0M945.5 538.1h0M942.6 509h0M944.5 516.7h0M943.4 542.1h0M945.2 532.4h0M944.1 513.8h0M941.5 545.3h0M942.4 537.9h0M943.6 517.1h0M946.3 510.3h0M945.3 522.1h0M944.8 505.6h0M942.5 548.1h0M944.9 542.6h0M946.8 527.1h0M945.6 537.5h0M942.4 528.4h0M947.1 537.3h0M944.9 536.9h0M947 520.8h0M942 519.3h0M946.4 518.7h0M944.3 504.7h0M946.6 541.9h0M942.9 536.7h0M946.6 513.9h0M947.3 531.3h0M947.7 533.5h0M947.7 511.6h0M944.5 545.7h0" stroke="#3f1a42" stroke-width="5.4" stroke-linecap="round" fill="none"/>
<path d="M939.4 538.8h0M940.6 512.9h0M940.6 517.7h0M939.2 526.4h0M936.2 505.5h0M936.2 516.4h0M940.7 518.4h0M936.3 540.3h0M940 508.4h0M941 529.2h0M938.1 509.3h0M937.2 545.7h0M936.9 531.3h0M938.5 512.6h0M940.9 524h0M941.1 523h0M940.8 534.2h0M938 526.7h0M938.8 521.2h0M939.1 518.4h0M937.7 513h0M939 549.1h0M938.9 530.2h0M937 549.3h0M939 538.2h0M940.7 545.4h0M936.3 547.4h0M936.7 519.8h0M940.9 548.1h0M938.4 543.6h0M940.4 516.1h0M939.8 536.6h0M937.4 545.9h0M936 512.5h0M941.3 532.9h0M939.5 515h0M937.6 522.9h0M938.5 542.9h0M937 520.6h0M940.5 521h0M939.1 502h0M939.1 513.4h0M939.6 530.8h0M937.5 512.7h0M939.4 532.1h0M937.8 519.8h0M941.1 504.7h0M939.8 519.3h0M936.7 525.5h0M940 543.4h0M935.8 534.7h0M938.5 519.2h0M939 520.8h0M940.6 523.8h0M938 538.6h0M940.3 540.5h0M938.2 519.8h0M939.4 518.4h0M941.1 510.8h0" stroke="#30173a" stroke-width="5.4" stroke-linecap="round" fill="none"/>
<path d="M932.5 545.4h0M930.6 538.5h0M919.5 526.1h0M932.1 516.6h0M922.5 524.7h0M933.5 548.8h0M933.1 548h0M934.2 539.8h0M923.4 527.4h0M929.9 544.5h0M929.7 531.8h0M928.7 541.6h0M928.4 525.3h0M932.9 537.4h0M922.7 535h0M925.2 541.1h0M931.7 539.9h0M932.1 518.7h0M928.6 529.1h0M935.1 543.1h0M927.7 547.7h0M920.4 528.1h0M934.4 532h0M934.2 525.5h0M928.6 533.6h0M932.8 518.5h0M934.3 532.9h0M935.3 524.5h0M925.5 540.1h0M927.1 523h0M934.3 528h0M934.6 543.3h0M925.1 535h0M932.4 549.2h0M923.2 529.9h0M925.7 541.1h0M922.6 530.8h0M926.4 524.5h0M932.1 545h0M921.1 528.1h0M931.5 525.3h0M933 536.2h0M935.3 549.5h0M926.7 532.1h0M930.3 528.7h0M930.8 527.4h0M933.8 545.2h0M933.9 514.8h0M933.6 551.2h0M922.7 538.7h0M933.7 523.5h0M927.2 544.5h0M926.9 532.7h0M924 536h0M931.8 548.6h0M926.5 530.5h0M928.4 532.6h0M926.2 534.1h0M931.1 523.1h0M930.1 523h0M926.7 525.3h0M931.4 549.5h0M935.2 543.9h0M928.6 523.4h0M932.4 551.8h0M935 537.1h0M934.8 528.5h0M933.2 527h0M932 529.7h0M926 542h0M933.7 525.4h0M928.2 545.1h0M932.5 520.6h0M925.8 529.8h0M925.8 540.2h0M925.4 527.2h0M933.4 522.2h0M922.9 535.9h0M933.4 517.6h0M932.7 539.2h0M935.5 518.1h0" stroke="#21112f" stroke-width="5.4" stroke-linecap="round" fill="none"/>
<path d="M911.3 549.1h0M918 539.1h0M910.9 544.5h0M924.8 545.2h0M923.1 539.4h0M924.2 543.2h0M913.1 543.7h0M926.3 544.7h0M920.5 537.2h0M915.8 542.1h0M910.2 547.9h0M918.5 540.9h0M918.3 543.4h0M921.7 546.6h0M909.5 543.8h0M912.6 544.9h0M913.8 546.2h0M917.3 543.9h0M921.8 541.9h0M915.2 543.4h0M924.9 543.6h0M921.9 537.6h0M910.7 543.8h0M915.8 545.4h0M922.3 538.2h0M915.2 542.1h0M918.1 538.9h0M910.4 541.4h0M923.5 540.1h0M923.9 544.2h0M918.1 543.7h0M919.7 535.3h0M909.8 536.9h0M912.9 550.9h0M922.9 539h0M924.5 541.6h0M919.6 539.5h0M912.7 549.7h0M912.9 549.7h0M906.8 540.4h0M917.6 538.5h0M922.4 540.4h0M908.3 551h0M917.3 542h0M917.4 542.6h0M920.2 540.7h0M916.1 536.6h0M911.5 549.4h0M922.8 541.5h0M920.3 546.9h0M913 541.7h0M911.5 544.8h0M921.6 541h0M915.4 546.5h0M913.1 547.1h0M908.5 546.6h0M922.7 547.1h0M907.3 538.8h0M914.4 541.7h0M913.1 538.2h0M908.3 547h0M916.7 540.1h0M910.6 545.3h0M924.5 547.4h0M908.1 545.6h0M916.1 535.9h0M913.3 527.2h0" stroke="#120b25" stroke-width="5.4" stroke-linecap="round" fill="none"/>
<path d="M705 501.2C710 499.2 714.9 498.9 719.9 498.7C724.8 498.5 730.7 498.9 734.7 500.2C738.8 501.5 742.5 503.2 744.3 506.6C746.2 509.9 746 515.8 745.8 520.4C745.6 525 744.9 529.9 743.2 534.2C741.6 538.4 739 542.9 735.8 545.9C732.6 548.8 728.5 550.6 724.1 551.8C719.7 553.1 713.9 552.9 709.2 553.3C704.6 553.7 700 553.3 696.5 554.4C693 555.4 690.8 557.2 688 559.7C685.2 562.2 682 565.5 679.5 569.2C677 573 675.1 578.5 673.1 582C671.2 585.5 669.9 588.6 667.8 590.5C665.7 592.4 663 593.6 660.4 593.3C657.7 592.9 654.1 591.3 651.9 588.4C649.7 585.4 648.1 579.9 647.2 575.6C646.3 571.4 646.1 566.6 646.6 562.9C647 559.2 647.4 556.5 649.7 553.3C652.1 550.1 656.1 548.2 660.4 543.7C664.6 539.3 670.3 532.2 675.2 526.7C680.2 521.3 685.2 515.1 690.1 510.8C695.1 506.6 700 503.3 705 501.2Z" stroke="#111" stroke-width="1.45" fill="none" stroke-dasharray="6 4.3"/>
<path d="M923.3 501.2C928.3 499.2 933.2 498.9 938.2 498.7C943.1 498.5 949 498.9 953 500.2C957.1 501.5 960.8 503.2 962.6 506.6C964.5 509.9 964.3 515.8 964.1 520.4C963.9 525 963.2 529.9 961.5 534.2C959.9 538.4 957.3 542.9 954.1 545.9C950.9 548.8 946.8 550.6 942.4 551.8C938 553.1 932.2 552.9 927.5 553.3C922.9 553.7 918.3 553.3 914.8 554.4C911.3 555.4 909.1 557.2 906.3 559.7C903.5 562.2 900.3 565.5 897.8 569.2C895.3 573 893.4 578.5 891.4 582C889.5 585.5 888.2 588.6 886.1 590.5C884 592.4 881.3 593.6 878.7 593.3C876 592.9 872.4 591.3 870.2 588.4C868 585.4 866.4 579.9 865.5 575.6C864.6 571.4 864.4 566.6 864.9 562.9C865.3 559.2 865.7 556.5 868 553.3C870.4 550.1 874.4 548.2 878.7 543.7C882.9 539.3 888.6 532.2 893.5 526.7C898.5 521.3 903.5 515.1 908.4 510.8C913.4 506.6 918.3 503.3 923.3 501.2Z" stroke="#111" stroke-width="1.45" fill="none" stroke-dasharray="6 4.3"/>
<ellipse cx="0" cy="0" rx="29.4" ry="19" transform="translate(640.3 400) rotate(-24.4)" stroke="#111" stroke-width="1.45" fill="none" stroke-dasharray="6 4.3"/>
<ellipse cx="0" cy="0" rx="29.4" ry="19" transform="translate(858 399.8) rotate(-24.4)" stroke="#111" stroke-width="1.45" fill="none" stroke-dasharray="6 4.3"/>
<text x="568.7" y="398.1" font-size="12.40">PMN-</text>
<text x="568.7" y="413.5" font-size="12.40">MDSC</text>
<text x="784.4" y="398.1" font-size="12.40">PMN-</text>
<text x="784.4" y="413.5" font-size="12.40">MDSC</text>
<text x="694.4" y="588.4" font-size="12.80">CD8<tspan dy="-3.6" font-size="7.5">+</tspan><tspan dy="3.6">&#8203;</tspan> T cell</text>
<text x="913.9" y="588.4" font-size="12.80">CD8<tspan dy="-3.6" font-size="7.5">+</tspan><tspan dy="3.6">&#8203;</tspan> T cell</text>
<defs><linearGradient id="cb" x1="0" y1="0" x2="0" y2="1"><stop offset="0%" stop-color="#03051a"/><stop offset="14%" stop-color="#35193e"/><stop offset="29%" stop-color="#701f57"/><stop offset="43%" stop-color="#ad1759"/><stop offset="57%" stop-color="#e13342"/><stop offset="71%" stop-color="#f37651"/><stop offset="86%" stop-color="#f6b48f"/><stop offset="100%" stop-color="#faebdd"/></linearGradient></defs>
<rect x="994" y="447.4" width="24.6" height="119.3" fill="url(#cb)"/>
<path d="M994 465.3h4.8M1013.8 465.3h4.8M994 490.7h4.8M1013.8 490.7h4.8M994 516.1h4.8M1013.8 516.1h4.8M994 541.5h4.8M1013.8 541.5h4.8" stroke="#fff" stroke-width="0.9" fill="none"/>
<text x="1024.2" y="469.7" font-size="12.20">400</text>
<text x="1024.2" y="495.1" font-size="12.20">300</text>
<text x="1024.2" y="520.5" font-size="12.20">200</text>
<text x="1024.2" y="545.9" font-size="12.20">100</text>
<text x="992.6" y="424" font-size="12.40">No. of</text>
<text x="992.6" y="438.3" font-size="12.40">neighbours</text>
</svg>
</body></html>
